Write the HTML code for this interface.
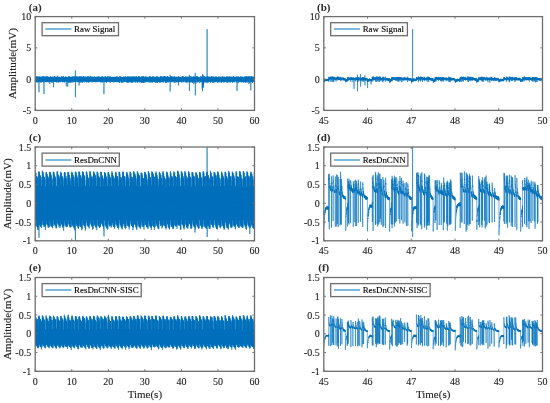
<!DOCTYPE html>
<html><head><meta charset="utf-8"><title>Figure</title>
<style>
html,body{margin:0;padding:0;background:#fff;width:550px;height:403px;overflow:hidden}
svg{display:block}
text{font-family:"Liberation Serif", "Times New Roman", serif;fill:#262626;stroke:#262626;stroke-width:0.12px}
.tk{font-size:10px}
.lg{font-size:8.9px;fill:#000;stroke:#000}
.pl{font-size:11px;font-weight:bold;fill:#2a2a2a;stroke:none}
.al{font-size:11px}
</style></head><body>
<svg width="550" height="403" viewBox="0 0 550 403">
<rect width="550" height="403" fill="#fff"/>
<clipPath id="c00"><rect x="35.20" y="16.60" width="219.30" height="93.80"/></clipPath>
<g clip-path="url(#c00)"><polyline points="35.2,82.1 35.4,78.9 35.6,78.3 35.6,81.0 35.7,81.5 35.7,76.2 35.8,76.9 36.0,82.2 36.0,76.8 36.1,80.3 36.2,76.6 36.4,81.5 36.4,76.7 36.6,82.0 36.7,81.2 36.7,77.2 36.9,80.7 37.0,77.9 37.0,82.5 37.2,77.6 37.2,80.8 37.3,76.3 37.5,81.8 37.5,77.0 37.6,76.8 37.7,82.5 37.9,82.3 38.0,76.5 38.1,77.0 38.2,81.6 38.2,77.5 38.3,80.3 38.5,81.9 38.5,76.8 38.6,80.9 38.6,78.0 38.8,78.5 38.9,82.9 39.0,92.3 39.1,78.7 39.2,81.2 39.3,76.7 39.5,82.3 39.5,76.7 39.8,77.0 39.8,81.4 39.9,81.2 40.0,76.8 40.1,81.9 40.2,77.0 40.3,81.4 40.3,76.7 40.6,77.8 40.6,80.6 40.7,78.5 40.7,82.7 40.8,82.0 40.9,76.9 41.2,81.2 41.2,76.9 41.3,76.9 41.3,82.0 41.5,82.3 41.5,77.2 41.7,82.1 41.7,76.8 41.9,80.4 41.9,77.3 42.0,81.4 42.1,76.6 42.2,77.8 42.3,80.5 42.5,78.0 42.5,82.0 42.7,79.0 42.7,81.2 43.0,81.3 43.0,76.4 43.1,81.4 43.1,76.5 43.2,81.4 43.3,76.2 43.4,81.8 43.5,76.4 43.6,82.5 43.7,76.4 43.9,77.1 44.0,94.1 44.0,77.5 44.2,80.5 44.2,77.9 44.3,82.1 44.5,81.9 44.6,77.0 44.8,81.5 44.8,76.7 44.8,81.9 45.0,76.7 45.1,81.0 45.1,76.6 45.3,77.4 45.4,81.2 45.5,81.6 45.5,76.8 45.6,81.4 45.7,77.9 45.8,82.0 45.9,77.7 46.0,78.0 46.2,82.4 46.2,81.5 46.4,78.9 46.5,81.6 46.6,76.8 46.7,81.8 46.7,76.7 46.9,81.3 46.9,76.4 47.2,82.0 47.2,77.2 47.3,81.8 47.3,76.0 47.5,80.9 47.6,77.0 47.6,81.9 47.6,77.4 47.9,78.1 48.0,80.7 48.0,82.2 48.2,77.3 48.3,81.0 48.3,76.6 48.5,82.2 48.5,77.2 48.7,81.6 48.7,77.0 48.9,77.3 48.9,81.7 49.1,81.7 49.2,77.2 49.3,81.9 49.3,77.3 49.4,81.4 49.4,77.5 49.6,80.9 49.7,78.1 49.8,84.1 50.0,79.4 50.1,78.6 50.2,81.7 50.2,81.6 50.3,76.4 50.4,82.0 50.4,76.8 50.6,81.9 50.6,76.9 51.0,82.0 51.0,76.6 51.1,76.9 51.2,81.0 51.2,77.4 51.3,81.8 51.5,80.6 51.6,77.6 51.6,78.2 51.7,82.8 51.8,76.9 51.9,81.3 52.0,77.1 52.1,80.6 52.4,82.0 52.4,77.0 52.5,82.3 52.5,76.9 52.7,81.3 52.7,76.8 53.0,82.4 53.0,77.4 53.0,81.5 53.0,76.9 53.3,77.8 53.3,80.5 53.4,77.9 53.5,87.3 53.8,81.3 53.8,78.8 53.9,81.3 54.0,76.6 54.1,80.9 54.2,76.7 54.2,81.9 54.3,77.0 54.5,81.2 54.5,77.1 54.8,81.5 54.8,76.4 54.9,81.7 54.9,76.4 55.0,81.7 55.0,77.3 55.2,78.7 55.3,82.0 55.4,81.0 55.6,77.0 55.6,77.3 55.7,81.2 55.8,82.1 55.9,77.0 56.1,81.7 56.1,77.4 56.3,82.1 56.4,77.0 56.6,82.3 56.6,76.6 56.6,81.3 56.7,77.4 56.9,78.1 57.0,80.9 57.0,77.9 57.2,82.3 57.4,78.6 57.4,81.5 57.5,81.5 57.5,76.7 57.7,75.7 57.8,81.8 58.0,81.4 58.0,76.9 58.1,76.6 58.2,82.4 58.3,81.9 58.4,77.1 58.4,82.1 58.4,77.3 58.6,81.1 58.7,77.1 58.8,77.5 59.0,82.5 59.1,81.8 59.2,77.0 59.3,81.4 59.4,76.8 59.4,81.8 59.6,77.1 59.7,77.3 59.8,81.4 60.0,81.1 60.0,77.2 60.2,80.7 60.2,77.2 60.3,81.5 60.4,77.4 60.4,81.8 60.5,77.8 60.8,78.0 60.8,82.1 60.8,82.0 61.0,78.4 61.0,78.9 61.1,81.6 61.3,81.4 61.3,76.1 61.5,76.9 61.6,80.2 61.7,80.6 61.8,77.4 61.9,81.8 61.9,76.7 62.0,81.2 62.1,76.9 62.3,81.2 62.3,77.5 62.4,77.1 62.6,80.4 62.6,82.4 62.8,77.2 63.0,80.8 63.0,76.6 63.0,81.1 63.0,77.2 63.2,76.4 63.4,82.2 63.5,76.4 63.6,81.5 63.6,77.0 63.7,81.4 63.9,80.7 63.9,76.6 64.1,81.8 64.1,77.2 64.2,78.0 64.3,81.3 64.4,78.4 64.5,82.5 64.7,81.3 64.7,78.6 64.9,81.5 64.9,77.1 65.2,80.7 65.2,77.0 65.3,81.3 65.3,77.1 65.5,81.0 65.5,76.5 65.7,81.4 65.7,77.5 65.9,77.1 66.0,81.2 66.0,77.7 66.1,81.1 66.3,86.3 66.3,78.0 66.4,81.3 66.5,76.9 66.7,81.1 66.7,76.8 66.8,81.9 66.9,77.2 67.0,80.7 67.2,77.3 67.3,77.2 67.4,81.5 67.5,77.3 67.6,80.9 67.7,86.6 67.8,77.0 67.9,77.5 67.9,80.6 68.0,78.3 68.1,82.2 68.2,78.1 68.2,81.3 68.5,82.5 68.6,76.7 68.6,81.3 68.6,76.5 68.9,76.7 68.9,82.5 69.1,82.1 69.2,76.5 69.4,81.9 69.4,76.2 69.5,81.4 69.5,77.0 69.6,77.8 69.7,81.1 69.9,77.6 69.9,83.0 70.0,81.7 70.2,77.1 70.2,77.1 70.4,81.1 70.4,82.6 70.6,77.0 70.6,77.3 70.8,82.1 70.8,82.0 71.0,76.7 71.1,81.4 71.2,77.0 71.2,80.8 71.2,77.0 71.4,81.7 71.5,77.8 71.7,77.8 71.7,82.7 71.8,81.4 71.9,78.4 72.1,81.7 72.1,76.7 72.3,80.8 72.3,77.0 72.4,76.5 72.5,80.7 72.8,77.1 72.8,81.8 72.9,82.4 73.0,76.4 73.1,81.9 73.2,77.0 73.4,78.0 73.4,81.0 73.4,77.8 73.6,82.2 73.6,81.7 73.8,77.0 73.9,81.4 74.0,76.6 74.2,81.4 74.2,77.0 74.2,76.4 74.4,82.0 74.5,76.8 74.6,81.8 74.7,77.1 74.8,81.6 74.8,77.0 75.0,80.7 75.1,76.9 75.1,81.0 75.4,70.4 75.4,97.3 75.5,78.8 75.5,81.9 75.7,78.6 75.7,82.0 75.8,76.7 76.0,81.1 76.2,81.3 76.2,77.0 76.2,76.0 76.4,80.9 76.6,80.7 76.6,76.9 76.7,76.7 76.8,81.9 76.8,77.5 76.9,80.8 77.1,81.0 77.1,78.2 77.2,82.3 77.4,77.1 77.5,81.6 77.5,76.7 77.6,77.2 77.8,80.9 77.9,76.7 78.0,81.8 78.2,81.9 78.2,76.5 78.4,77.2 78.4,81.9 78.5,77.0 78.6,82.1 78.7,80.9 78.7,77.4 78.9,77.7 79.0,80.4 79.1,85.4 79.1,78.5 79.2,81.3 79.3,78.7 79.5,81.8 79.5,77.0 79.7,82.5 79.7,76.2 80.0,81.0 80.0,76.3 80.0,76.9 80.2,82.3 80.4,80.4 80.4,77.2 80.5,76.9 80.5,82.1 80.6,77.1 80.8,80.5 80.8,77.8 80.9,82.4 81.1,81.9 81.1,76.2 81.3,81.6 81.3,76.9 81.5,81.5 81.6,76.9 81.7,77.2 81.8,81.2 81.8,76.8 81.9,81.5 82.2,77.3 82.2,81.4 82.2,77.3 82.3,82.6 82.6,77.9 82.6,80.4 82.7,78.0 82.7,82.8 82.8,81.7 82.9,78.9 83.0,81.5 83.1,76.5 83.3,81.4 83.3,76.2 83.4,77.1 83.6,81.1 83.7,76.8 83.8,81.9 83.9,81.4 83.9,76.4 84.1,81.7 84.1,77.0 84.2,77.4 84.3,80.8 84.4,77.9 84.6,82.3 84.6,81.1 84.8,76.8 84.8,81.5 84.8,77.5 85.0,80.7 85.0,77.4 85.3,80.9 85.4,77.4 85.5,81.4 85.6,76.5 85.8,77.4 85.8,81.3 86.0,77.2 86.0,82.1 86.0,77.3 86.1,80.4 86.2,78.0 86.4,82.5 86.5,78.6 86.6,81.4 86.8,77.0 86.8,81.5 87.0,80.8 87.0,77.0 87.0,76.4 87.1,81.9 87.2,81.2 87.2,77.3 87.5,81.4 87.5,76.9 87.6,81.8 87.6,76.6 87.8,81.4 87.8,76.8 88.0,78.0 88.2,82.8 88.3,81.6 88.4,76.7 88.5,82.2 88.5,77.2 88.7,80.9 88.7,76.6 88.8,82.0 88.8,76.7 89.2,81.9 89.2,76.8 89.3,80.9 89.3,77.3 89.5,80.8 89.5,76.7 89.7,81.5 89.8,77.8 89.9,78.0 90.0,82.1 90.0,82.3 90.2,79.0 90.2,81.4 90.4,78.8 90.4,81.4 90.4,76.6 90.6,75.8 90.8,80.9 90.9,80.5 90.9,76.7 91.1,80.4 91.1,76.6 91.3,76.8 91.3,80.8 91.5,80.7 91.5,77.3 91.7,80.9 91.8,78.0 91.8,82.5 92.0,77.6 92.1,76.8 92.1,81.9 92.2,81.9 92.4,76.8 92.4,77.4 92.6,81.7 92.6,77.1 92.7,81.6 92.9,80.7 92.9,76.9 93.1,81.2 93.2,77.3 93.3,81.2 93.3,76.9 93.6,77.7 93.6,80.8 93.6,78.5 93.7,82.1 93.9,81.1 93.9,78.5 94.0,81.7 94.2,76.9 94.3,81.7 94.3,76.6 94.5,76.8 94.6,81.3 94.7,81.1 94.7,76.8 95.0,76.8 95.0,81.9 95.1,82.2 95.1,76.8 95.3,78.2 95.4,80.4 95.4,78.3 95.5,82.1 95.7,81.5 95.8,77.1 95.9,81.0 95.9,77.5 96.1,77.2 96.1,82.2 96.3,77.0 96.4,81.3 96.4,77.0 96.6,81.2 96.7,81.7 96.7,76.7 96.9,81.3 96.9,77.7 97.0,81.0 97.0,77.4 97.2,78.2 97.3,82.2 97.5,81.3 97.6,78.9 97.8,81.7 97.8,76.4 97.9,81.1 97.9,77.0 98.1,76.6 98.2,81.7 98.3,76.6 98.3,81.4 98.5,81.8 98.6,77.0 98.8,81.5 98.8,77.4 99.0,77.3 99.0,80.6 99.1,78.2 99.2,82.2 99.2,81.3 99.3,76.3 99.5,80.9 99.5,77.3 99.7,77.2 99.8,81.5 99.8,80.1 100.0,77.0 100.1,81.0 100.1,77.0 100.3,81.5 100.3,77.5 100.5,81.8 100.6,77.2 100.7,81.3 100.7,77.1 100.9,77.9 101.0,82.6 101.0,81.9 101.2,78.4 101.2,81.6 101.4,78.8 101.5,76.9 101.5,82.2 101.7,76.8 101.7,81.0 101.9,81.5 101.9,76.7 102.1,82.1 102.1,76.5 102.2,81.1 102.3,76.5 102.5,82.0 102.5,76.6 102.8,78.1 102.8,82.5 102.9,81.9 103.0,77.4 103.1,77.2 103.2,80.7 103.3,77.5 103.4,81.1 103.4,77.0 103.5,81.3 103.8,81.8 103.8,76.7 103.9,77.4 103.9,94.1 104.1,81.6 104.1,77.8 104.3,77.2 104.3,81.0 104.4,78.1 104.6,81.9 104.6,82.1 104.8,78.4 104.9,78.6 104.9,81.6 105.0,81.2 105.0,76.5 105.3,81.6 105.3,76.3 105.5,82.1 105.5,76.9 105.7,81.7 105.7,76.7 105.9,77.1 106.0,82.0 106.1,81.5 106.1,77.4 106.3,78.1 106.4,81.0 106.4,83.1 106.6,77.2 106.6,81.9 106.8,76.8 107.0,81.7 107.0,76.9 107.1,81.3 107.1,77.1 107.2,77.4 107.4,81.1 107.4,76.8 107.6,81.6 107.7,81.9 107.7,76.4 108.0,82.0 108.0,77.4 108.2,80.8 108.2,77.8 108.3,78.1 108.4,82.1 108.6,79.0 108.6,81.1 108.7,81.3 108.7,76.6 108.9,80.5 108.9,76.6 109.1,81.5 109.2,76.8 109.3,76.5 109.4,81.6 109.4,81.3 109.4,77.1 109.7,81.4 109.7,77.3 109.9,77.7 110.0,80.8 110.0,77.9 110.1,83.0 110.4,82.0 110.4,76.4 110.5,80.6 110.6,77.3 110.7,81.5 110.7,77.0 110.9,77.3 110.9,80.4 111.1,76.8 111.2,81.1 111.4,81.7 111.4,77.2 111.5,77.4 111.5,81.7 111.6,77.2 111.7,80.5 111.9,78.5 112.0,82.0 112.1,78.6 112.2,81.7 112.3,81.0 112.4,77.2 112.5,81.4 112.6,76.8 112.7,81.5 112.7,77.1 112.9,80.9 112.9,77.2 113.1,82.1 113.1,76.9 113.4,81.3 113.4,77.0 113.4,77.2 113.6,80.5 113.7,78.3 113.8,82.7 114.0,82.6 114.0,77.1 114.1,77.1 114.2,81.3 114.3,77.1 114.4,80.3 114.4,81.8 114.6,76.7 114.6,77.2 114.7,81.0 114.9,82.0 114.9,77.0 115.1,81.4 115.2,77.0 115.3,80.5 115.3,77.3 115.5,77.5 115.6,82.1 115.7,81.7 115.8,79.1 116.0,81.9 116.0,76.8 116.2,81.3 116.2,77.0 116.2,76.9 116.4,80.8 116.4,76.6 116.6,81.2 116.7,81.6 116.8,76.5 116.9,76.8 116.9,82.2 117.1,77.1 117.2,80.9 117.2,78.0 117.2,81.0 117.5,82.1 117.6,77.6 117.6,77.1 117.7,81.9 117.9,76.4 117.9,82.0 118.2,80.7 118.2,77.0 118.4,82.1 118.4,77.1 118.6,81.6 118.6,77.0 118.7,82.1 118.8,77.3 118.9,77.8 119.0,80.3 119.2,78.2 119.2,81.0 119.2,78.6 119.3,83.0 119.5,81.4 119.6,78.3 119.7,81.8 119.8,75.9 119.8,76.7 120.0,80.3 120.1,76.5 120.2,81.7 120.3,80.9 120.3,77.3 120.6,80.7 120.6,76.5 120.7,80.2 120.8,77.0 121.0,81.1 121.0,77.9 121.0,78.0 121.1,82.8 121.3,81.9 121.3,76.9 121.4,82.1 121.5,77.1 121.7,82.3 121.8,76.9 121.8,77.4 121.9,82.6 122.0,81.4 122.2,77.3 122.3,82.0 122.4,77.2 122.6,81.6 122.6,77.5 122.6,77.3 122.7,80.7 122.8,78.0 122.9,83.0 123.2,81.8 123.2,78.3 123.3,76.6 123.4,81.6 123.4,77.2 123.6,81.0 123.7,76.8 123.8,81.1 124.0,81.1 124.0,76.9 124.0,77.0 124.1,81.9 124.4,81.6 124.4,77.1 124.5,77.5 124.5,80.7 124.7,78.2 124.8,82.2 124.9,81.3 125.0,76.7 125.0,81.5 125.2,76.4 125.4,81.6 125.4,76.7 125.4,77.6 125.6,81.3 125.7,81.2 125.8,76.9 125.9,80.6 126.0,77.3 126.1,81.6 126.2,77.3 126.3,80.5 126.3,77.8 126.6,77.7 126.6,82.4 126.7,81.9 126.8,78.5 126.9,81.6 127.0,76.7 127.1,81.4 127.1,76.7 127.4,82.8 127.4,76.8 127.6,80.6 127.6,77.2 127.8,82.4 127.8,77.1 127.9,81.8 127.9,76.6 128.1,77.3 128.2,80.5 128.3,78.3 128.4,82.6 128.5,81.9 128.6,76.9 128.7,81.1 128.7,76.4 128.9,81.6 128.9,77.0 129.2,82.4 129.2,77.2 129.3,76.9 129.3,81.2 129.5,76.9 129.5,80.2 129.8,77.3 129.8,81.9 129.8,81.3 129.9,76.5 130.1,77.8 130.2,82.5 130.3,81.9 130.4,78.9 130.6,81.8 130.6,77.7 130.7,81.7 130.7,76.8 130.9,76.4 131.0,81.0 131.0,77.0 131.2,82.1 131.3,76.9 131.3,81.5 131.5,82.6 131.5,76.7 131.7,80.7 131.7,77.2 131.9,77.7 132.0,82.4 132.1,82.5 132.2,77.1 132.4,82.5 132.4,77.3 132.5,81.3 132.6,77.0 132.8,82.2 132.8,76.9 133.0,80.8 133.0,76.1 133.1,77.1 133.2,81.0 133.3,76.5 133.4,81.9 133.5,81.4 133.5,77.5 133.7,80.5 133.7,78.1 133.8,78.4 133.9,82.4 134.2,81.2 134.2,78.5 134.3,81.1 134.4,76.7 134.5,76.7 134.6,80.0 134.7,81.4 134.7,76.8 134.9,81.1 134.9,77.0 135.1,81.8 135.2,76.7 135.4,80.8 135.4,77.1 135.5,77.7 135.6,80.8 135.7,77.6 135.7,82.8 135.9,76.6 135.9,81.8 136.1,80.4 136.2,77.1 136.3,81.3 136.3,76.4 136.5,76.7 136.6,81.3 136.7,81.5 136.8,76.7 137.0,82.2 137.0,77.4 137.1,77.2 137.2,80.7 137.3,80.9 137.3,77.7 137.5,78.2 137.6,82.9 137.7,81.9 137.8,78.9 138.0,82.0 138.0,76.7 138.2,81.4 138.2,76.7 138.3,81.7 138.3,76.4 138.5,76.4 138.5,81.3 138.7,76.4 138.8,81.2 138.9,76.5 139.0,81.7 139.1,77.0 139.2,80.5 139.3,78.3 139.4,82.4 139.5,81.9 139.6,76.7 139.7,82.0 139.8,77.1 139.9,81.1 139.9,76.8 140.1,76.9 140.2,81.4 140.4,81.7 140.4,76.8 140.5,77.3 140.5,81.4 140.7,77.3 140.8,82.4 140.9,81.1 140.9,77.2 141.1,78.1 141.2,82.8 141.3,81.5 141.4,78.5 141.6,81.1 141.6,76.4 141.7,76.9 141.8,81.5 141.9,82.1 142.0,77.0 142.1,82.7 142.1,76.3 142.3,82.6 142.3,76.1 142.5,76.7 142.6,81.6 142.7,80.9 142.7,77.4 142.9,78.1 143.0,82.0 143.1,83.1 143.2,77.8 143.3,82.4 143.3,76.7 143.5,82.4 143.5,76.4 143.7,81.5 143.7,76.8 144.0,76.6 144.0,81.9 144.1,77.1 144.2,82.6 144.4,81.1 144.4,77.4 144.5,77.8 144.6,81.0 144.8,77.7 144.8,82.6 144.9,81.9 145.0,78.9 145.1,78.7 145.2,81.4 145.3,76.4 145.4,81.4 145.6,82.1 145.6,76.5 145.7,76.6 145.8,81.6 145.9,76.8 146.0,81.8 146.2,81.0 146.2,76.5 146.3,77.4 146.3,80.7 146.5,78.1 146.6,80.9 146.7,82.2 146.8,77.3 147.0,77.3 147.0,80.8 147.1,82.1 147.1,77.2 147.3,81.3 147.4,77.2 147.5,76.9 147.6,81.3 147.7,76.9 147.8,81.5 148.0,81.9 148.0,77.4 148.2,81.5 148.2,77.5 148.3,77.9 148.4,80.9 148.5,78.3 148.5,82.3 148.7,81.3 148.8,78.3 148.9,81.2 149.0,76.6 149.2,76.5 149.2,81.2 149.3,77.1 149.4,81.6 149.5,76.5 149.6,81.1 149.7,81.0 149.7,76.6 150.0,82.7 150.0,76.6 150.1,77.6 150.2,80.5 150.3,78.5 150.3,82.4 150.5,81.2 150.5,76.9 150.7,81.4 150.7,76.5 150.9,80.6 150.9,76.9 151.2,81.9 151.2,77.2 151.3,76.9 151.4,80.6 151.5,81.2 151.5,77.2 151.7,82.3 151.8,77.2 151.9,77.8 152.1,80.6 152.1,77.2 152.2,82.9 152.3,81.6 152.3,78.6 152.6,81.8 152.6,76.7 152.8,81.3 152.8,76.0 152.9,76.1 152.9,81.3 153.1,77.1 153.2,81.2 153.3,76.8 153.3,81.5 153.5,82.0 153.5,76.7 153.7,77.4 153.8,80.7 153.9,78.5 154.0,82.2 154.2,81.4 154.2,76.9 154.4,77.4 154.4,82.0 154.6,77.2 154.6,81.6 154.8,81.7 154.8,77.1 155.0,81.8 155.0,77.0 155.1,77.1 155.1,81.3 155.3,82.5 155.3,76.7 155.5,80.7 155.5,77.6 155.7,78.3 155.8,82.7 155.9,82.0 156.0,79.2 156.1,81.4 156.2,77.6 156.4,81.5 156.4,76.8 156.5,76.2 156.6,82.8 156.7,81.9 156.8,76.6 156.9,76.4 157.0,81.1 157.1,81.2 157.3,76.8 157.3,81.3 157.3,77.0 157.5,77.9 157.6,83.0 157.7,81.7 157.8,76.7 157.9,81.9 157.9,77.1 158.1,81.9 158.1,76.8 158.4,81.7 158.4,77.3 158.5,76.9 158.6,81.8 158.8,81.2 158.8,77.1 158.9,77.0 159.0,82.0 159.2,80.3 159.2,77.9 159.3,78.0 159.4,80.8 159.5,82.6 159.6,79.2 159.8,78.7 159.8,81.5 160.0,82.4 160.0,76.9 160.2,81.0 160.2,76.7 160.4,82.3 160.4,76.3 160.5,81.3 160.5,76.9 160.7,76.2 160.7,81.8 161.0,81.5 161.0,76.8 161.1,78.1 161.2,80.8 161.3,78.0 161.3,82.3 161.5,81.4 161.5,76.5 161.8,77.1 161.8,81.2 161.9,81.9 162.0,77.2 162.1,81.7 162.1,76.6 162.4,82.0 162.4,77.2 162.5,76.7 162.6,81.9 162.7,77.6 162.8,81.5 162.9,77.6 162.9,81.1 163.1,78.3 163.1,82.8 163.4,81.9 163.4,78.6 163.5,81.6 163.5,77.3 163.7,80.4 163.7,77.2 163.9,81.1 163.9,76.1 164.1,81.3 164.1,76.5 164.3,81.0 164.3,76.6 164.6,81.1 164.6,76.6 164.7,78.2 164.8,80.8 164.9,78.2 164.9,82.1 165.1,82.3 165.2,76.6 165.3,81.3 165.4,76.5 165.5,81.0 165.6,76.7 165.7,82.5 165.7,77.2 165.9,82.7 166.0,77.1 166.1,83.0 166.2,77.2 166.3,80.9 166.4,77.6 166.5,78.3 166.6,80.6 166.8,77.8 166.8,82.3 167.0,81.6 167.0,78.7 167.2,76.3 167.3,82.2 167.4,81.7 167.4,76.4 167.6,82.1 167.6,76.3 167.7,76.1 167.8,81.7 167.9,81.9 167.9,76.9 168.1,81.3 168.1,76.8 168.3,81.5 168.3,77.2 168.5,77.6 168.6,82.5 168.7,81.6 168.8,77.2 169.0,81.5 169.0,77.1 169.2,77.5 169.3,81.7 169.3,77.2 169.4,81.0 169.5,77.0 169.6,81.8 169.7,80.4 169.9,77.4 170.0,81.0 170.0,77.2 170.1,74.8 170.1,91.6 170.4,78.0 170.4,82.1 170.5,81.9 170.7,78.6 170.7,81.4 170.8,76.6 170.9,81.5 170.9,76.2 171.1,76.8 171.3,82.2 171.3,76.3 171.3,81.3 171.6,81.5 171.6,76.8 171.7,81.6 171.7,77.6 172.0,77.3 172.1,80.6 172.2,77.9 172.3,81.9 172.3,82.2 172.4,77.3 172.5,76.7 172.6,80.5 172.7,81.7 172.8,77.3 172.9,81.6 173.0,76.8 173.2,80.9 173.2,76.6 173.4,81.2 173.4,77.2 173.5,77.7 173.6,81.5 173.7,77.6 173.8,80.6 174.0,77.4 174.1,80.3 174.1,77.9 174.1,83.1 174.3,81.3 174.3,78.7 174.5,76.4 174.6,81.3 174.7,82.3 174.7,76.8 174.9,81.5 174.9,76.9 175.1,76.9 175.3,80.7 175.3,81.1 175.4,77.0 175.5,77.0 175.6,81.4 175.7,77.6 175.8,80.9 175.9,78.1 175.9,82.7 176.1,76.5 176.1,82.1 176.3,77.1 176.4,81.4 176.6,81.5 176.6,77.2 176.8,82.1 176.8,77.5 177.0,81.6 177.0,77.4 177.1,81.9 177.2,76.9 177.4,81.7 177.4,77.5 177.5,77.7 177.6,81.3 177.8,78.0 177.8,82.3 177.9,81.6 178.0,78.7 178.2,82.2 178.2,76.5 178.4,81.5 178.5,76.9 178.5,85.4 178.6,76.6 178.8,77.1 178.8,80.7 178.9,76.7 178.9,81.8 179.2,81.5 179.2,76.9 179.4,77.6 179.4,80.8 179.5,78.3 179.6,82.1 179.7,81.6 179.8,77.5 180.0,76.9 180.1,81.5 180.1,80.5 180.1,76.9 180.4,82.0 180.4,77.0 180.5,77.3 180.6,80.9 180.7,77.2 180.8,81.3 181.0,81.6 181.0,77.0 181.1,77.5 181.1,81.0 181.4,78.2 181.4,82.5 181.6,78.7 181.6,81.5 181.8,81.8 181.8,76.6 182.0,76.7 182.0,82.5 182.1,81.7 182.2,76.1 182.4,76.6 182.4,80.9 182.5,81.4 182.5,76.8 182.7,76.6 182.8,81.0 182.9,77.9 183.1,80.4 183.1,77.6 183.2,82.3 183.4,81.1 183.4,77.4 183.6,81.1 183.6,76.2 183.8,81.8 183.9,77.0 183.9,80.4 183.9,77.3 184.1,81.6 184.1,77.2 184.4,77.4 184.5,80.7 184.6,80.6 184.6,77.3 184.7,77.6 184.8,80.4 184.9,77.6 185.1,82.0 185.1,82.4 185.2,79.2 185.4,81.3 185.4,78.5 185.7,82.3 185.7,76.5 185.7,76.5 185.7,80.8 186.0,80.6 186.0,76.8 186.2,81.3 186.2,76.8 186.4,80.8 186.4,77.4 186.6,81.9 186.6,76.9 186.7,80.4 186.8,77.7 186.9,83.2 187.1,77.4 187.2,81.7 187.2,76.6 187.3,76.9 187.3,81.4 187.6,80.3 187.6,77.2 187.7,76.8 187.8,81.8 187.9,77.1 188.0,82.1 188.1,77.8 188.1,80.6 188.3,81.0 188.3,77.5 188.5,80.6 188.7,77.2 188.7,78.3 188.7,82.4 188.9,78.8 189.0,81.3 189.1,81.2 189.1,76.2 189.4,74.8 189.4,91.0 189.5,76.6 189.6,81.5 189.7,82.6 189.8,76.4 189.9,77.2 189.9,81.0 190.2,81.8 190.2,76.1 190.3,77.9 190.4,80.8 190.5,78.3 190.6,82.3 190.7,80.6 190.9,77.7 190.9,82.2 190.9,77.1 191.3,81.1 191.3,76.4 191.3,76.7 191.4,82.3 191.5,81.0 191.6,77.2 191.8,81.1 191.8,77.0 192.0,81.4 192.0,77.6 192.1,77.9 192.3,80.9 192.3,77.7 192.4,82.9 192.5,78.9 192.7,81.6 192.7,82.3 192.8,77.3 193.0,81.1 193.0,76.5 193.2,82.1 193.3,76.8 193.3,80.5 193.3,76.8 193.5,81.2 193.6,76.7 193.8,76.8 193.8,84.1 193.9,81.4 193.9,77.3 194.2,77.9 194.2,82.6 194.4,81.6 194.5,76.5 194.7,81.3 194.7,76.8 194.7,82.4 194.7,77.1 194.9,77.0 195.1,82.1 195.2,81.4 195.2,76.9 195.3,72.9 195.3,95.4 195.5,82.0 195.5,77.1 195.7,80.8 195.7,77.3 195.9,77.4 196.0,82.5 196.1,83.5 196.2,79.1 196.4,81.4 196.5,76.8 196.5,81.4 196.5,76.4 196.9,81.5 196.9,76.9 197.0,80.6 197.0,76.6 197.1,81.5 197.2,76.8 197.3,76.6 197.4,80.6 197.5,80.8 197.5,76.6 197.7,78.0 197.8,82.7 198.0,81.7 198.0,76.9 198.2,77.4 198.3,81.1 198.3,77.0 198.3,81.2 198.5,81.8 198.5,76.8 198.7,81.7 198.9,77.1 198.9,77.2 199.0,80.8 199.2,80.6 199.2,77.3 199.3,77.7 199.5,80.5 199.5,77.9 199.7,81.4 199.7,83.2 199.9,79.0 200.0,80.9 200.0,78.8 200.2,81.8 200.2,76.6 200.3,76.4 200.4,81.8 200.5,82.1 200.6,76.9 200.7,81.6 200.9,76.3 201.1,80.9 201.1,76.9 201.1,76.8 201.2,80.7 201.3,77.5 201.4,80.7 201.5,82.3 201.7,77.4 201.7,76.8 201.7,81.2 201.9,81.9 202.0,77.2 202.1,77.1 202.2,88.8 202.3,81.3 202.4,77.3 202.5,74.8 202.5,91.3 202.7,74.3 202.7,86.6 202.9,77.3 203.0,81.7 203.1,75.4 203.1,85.4 203.3,78.4 203.3,87.9 203.5,78.6 203.6,84.3 203.7,81.5 203.8,76.6 204.0,77.1 204.1,82.0 204.1,76.4 204.2,81.9 204.3,81.8 204.4,76.5 204.6,82.2 204.6,76.6 204.8,81.8 204.8,76.8 204.9,78.0 205.1,81.1 205.2,78.3 205.2,82.6 205.3,77.1 205.4,81.3 205.5,77.0 205.7,80.2 205.7,76.8 205.8,81.0 205.9,82.0 205.9,76.8 206.1,77.0 206.2,82.3 206.3,80.6 206.4,76.8 206.6,80.5 206.7,76.7 206.7,82.1 206.7,77.4 206.9,78.0 207.0,83.3 207.1,29.1 207.2,81.5 207.3,81.1 207.4,77.0 207.6,82.2 207.6,76.4 207.7,81.5 207.8,76.6 207.9,82.1 208.0,77.2 208.1,76.7 208.2,81.2 208.4,82.0 208.4,76.7 208.5,77.8 208.6,80.5 208.7,77.9 208.8,82.5 209.0,82.1 209.1,76.9 209.3,81.2 209.3,76.8 209.3,77.1 209.4,81.1 209.5,81.7 209.6,77.1 209.7,81.5 209.7,77.3 209.9,81.4 209.9,77.3 210.1,76.6 210.2,82.1 210.3,77.5 210.4,80.7 210.6,78.1 210.7,82.7 210.7,82.0 210.9,78.7 211.0,81.7 211.1,76.9 211.1,81.8 211.2,76.6 211.3,81.4 211.4,76.8 211.5,80.6 211.5,76.7 211.7,76.1 211.8,82.0 212.0,76.8 212.1,81.2 212.1,77.0 212.3,80.2 212.5,78.4 212.5,82.7 212.5,81.8 212.6,77.0 212.8,77.0 212.9,81.3 212.9,76.4 213.0,81.6 213.1,77.4 213.2,80.8 213.3,76.9 213.4,82.2 213.6,82.9 213.7,76.7 213.7,80.9 213.7,77.0 213.9,81.2 213.9,77.6 214.1,80.7 214.2,77.9 214.3,78.7 214.3,82.4 214.5,78.7 214.6,81.4 214.7,81.4 214.7,77.2 214.9,81.8 215.0,76.5 215.2,76.5 215.2,82.2 215.4,81.0 215.4,76.8 215.6,82.0 215.7,77.0 215.7,81.2 215.7,77.3 215.9,80.5 216.0,77.6 216.1,82.1 216.3,77.8 216.3,81.7 216.4,76.4 216.6,80.4 216.6,77.0 216.8,77.0 216.9,81.6 216.9,77.3 217.1,80.6 217.1,77.0 217.2,81.8 217.4,82.4 217.4,77.1 217.5,82.0 217.5,77.6 217.8,80.9 217.8,78.2 217.9,78.4 217.9,82.4 218.2,79.0 218.2,81.5 218.3,81.2 218.5,76.8 218.6,82.3 218.7,76.7 218.7,76.6 218.8,80.8 219.0,82.1 219.1,76.7 219.1,76.7 219.2,80.5 219.3,76.9 219.4,81.4 219.6,80.4 219.6,77.6 219.7,78.4 219.8,82.4 219.9,80.7 220.1,77.6 220.1,81.6 220.1,77.1 220.3,77.2 220.5,81.0 220.5,77.3 220.7,81.5 220.8,81.4 220.8,76.7 220.9,77.5 221.0,81.1 221.2,82.5 221.2,77.3 221.4,77.7 221.4,80.6 221.6,78.1 221.6,82.8 221.7,81.9 221.7,78.6 221.9,81.6 222.1,76.3 222.1,77.0 222.2,81.0 222.3,81.3 222.3,76.8 222.5,81.5 222.5,76.8 222.7,81.8 222.7,77.1 222.9,81.1 222.9,76.7 223.2,80.7 223.2,77.9 223.3,78.1 223.4,82.2 223.5,81.6 223.6,77.0 223.8,77.1 223.9,82.4 223.9,82.0 224.1,76.6 224.2,82.2 224.2,77.0 224.4,81.4 224.4,77.1 224.5,81.4 224.5,76.8 224.8,77.3 224.9,82.2 224.9,77.3 225.1,80.4 225.2,78.3 225.3,81.5 225.3,82.0 225.4,78.8 225.6,78.6 225.6,81.4 225.7,76.9 225.8,80.9 225.9,81.6 226.0,76.9 226.1,80.7 226.2,77.3 226.3,76.6 226.4,81.8 226.6,81.1 226.7,76.8 226.7,81.3 226.7,77.2 227.0,78.2 227.1,82.9 227.2,76.6 227.3,82.4 227.5,81.7 227.5,76.7 227.5,81.7 227.5,77.2 227.8,80.9 227.8,76.8 228.0,82.0 228.1,77.3 228.1,81.5 228.2,77.6 228.3,80.8 228.4,76.7 228.6,80.9 228.6,77.0 228.7,78.2 228.8,80.8 228.9,78.3 228.9,82.6 229.2,81.3 229.2,79.0 229.4,76.4 229.5,81.9 229.6,76.8 229.6,81.3 229.7,81.9 229.8,77.1 229.9,80.5 230.0,76.9 230.1,82.3 230.1,76.5 230.4,77.1 230.4,81.9 230.5,81.3 230.6,77.8 230.7,77.8 230.7,82.3 231.0,81.3 231.1,77.0 231.1,76.6 231.2,81.2 231.4,81.2 231.4,77.3 231.6,77.2 231.6,81.8 231.8,81.4 231.8,77.0 231.9,81.4 232.0,76.9 232.1,77.6 232.3,81.7 232.3,77.6 232.5,80.8 232.6,78.1 232.6,83.0 232.7,81.5 232.8,78.4 233.0,81.5 233.0,76.8 233.1,76.8 233.3,81.1 233.3,76.0 233.4,82.2 233.5,81.7 233.6,77.0 233.8,77.1 233.9,81.0 234.0,81.9 234.0,76.7 234.1,80.9 234.1,77.4 234.4,78.0 234.4,81.8 234.6,82.3 234.7,77.0 234.9,81.6 234.9,76.9 234.9,81.2 234.9,77.1 235.2,76.8 235.2,81.1 235.3,80.7 235.4,77.2 235.6,80.7 235.6,77.4 235.9,81.2 235.9,76.9 236.0,77.5 236.1,80.5 236.2,78.1 236.2,82.5 236.3,82.2 236.5,78.8 236.7,81.5 236.7,76.4 236.7,76.9 236.8,81.3 236.9,76.8 237.0,91.0 237.2,81.4 237.3,77.2 237.3,77.4 237.5,80.7 237.5,76.6 237.6,80.6 237.7,81.6 237.7,76.8 238.0,78.3 238.0,83.3 238.2,81.5 238.3,77.0 238.4,76.9 238.4,81.8 238.6,82.2 238.7,76.4 238.7,77.2 238.7,81.7 239.0,77.5 239.0,80.5 239.2,77.2 239.3,81.4 239.4,77.0 239.5,81.4 239.5,77.3 239.6,80.8 239.7,77.7 239.9,82.3 239.9,82.4 240.1,79.1 240.2,78.6 240.3,81.8 240.3,81.9 240.4,76.7 240.6,81.0 240.6,77.0 240.7,81.2 240.7,76.7 240.9,82.1 241.1,76.8 241.2,81.3 241.2,77.5 241.3,81.3 241.3,76.6 241.5,78.0 241.7,82.3 241.8,82.4 241.8,77.4 241.9,80.4 241.9,77.2 242.2,81.8 242.2,76.8 242.3,76.7 242.4,82.2 242.5,76.8 242.6,80.6 242.9,81.7 242.9,77.1 243.0,77.1 243.0,82.1 243.1,80.9 243.3,77.2 243.3,77.9 243.4,80.5 243.5,77.6 243.5,82.4 243.7,81.3 243.8,78.8 243.9,81.5 244.0,76.9 244.1,82.5 244.2,76.9 244.4,81.5 244.4,76.8 244.6,81.8 244.7,76.8 244.8,77.0 244.9,81.2 244.9,76.7 245.1,81.1 245.1,77.6 245.3,81.0 245.3,77.5 245.4,82.8 245.7,81.9 245.7,76.6 245.8,81.3 245.8,76.7 245.9,81.9 246.0,76.9 246.3,82.2 246.3,76.5 246.4,82.2 246.4,76.8 246.6,80.3 246.6,77.1 246.8,81.3 246.8,76.6 246.9,77.8 247.0,80.4 247.1,77.9 247.2,82.3 247.4,81.5 247.4,78.8 247.6,81.4 247.6,77.2 247.8,81.1 247.9,76.2 247.9,76.6 248.0,80.1 248.1,82.7 248.2,76.6 248.4,77.1 248.5,81.2 248.7,82.0 248.7,76.7 248.8,80.6 248.9,77.8 248.9,77.5 249.0,84.0 249.2,81.9 249.2,76.8 249.3,80.5 249.3,76.8 249.5,82.8 249.6,76.8 249.8,81.7 249.9,76.9 250.0,76.0 250.1,81.3 250.2,82.0 250.3,76.7 250.5,82.0 250.5,77.5 250.5,77.2 250.7,80.5 250.8,78.1 250.8,90.4 250.9,81.8 251.0,79.0 251.3,81.5 251.3,76.6 251.4,81.7 251.5,76.4 251.5,81.3 251.5,76.7 251.7,81.6 251.9,76.9 252.0,82.1 252.0,76.3 252.2,77.4 252.3,83.0 252.3,80.8 252.4,77.0 252.6,77.8 252.7,82.7 252.7,82.3 252.9,77.1 252.9,81.7 253.0,76.5 253.2,76.8 253.3,81.6 253.3,77.4 253.4,79.8 253.6,77.0 253.7,81.5 253.8,82.0 253.8,77.1 254.0,81.9 254.0,77.3 254.1,76.8 254.2,80.9 254.4,77.8 254.5,82.7" fill="none" stroke="#0072BD" stroke-width="0.60" stroke-linejoin="round"/></g>
<path d="M35.20 110.40v-2.20M35.20 16.60v2.20M71.75 110.40v-2.20M71.75 16.60v2.20M108.30 110.40v-2.20M108.30 16.60v2.20M144.85 110.40v-2.20M144.85 16.60v2.20M181.40 110.40v-2.20M181.40 16.60v2.20M217.95 110.40v-2.20M217.95 16.60v2.20M254.50 110.40v-2.20M254.50 16.60v2.20M35.20 110.40h2.20M254.50 110.40h-2.20M35.20 79.13h2.20M254.50 79.13h-2.20M35.20 47.87h2.20M254.50 47.87h-2.20M35.20 16.60h2.20M254.50 16.60h-2.20" stroke="#6e6e6e" stroke-width="0.9" fill="none"/>
<rect x="35.20" y="16.60" width="219.30" height="93.80" fill="none" stroke="#6e6e6e" stroke-width="1.3"/>
<text x="35.20" y="123.90" class="tk" text-anchor="middle">0</text>
<text x="71.75" y="123.90" class="tk" text-anchor="middle">10</text>
<text x="108.30" y="123.90" class="tk" text-anchor="middle">20</text>
<text x="144.85" y="123.90" class="tk" text-anchor="middle">30</text>
<text x="181.40" y="123.90" class="tk" text-anchor="middle">40</text>
<text x="217.95" y="123.90" class="tk" text-anchor="middle">50</text>
<text x="254.50" y="123.90" class="tk" text-anchor="middle">60</text>
<text x="31.20" y="113.90" class="tk" text-anchor="end">-5</text>
<text x="31.20" y="82.63" class="tk" text-anchor="end">0</text>
<text x="31.20" y="51.37" class="tk" text-anchor="end">5</text>
<text x="31.20" y="20.10" class="tk" text-anchor="end">10</text>
<rect x="42.10" y="22.70" width="76.40" height="13.00" fill="#fff" stroke="#6e6e6e" stroke-width="1.3"/>
<path d="M45.40 29.00h26" stroke="#0072BD" stroke-width="1" fill="none"/>
<text x="74.10" y="32.40" class="lg">Raw Signal</text>
<text x="35.20" y="11.40" class="pl" text-anchor="middle">(a)</text>
<clipPath id="c10"><rect x="323.80" y="16.60" width="218.70" height="93.80"/></clipPath>
<g clip-path="url(#c10)"><polyline points="323.8,83.2 323.8,80.6 323.9,81.6 324.0,80.7 324.1,81.8 324.1,81.1 324.2,80.4 324.3,81.9 324.3,79.5 324.4,81.3 324.5,81.9 324.5,79.5 324.6,79.6 324.7,80.4 324.7,80.0 324.8,81.1 324.9,81.0 324.9,79.6 325.0,80.2 325.0,79.4 325.1,79.7 325.1,80.7 325.2,81.2 325.2,79.9 325.3,80.8 325.3,79.6 325.4,79.4 325.5,80.9 325.6,80.9 325.6,79.4 325.7,80.5 325.8,79.3 325.9,79.2 325.9,80.5 325.9,79.1 326.0,80.5 326.1,81.1 326.1,79.0 326.2,80.5 326.2,79.1 326.3,79.5 326.4,80.6 326.4,80.6 326.5,79.7 326.6,80.7 326.6,79.2 326.8,79.2 326.8,80.3 326.8,80.0 326.9,80.7 327.0,80.8 327.0,80.0 327.1,80.7 327.1,80.1 327.2,79.3 327.2,80.7 327.4,80.7 327.4,79.4 327.5,80.3 327.5,79.1 327.6,79.8 327.6,80.4 327.7,78.9 327.7,80.6 327.8,79.6 327.9,80.9 328.0,80.6 328.0,79.1 328.1,80.5 328.2,78.8 328.3,80.2 328.3,79.1 328.3,79.0 328.4,80.7 328.5,79.1 328.5,80.7 328.6,80.9 328.7,79.2 328.7,81.8 328.7,76.7 328.9,77.2 328.9,78.0 329.0,77.7 329.0,78.7 329.1,79.3 329.1,77.6 329.2,79.2 329.2,78.3 329.4,79.7 329.4,77.9 329.5,77.6 329.5,79.9 329.6,77.6 329.6,79.1 329.7,77.7 329.8,79.0 329.8,79.0 329.9,77.7 330.0,79.1 330.0,77.9 330.1,78.4 330.2,79.0 330.2,77.8 330.3,80.1 330.3,81.8 330.4,76.6 330.5,76.9 330.5,78.5 330.6,78.9 330.7,76.9 330.7,78.9 330.8,77.5 330.8,77.8 330.9,78.9 331.0,77.4 331.0,79.3 331.1,77.4 331.2,79.0 331.2,77.1 331.3,79.5 331.4,77.8 331.4,79.1 331.4,77.9 331.5,79.5 331.6,78.3 331.7,79.2 331.7,81.5 331.8,76.4 331.9,76.8 331.9,78.1 332.0,78.8 332.0,76.7 332.1,78.4 332.2,77.7 332.2,77.3 332.3,79.1 332.4,76.9 332.4,79.0 332.5,78.9 332.5,77.8 332.6,78.3 332.6,79.6 332.7,81.8 332.7,76.9 332.8,78.7 332.9,77.3 333.0,78.7 333.1,77.5 333.1,79.6 333.2,77.5 333.2,81.6 333.2,76.7 333.4,77.5 333.4,78.7 333.4,77.3 333.5,78.8 333.6,78.0 333.6,79.0 333.8,82.1 333.8,77.2 333.8,78.5 333.9,77.9 333.9,76.9 334.0,78.1 334.1,77.1 334.2,78.8 334.3,77.3 334.3,78.8 334.3,77.8 334.4,79.9 334.4,79.0 334.5,76.9 334.6,77.7 334.7,78.7 334.7,77.1 334.7,79.2 334.9,77.9 334.9,80.0 334.9,77.7 335.0,80.2 335.1,79.1 335.1,78.3 335.2,78.0 335.3,79.4 335.3,79.2 335.4,78.6 335.5,79.3 335.5,78.2 335.6,78.2 335.7,79.8 335.7,78.2 335.8,79.4 335.9,79.8 335.9,78.3 336.0,81.6 336.0,77.5 336.1,78.3 336.1,77.8 336.3,77.8 336.3,79.1 336.3,77.8 336.4,79.0 336.5,78.0 336.6,79.2 336.6,79.3 336.6,78.3 336.7,77.3 336.7,79.0 336.8,78.3 336.9,79.5 336.9,77.8 337.0,79.2 337.1,79.4 337.1,77.9 337.2,78.3 337.2,79.4 337.3,80.4 337.3,76.9 337.5,78.3 337.5,76.8 337.6,78.5 337.7,77.9 337.7,78.8 337.8,76.9 337.9,80.1 337.9,77.0 338.0,77.1 338.0,78.9 338.1,76.3 338.1,78.4 338.3,77.3 338.3,79.1 338.3,78.8 338.4,78.0 338.5,78.2 338.5,80.1 338.6,78.7 338.7,77.1 338.7,77.9 338.7,78.7 338.8,77.7 338.9,79.8 338.9,79.1 339.0,77.8 339.1,78.1 339.1,79.1 339.2,79.2 339.3,77.5 339.3,77.7 339.4,79.4 339.5,78.5 339.5,79.6 339.6,78.3 339.7,79.8 339.7,79.0 339.7,77.7 339.8,79.9 339.9,78.7 340.0,79.5 340.0,77.6 340.1,80.2 340.2,78.1 340.2,78.6 340.3,79.4 340.3,77.5 340.4,79.4 340.5,80.9 340.5,76.9 340.6,76.8 340.6,78.9 340.7,77.9 340.8,79.6 340.8,77.9 340.9,79.3 341.0,79.4 341.0,78.1 341.1,78.2 341.2,79.0 341.2,78.2 341.2,79.4 341.3,79.8 341.4,78.4 341.4,78.6 341.5,79.5 341.6,78.5 341.6,80.1 341.7,79.1 341.8,80.0 341.9,80.7 341.9,78.1 342.0,78.5 342.0,76.9 342.1,78.7 342.2,78.0 342.2,77.7 342.3,79.0 342.3,78.2 342.4,79.1 342.4,79.1 342.5,78.0 342.6,79.1 342.7,78.1 342.7,79.0 342.7,78.3 342.8,79.2 342.9,79.6 343.0,79.9 343.0,78.6 343.1,79.4 343.1,78.2 343.2,78.5 343.2,80.1 343.4,80.4 343.4,77.5 343.4,80.1 343.5,77.9 343.6,80.0 343.7,78.3 343.7,78.5 343.7,80.2 343.9,79.1 343.9,79.8 343.9,79.9 344.1,79.1 344.1,78.0 344.2,79.7 344.2,78.9 344.2,79.6 344.4,79.7 344.4,78.3 344.4,79.2 344.6,80.3 344.6,80.7 344.7,79.2 344.8,79.9 344.8,78.8 344.8,78.3 344.9,79.7 344.9,79.2 345.0,80.2 345.1,79.7 345.1,78.4 345.3,80.3 345.3,78.5 345.4,78.7 345.4,82.3 345.5,81.6 345.5,80.8 345.6,80.4 345.7,81.2 345.8,80.1 345.8,81.5 345.8,81.6 345.9,79.6 346.0,81.4 346.0,79.8 346.1,80.9 346.2,79.8 346.2,80.9 346.3,80.0 346.3,80.0 346.3,80.8 346.4,81.4 346.5,79.9 346.6,80.7 346.7,79.6 346.8,81.0 346.8,79.2 346.8,79.5 346.9,81.0 347.0,81.5 347.0,79.0 347.1,79.1 347.2,79.8 347.3,80.5 347.3,78.6 347.3,81.2 347.4,78.4 347.4,77.4 347.5,79.1 347.6,79.1 347.7,78.2 347.7,81.2 347.8,76.8 347.9,77.9 347.9,79.3 348.0,78.0 348.1,79.6 348.1,78.0 348.2,79.8 348.2,81.2 348.3,77.2 348.3,77.7 348.4,78.8 348.5,79.0 348.6,77.6 348.6,78.1 348.7,79.2 348.8,79.6 348.8,77.3 348.9,78.4 348.9,79.3 349.0,79.3 349.0,78.3 349.1,78.3 349.2,79.8 349.2,79.7 349.3,78.2 349.4,79.7 349.4,77.8 349.5,78.0 349.5,79.3 349.6,77.9 349.6,79.5 349.7,79.3 349.8,77.9 349.9,78.3 349.9,79.5 350.0,79.4 350.0,78.5 350.1,78.6 350.1,79.2 350.2,79.8 350.3,77.6 350.4,78.5 350.4,79.9 350.5,79.2 350.5,80.3 350.6,78.0 350.7,79.8 350.7,78.4 350.8,80.3 350.9,81.9 350.9,77.8 351.0,77.4 351.0,78.1 351.1,77.4 351.2,78.7 351.2,77.3 351.3,78.8 351.4,79.8 351.4,78.0 351.5,77.9 351.5,79.8 351.6,77.2 351.6,78.9 351.7,77.7 351.8,79.2 351.9,79.6 351.9,78.3 352.0,78.6 352.0,77.6 352.1,79.9 352.2,78.1 352.2,78.5 352.3,79.5 352.3,78.6 352.4,79.9 352.4,79.0 352.6,80.0 352.6,78.1 352.7,79.7 352.7,79.9 352.8,78.6 352.8,78.4 352.9,82.0 353.0,78.9 353.0,77.7 353.1,77.1 353.1,78.7 353.2,78.5 353.3,77.6 353.3,77.7 353.4,79.9 353.5,79.5 353.5,77.8 353.6,78.1 353.7,79.3 353.7,78.1 353.8,79.3 353.8,79.3 353.9,78.5 354.0,78.6 354.0,88.8 354.1,79.0 354.2,77.9 354.3,78.4 354.3,79.6 354.3,78.4 354.4,79.3 354.5,78.1 354.5,80.0 354.6,79.5 354.7,78.3 354.7,80.2 354.8,78.8 354.8,78.3 354.9,79.5 355.0,79.4 355.0,77.8 355.1,78.0 355.2,79.0 355.2,77.9 355.3,80.4 355.3,78.4 355.4,79.4 355.5,81.3 355.6,77.9 355.6,78.1 355.6,78.9 355.7,78.7 355.7,77.5 355.9,78.0 355.9,78.7 355.9,77.9 356.0,80.0 356.1,77.8 356.2,79.0 356.2,78.8 356.2,79.7 356.4,78.6 356.4,79.0 356.5,79.6 356.5,77.3 356.6,77.3 356.6,79.6 356.8,79.9 356.8,77.8 356.8,80.5 356.8,78.3 357.0,78.3 357.0,79.0 357.1,78.9 357.1,79.5 357.2,79.5 357.3,77.7 357.3,78.5 357.4,80.0 357.5,74.8 357.5,91.3 357.6,80.2 357.6,78.5 357.7,81.4 357.8,77.7 357.9,78.8 357.9,78.1 358.0,79.3 358.0,77.4 358.1,78.0 358.1,78.8 358.3,81.8 358.3,77.7 358.3,77.0 358.4,79.0 358.5,78.5 358.5,78.2 358.6,78.4 358.7,80.0 358.7,78.1 358.8,79.7 358.9,78.1 358.9,79.1 359.0,78.4 359.0,79.7 359.1,78.2 359.2,79.0 359.2,79.3 359.3,78.0 359.4,78.3 359.4,79.5 359.4,79.9 359.5,78.3 359.6,78.1 359.7,80.8 359.7,78.5 359.8,76.9 359.8,77.5 359.9,79.1 360.0,79.4 360.0,77.5 360.1,78.6 360.2,79.4 360.2,78.1 360.3,79.1 360.4,78.1 360.4,79.2 360.5,79.4 360.5,74.3 360.6,76.2 360.6,86.6 360.7,78.9 360.8,80.0 360.8,80.2 360.9,79.4 361.0,79.6 361.0,78.8 361.1,78.5 361.1,80.2 361.2,79.9 361.2,77.9 361.4,80.2 361.4,78.3 361.4,78.0 361.5,80.5 361.6,79.9 361.7,78.1 361.7,78.3 361.8,80.2 361.8,79.8 361.9,78.6 362.0,81.6 362.0,77.4 362.1,77.3 362.2,78.9 362.2,78.2 362.3,80.1 362.4,78.4 362.4,79.6 362.4,79.2 362.5,77.4 362.6,79.5 362.7,77.3 362.8,79.3 362.8,78.2 362.9,81.1 362.9,77.5 362.9,77.9 363.1,79.4 363.1,79.0 363.2,77.4 363.3,79.3 363.3,78.1 363.3,79.4 363.4,78.6 363.5,79.8 363.5,77.7 363.6,81.7 363.6,78.0 363.7,77.5 363.8,78.8 363.8,77.9 363.9,79.9 364.0,79.5 364.0,78.1 364.1,78.9 364.2,79.6 364.2,78.9 364.3,79.9 364.3,80.0 364.4,77.7 364.5,79.2 364.5,78.2 364.6,77.7 364.7,79.7 364.7,80.9 364.8,78.0 364.8,79.8 364.9,75.4 365.0,85.4 365.0,78.3 365.1,79.3 365.2,78.5 365.2,80.1 365.3,78.3 365.4,79.9 365.4,78.4 365.5,78.2 365.5,80.0 365.7,78.7 365.7,79.9 365.7,80.1 365.7,79.2 365.9,80.3 365.9,78.5 366.0,78.8 366.1,80.4 366.1,80.3 366.2,78.9 366.2,79.5 366.2,78.4 366.4,78.3 366.4,79.9 366.5,80.1 366.5,78.3 366.6,78.3 366.7,80.6 366.7,79.3 366.7,79.8 366.9,79.9 366.9,78.6 367.0,79.8 367.1,78.9 367.1,78.4 367.1,79.9 367.2,78.6 367.3,80.3 367.4,81.9 367.4,80.7 367.5,82.1 367.6,81.0 367.6,87.9 367.6,80.6 367.7,79.9 367.8,81.6 367.9,79.5 367.9,81.2 368.0,79.6 368.1,80.8 368.1,80.6 368.2,79.6 368.2,79.7 368.2,81.4 368.3,81.6 368.4,79.9 368.5,79.9 368.5,80.7 368.6,80.0 368.7,80.7 368.7,79.1 368.8,81.7 368.8,79.8 368.9,80.9 369.0,79.2 369.0,80.3 369.1,80.9 369.2,79.3 369.2,78.8 369.3,81.0 369.4,78.8 369.4,80.4 369.5,80.7 369.5,79.3 369.6,80.5 369.7,79.3 369.7,80.8 369.8,79.5 369.8,78.6 369.9,80.7 370.0,80.7 370.0,78.9 370.1,79.6 370.2,81.2 370.2,81.2 370.3,79.2 370.3,79.4 370.4,81.4 370.5,79.3 370.5,80.3 370.6,80.3 370.6,79.9 370.7,79.0 370.8,80.2 370.8,80.4 370.8,79.4 371.0,79.1 371.0,80.9 371.1,84.3 371.1,79.6 371.3,81.1 371.3,79.0 371.3,79.2 371.4,80.6 371.5,80.8 371.5,79.5 371.7,79.3 371.7,80.9 371.7,79.3 371.7,80.7 371.8,79.2 371.9,80.3 372.0,81.5 372.0,79.5 372.1,80.4 372.1,79.5 372.3,80.6 372.3,76.7 372.3,79.0 372.4,77.0 372.5,78.6 372.5,77.9 372.6,78.7 372.6,77.2 372.7,78.2 372.8,78.9 372.8,79.2 372.9,78.5 373.0,81.3 373.0,77.5 373.1,78.4 373.1,76.7 373.3,79.1 373.3,76.6 373.4,77.0 373.4,79.9 373.5,76.9 373.5,79.6 373.6,79.0 373.6,78.0 373.7,78.2 373.8,79.0 373.8,76.9 373.9,79.0 373.9,79.5 374.0,78.3 374.1,79.0 374.2,77.6 374.3,77.4 374.3,80.0 374.4,79.4 374.4,78.4 374.5,78.5 374.5,79.1 374.6,79.4 374.7,77.4 374.7,78.1 374.8,79.6 374.8,78.4 374.9,79.3 375.0,80.1 375.1,78.5 375.1,78.6 375.2,79.6 375.2,78.8 375.2,80.4 375.3,78.1 375.4,78.6 375.5,81.5 375.5,77.8 375.6,78.9 375.6,77.1 375.7,78.9 375.7,77.1 375.9,77.3 375.9,78.8 376.0,77.9 376.0,78.8 376.1,77.9 376.1,79.2 376.3,82.0 376.3,77.1 376.4,77.8 376.4,77.4 376.5,78.3 376.5,76.6 376.6,78.0 376.6,78.8 376.8,77.4 376.8,81.3 376.8,78.4 376.9,77.5 376.9,76.4 377.0,78.8 377.1,79.0 377.2,77.2 377.2,78.0 377.3,78.7 377.4,78.8 377.4,77.5 377.4,78.6 377.6,77.9 377.6,80.4 377.6,77.0 377.8,79.3 377.8,77.1 377.9,78.5 377.9,76.9 378.0,81.9 378.1,77.3 378.1,77.2 378.2,78.8 378.2,76.9 378.3,78.4 378.4,77.9 378.4,79.2 378.5,77.5 378.5,79.2 378.6,79.2 378.7,77.4 378.7,79.5 378.7,77.7 378.8,78.1 378.9,80.5 379.0,76.5 379.0,78.7 379.1,77.3 379.2,78.5 379.3,78.6 379.3,77.1 379.3,77.6 379.4,81.8 379.5,77.9 379.5,76.8 379.6,77.8 379.7,77.0 379.7,77.4 379.8,79.0 379.9,81.6 379.9,76.8 380.0,78.6 380.0,76.5 380.1,77.6 380.2,78.6 380.2,77.4 380.3,79.1 380.3,77.9 380.4,78.8 380.5,77.0 380.5,78.8 380.6,78.4 380.6,79.7 380.7,78.0 380.8,79.2 380.9,79.4 380.9,78.8 380.9,78.6 381.1,80.1 381.1,78.0 381.1,80.8 381.2,79.4 381.3,78.5 381.3,78.1 381.4,79.8 381.4,79.2 381.5,78.2 381.6,79.6 381.7,78.6 381.7,77.8 381.7,79.7 381.9,79.9 381.9,78.4 382.0,79.7 382.0,78.6 382.1,78.7 382.2,80.0 382.2,79.5 382.3,79.0 382.3,81.5 382.4,77.8 382.5,78.8 382.5,77.5 382.6,78.1 382.7,79.3 382.7,78.1 382.8,79.1 382.9,82.2 382.9,77.6 383.0,79.4 383.1,76.6 383.1,77.9 383.2,78.4 383.3,78.1 383.3,79.6 383.4,77.5 383.4,79.2 383.5,77.7 383.5,79.0 383.7,81.1 383.7,77.1 383.7,77.6 383.8,78.4 383.9,77.9 383.9,78.7 384.0,78.9 384.1,77.9 384.1,79.5 384.2,77.8 384.2,77.9 384.3,79.4 384.3,79.3 384.4,78.0 384.5,78.4 384.6,79.3 384.6,79.5 384.7,78.1 384.8,78.1 384.8,79.3 384.9,79.6 384.9,79.0 384.9,79.2 385.0,78.5 385.1,78.8 385.2,79.7 385.3,81.8 385.3,77.5 385.3,78.5 385.4,76.8 385.5,77.1 385.5,78.7 385.6,76.9 385.6,78.6 385.7,80.3 385.8,78.3 385.8,78.2 385.9,78.8 386.0,79.4 386.1,78.3 386.1,78.8 386.2,79.8 386.2,78.0 386.3,79.6 386.4,80.0 386.4,78.4 386.5,78.5 386.5,80.2 386.7,80.0 386.7,78.8 386.7,80.4 386.8,78.7 386.9,78.7 386.9,79.6 387.0,80.3 387.1,79.0 387.1,78.1 387.1,79.6 387.2,79.7 387.2,78.5 387.4,79.4 387.4,78.9 387.5,80.6 387.5,78.8 387.6,79.6 387.6,78.4 387.7,80.4 387.7,78.0 387.9,80.0 387.9,78.9 388.0,79.1 388.0,79.5 388.1,78.7 388.2,80.0 388.2,81.1 388.3,78.7 388.4,80.2 388.4,78.8 388.5,81.1 388.6,78.8 388.6,79.8 388.7,79.0 388.7,80.0 388.8,79.2 388.8,78.9 388.9,79.3 389.0,79.7 389.0,78.4 389.1,80.2 389.2,78.6 389.2,78.4 389.3,79.4 389.3,78.8 389.3,80.4 389.5,78.3 389.5,79.7 389.6,79.3 389.7,82.3 389.7,81.8 389.8,82.6 389.9,81.7 389.9,80.9 390.0,80.4 390.0,82.4 390.1,79.7 390.1,81.6 390.2,81.6 390.3,80.2 390.4,81.1 390.4,79.8 390.5,80.9 390.5,79.4 390.6,79.8 390.7,81.9 390.7,80.2 390.7,81.6 390.8,81.2 390.9,79.1 391.0,81.0 391.1,79.0 391.1,80.6 391.2,79.3 391.2,78.5 391.3,80.5 391.4,79.2 391.4,80.9 391.5,78.7 391.5,80.6 391.7,78.5 391.7,77.1 391.8,77.2 391.8,79.2 391.9,78.6 391.9,77.3 392.0,78.9 392.0,77.7 392.1,77.8 392.2,79.2 392.2,79.1 392.3,77.8 392.4,78.0 392.4,81.3 392.5,78.8 392.5,77.3 392.6,78.8 392.6,77.4 392.7,78.1 392.8,79.1 392.9,79.1 392.9,77.7 393.0,77.9 393.0,80.1 393.1,77.2 393.2,78.0 393.3,77.3 393.3,78.7 393.4,77.2 393.4,78.6 393.5,78.9 393.5,77.0 393.6,79.6 393.7,77.6 393.7,78.1 393.8,78.8 393.9,79.2 393.9,77.2 394.0,79.3 394.0,78.2 394.1,80.0 394.1,78.2 394.3,78.0 394.3,79.6 394.4,77.6 394.4,79.8 394.5,78.9 394.5,78.0 394.6,79.9 394.6,77.9 394.7,79.6 394.8,78.1 394.9,78.2 394.9,79.0 395.0,80.0 395.1,77.8 395.1,78.0 395.1,79.5 395.2,79.5 395.3,77.6 395.3,78.6 395.4,80.2 395.5,80.0 395.5,78.0 395.6,77.7 395.6,80.7 395.7,78.7 395.8,76.9 395.9,76.8 395.9,79.2 396.0,79.3 396.0,78.4 396.1,79.6 396.2,77.3 396.2,78.0 396.2,79.5 396.4,79.1 396.4,78.1 396.5,79.1 396.6,78.3 396.6,80.9 396.6,77.5 396.8,78.9 396.8,77.0 396.9,79.1 396.9,77.8 397.0,78.4 397.0,79.2 397.2,77.9 397.2,78.7 397.3,81.0 397.3,78.0 397.4,77.1 397.4,79.0 397.5,77.8 397.6,78.9 397.7,79.2 397.7,77.8 397.7,79.4 397.8,77.4 397.8,78.0 397.9,79.1 398.0,77.1 398.0,78.8 398.2,82.0 398.2,77.9 398.2,77.4 398.3,78.8 398.4,78.3 398.4,77.5 398.5,78.9 398.5,77.8 398.6,79.1 398.6,78.3 398.7,81.3 398.8,77.1 398.9,76.8 398.9,78.6 399.0,77.9 399.1,79.2 399.1,77.9 399.1,79.6 399.2,78.1 399.2,79.3 399.4,79.0 399.4,77.3 399.5,78.0 399.6,79.0 399.6,77.8 399.7,81.3 399.8,78.7 399.8,77.6 399.9,79.1 399.9,77.7 400.0,79.0 400.1,77.8 400.1,79.2 400.1,78.3 400.2,80.1 400.3,78.2 400.4,77.9 400.4,79.6 400.5,80.4 400.6,77.2 400.6,77.5 400.7,78.4 400.8,78.6 400.8,77.0 400.9,79.0 400.9,77.4 401.0,77.9 401.1,78.6 401.2,77.9 401.2,79.0 401.2,78.9 401.3,78.5 401.4,82.3 401.4,78.0 401.5,79.1 401.5,77.7 401.6,77.8 401.7,79.1 401.7,77.7 401.8,79.8 401.9,79.4 401.9,78.2 402.0,79.2 402.0,78.2 402.1,78.6 402.2,79.8 402.3,78.3 402.3,79.8 402.4,79.9 402.4,78.2 402.5,77.9 402.6,79.4 402.6,79.3 402.7,77.9 402.7,81.5 402.8,78.0 402.9,79.4 402.9,78.3 403.0,79.5 403.1,77.7 403.2,79.3 403.2,78.6 403.2,79.1 403.3,78.2 403.3,78.4 403.5,80.6 403.5,78.4 403.5,79.9 403.6,77.5 403.6,79.7 403.8,79.9 403.8,78.2 403.8,79.1 403.9,77.9 404.0,80.0 404.0,78.1 404.1,79.9 404.1,78.6 404.3,79.9 404.3,78.6 404.4,79.9 404.4,78.0 404.5,80.4 404.5,77.6 404.6,80.1 404.6,76.8 404.8,77.9 404.8,78.9 404.9,79.9 404.9,78.7 405.0,79.1 405.1,78.3 405.1,78.6 405.1,79.7 405.2,79.4 405.3,78.5 405.4,78.2 405.4,79.6 405.6,78.4 405.6,79.4 405.6,80.4 405.7,78.3 405.7,79.5 405.8,78.1 405.9,79.0 405.9,77.4 406.0,80.0 406.1,77.8 406.1,80.0 406.2,79.2 406.3,79.8 406.3,78.9 406.4,79.5 406.4,78.1 406.5,79.8 406.5,78.0 406.6,78.4 406.7,79.1 406.8,78.7 406.8,79.8 406.9,78.5 406.9,80.5 407.0,79.4 407.1,78.7 407.1,80.1 407.2,77.9 407.3,78.1 407.3,78.4 407.4,78.7 407.4,76.7 407.5,79.2 407.6,78.4 407.6,78.2 407.6,82.1 407.8,79.1 407.8,77.4 407.9,79.1 407.9,77.9 408.0,79.2 408.1,78.4 408.1,79.6 408.2,78.5 408.2,78.7 408.2,79.6 408.4,79.4 408.4,78.8 408.5,79.9 408.5,78.3 408.7,79.4 408.7,78.4 408.8,80.2 408.8,78.3 408.8,78.0 408.9,80.3 409.0,80.3 409.0,78.6 409.1,78.0 409.2,79.7 409.3,78.0 409.3,80.5 409.4,78.3 409.4,80.4 409.5,79.6 409.6,78.7 409.6,79.0 409.7,79.6 409.7,80.7 409.8,78.5 409.8,80.1 409.9,78.6 410.1,78.0 410.1,80.0 410.1,78.0 410.1,79.7 410.3,79.6 410.3,79.0 410.4,80.4 410.4,78.6 410.5,79.7 410.5,79.1 410.6,79.1 410.7,80.0 410.7,79.6 410.8,78.3 410.9,79.1 410.9,80.5 411.0,79.0 411.1,80.1 411.1,78.5 411.2,79.9 411.2,80.5 411.3,78.8 411.4,78.4 411.5,82.1 411.5,80.5 411.6,83.3 411.6,80.8 411.7,81.5 411.7,81.6 411.8,80.3 411.9,81.5 411.9,80.5 412.0,80.2 412.0,81.2 412.1,79.4 412.1,81.6 412.2,79.9 412.3,81.6 412.4,81.2 412.4,79.4 412.5,79.5 412.5,81.3 412.6,29.1 412.7,81.0 412.7,81.0 412.7,80.2 412.9,81.4 412.9,79.5 413.0,80.1 413.1,79.2 413.1,81.2 413.1,79.7 413.2,80.6 413.3,79.4 413.3,81.1 413.4,79.1 413.5,80.6 413.5,78.2 413.6,79.2 413.7,80.3 413.8,81.5 413.8,79.6 413.8,79.3 413.9,80.4 414.1,80.6 414.1,79.7 414.1,78.9 414.1,80.4 414.3,80.4 414.3,79.5 414.4,80.4 414.5,78.8 414.5,79.5 414.6,80.4 414.6,79.2 414.7,81.0 414.8,80.5 414.8,79.3 414.9,80.3 414.9,79.3 415.0,80.6 415.0,78.5 415.1,81.1 415.2,79.4 415.2,79.2 415.3,80.5 415.3,80.9 415.4,79.7 415.5,79.7 415.5,80.7 415.7,80.0 415.7,79.0 415.7,80.8 415.8,79.2 415.9,80.8 415.9,79.8 416.0,78.9 416.0,80.8 416.1,79.3 416.1,80.4 416.3,80.0 416.3,78.7 416.4,80.9 416.4,77.1 416.6,78.9 416.6,77.0 416.6,77.2 416.7,78.3 416.7,77.5 416.8,79.4 416.9,78.0 416.9,79.4 417.0,78.0 417.1,79.3 417.1,79.1 417.1,77.6 417.3,77.8 417.3,78.5 417.4,77.6 417.4,79.2 417.5,77.9 417.6,79.1 417.6,79.4 417.6,78.2 417.7,79.5 417.7,78.2 417.9,78.0 418.0,79.1 418.0,79.4 418.1,78.2 418.1,77.8 418.2,79.5 418.2,78.2 418.3,79.0 418.4,82.2 418.4,76.4 418.5,78.0 418.5,77.2 418.6,78.4 418.6,77.6 418.7,77.4 418.8,79.0 418.9,81.0 419.0,76.9 419.0,76.9 419.0,78.3 419.2,77.4 419.2,78.7 419.3,78.6 419.3,77.7 419.4,77.4 419.4,79.0 419.5,78.9 419.5,77.3 419.6,77.5 419.7,79.0 419.8,79.5 419.8,77.9 419.9,78.2 419.9,78.9 420.0,77.5 420.0,79.7 420.1,78.3 420.2,80.0 420.2,78.3 420.3,80.0 420.4,81.5 420.4,77.1 420.5,77.1 420.6,78.5 420.6,76.8 420.7,78.8 420.7,77.9 420.8,79.6 420.8,81.0 420.9,76.6 421.0,76.8 421.0,78.3 421.1,78.6 421.2,77.8 421.3,79.2 421.3,77.2 421.4,77.8 421.4,79.1 421.5,78.8 421.5,77.6 421.6,78.2 421.7,80.2 421.8,76.8 421.8,78.6 421.9,77.7 422.0,78.6 422.0,77.2 422.0,79.3 422.1,77.2 422.2,79.0 422.3,79.0 422.3,78.0 422.4,77.9 422.5,79.2 422.5,82.1 422.5,77.2 422.6,77.2 422.7,78.8 422.8,79.3 422.8,78.0 422.9,77.2 422.9,79.9 423.0,78.9 423.0,77.9 423.1,79.6 423.2,77.5 423.2,79.1 423.3,78.2 423.4,79.8 423.4,78.2 423.5,79.8 423.5,78.3 423.7,78.1 423.7,79.1 423.7,78.3 423.8,80.1 423.9,78.0 423.9,80.1 424.0,78.7 424.1,79.4 424.1,78.4 424.2,80.1 424.2,79.4 424.3,78.7 424.4,81.1 424.4,76.7 424.5,77.0 424.6,78.3 424.6,78.4 424.7,77.9 424.7,77.8 424.8,78.5 424.8,79.2 424.9,78.0 425.0,77.7 425.0,79.4 425.1,78.2 425.1,79.1 425.2,78.3 425.2,79.4 425.3,78.0 425.4,79.1 425.5,78.4 425.6,79.6 425.6,78.6 425.6,79.5 425.7,78.7 425.8,80.2 425.8,79.6 425.9,78.6 426.0,79.4 426.1,78.5 426.1,79.4 426.2,78.7 426.3,78.5 426.3,80.5 426.3,81.2 426.4,76.9 426.5,77.7 426.5,78.7 426.6,79.4 426.7,78.1 426.7,79.3 426.8,77.9 426.9,79.3 426.9,78.3 427.0,79.4 427.1,78.3 427.2,78.5 427.2,80.0 427.2,78.6 427.3,79.4 427.4,79.9 427.4,78.0 427.5,78.4 427.5,79.7 427.6,79.7 427.7,78.5 427.7,78.2 427.8,82.0 427.9,76.7 427.9,78.2 428.0,76.7 428.1,78.8 428.1,77.2 428.2,79.5 428.3,78.0 428.3,79.2 428.3,78.1 428.4,79.3 428.5,79.8 428.5,77.3 428.6,78.2 428.7,79.5 428.7,81.9 428.8,77.2 428.9,79.4 428.9,77.2 429.0,77.9 429.1,79.6 429.1,77.5 429.1,78.8 429.3,79.5 429.3,77.9 429.3,79.8 429.4,77.8 429.5,79.6 429.6,78.2 429.6,78.4 429.7,79.9 429.8,78.0 429.8,79.7 429.9,78.3 430.0,79.6 430.0,79.2 430.1,78.3 430.1,79.7 430.2,78.4 430.3,78.3 430.3,79.7 430.4,80.0 430.4,79.1 430.5,80.1 430.5,78.1 430.6,80.3 430.7,78.5 430.7,78.5 430.8,79.7 430.9,80.5 430.9,78.5 431.0,79.2 431.1,79.8 431.1,80.0 431.2,78.9 431.2,80.0 431.2,79.1 431.4,80.4 431.4,79.0 431.5,78.3 431.5,80.0 431.7,78.3 431.7,80.7 431.7,78.4 431.8,80.5 431.8,79.9 431.9,79.2 432.0,77.9 432.1,79.8 432.2,80.0 432.2,78.9 432.3,80.9 432.3,79.1 432.3,80.2 432.5,78.6 432.5,80.5 432.6,78.5 432.6,80.1 432.6,78.3 432.7,78.6 432.8,80.2 432.8,80.1 432.9,78.6 433.0,78.6 433.1,79.5 433.1,78.2 433.2,81.5 433.3,82.5 433.3,80.4 433.4,81.3 433.5,80.4 433.5,82.4 433.6,80.2 433.6,82.3 433.7,80.2 433.7,80.2 433.8,81.6 433.9,80.0 433.9,81.2 434.0,80.0 434.0,80.7 434.1,80.9 434.2,80.1 434.3,81.6 434.3,79.8 434.4,79.7 434.4,81.8 434.5,80.9 434.6,79.8 434.7,80.5 434.7,79.2 434.7,78.6 434.7,81.2 434.9,80.2 434.9,79.3 435.1,82.1 435.1,77.0 435.1,77.8 435.2,78.9 435.3,79.7 435.3,77.4 435.4,77.7 435.4,79.1 435.5,80.9 435.6,77.6 435.6,79.2 435.7,77.7 435.8,78.1 435.8,79.1 435.9,79.1 435.9,77.5 436.0,79.1 436.1,77.8 436.1,78.0 436.2,79.6 436.3,81.4 436.3,76.9 436.3,77.5 436.5,78.4 436.5,78.9 436.5,77.5 436.6,77.3 436.6,78.6 436.7,77.4 436.8,78.7 436.9,78.6 437.0,79.2 437.0,79.1 437.1,77.5 437.2,77.9 437.2,79.6 437.2,77.7 437.3,79.1 437.4,79.3 437.5,77.3 437.5,78.1 437.6,79.0 437.6,79.8 437.7,78.2 437.7,77.6 437.8,79.3 437.9,77.9 437.9,79.5 438.0,79.0 438.1,79.7 438.1,79.6 438.2,78.0 438.2,78.1 438.3,79.3 438.4,80.2 438.4,78.0 438.5,81.2 438.5,76.8 438.6,77.1 438.7,78.4 438.8,79.1 438.8,77.3 438.9,79.0 438.9,77.1 439.0,79.4 439.1,78.0 439.1,79.4 439.2,77.8 439.3,79.1 439.3,77.7 439.4,78.3 439.4,79.5 439.5,78.2 439.6,79.1 439.6,78.4 439.7,79.2 439.7,78.5 439.8,79.4 439.8,78.3 439.9,79.3 440.0,79.2 440.0,77.6 440.2,79.9 440.2,78.1 440.3,77.7 440.3,79.1 440.3,77.9 440.4,79.5 440.5,81.1 440.5,77.4 440.7,77.2 440.7,78.2 440.7,79.1 440.8,77.5 440.8,79.5 440.9,78.2 441.0,77.9 441.0,81.1 441.1,77.8 441.2,79.2 441.3,77.5 441.3,78.6 441.4,78.9 441.5,77.8 441.5,77.6 441.6,79.0 441.6,77.8 441.6,79.6 441.8,79.0 441.8,78.1 441.9,81.7 441.9,77.5 442.0,79.4 442.0,77.6 442.1,77.9 442.2,79.2 442.3,77.3 442.3,79.7 442.4,78.0 442.4,79.0 442.5,77.1 442.5,79.9 442.6,78.4 442.7,79.1 442.8,81.1 442.8,77.9 442.9,78.8 442.9,78.1 443.0,78.9 443.1,77.6 443.1,79.3 443.2,77.7 443.2,79.3 443.3,78.0 443.3,79.5 443.5,77.7 443.6,77.9 443.6,79.9 443.6,81.5 443.6,77.6 443.8,77.5 443.8,78.6 443.9,77.3 443.9,78.4 444.0,78.8 444.0,77.9 444.1,79.0 444.2,78.4 444.2,79.4 444.3,78.1 444.4,79.5 444.4,77.9 444.5,77.8 444.5,79.5 444.6,79.4 444.7,78.6 444.8,78.5 444.8,79.9 444.9,80.2 445.0,78.3 445.0,78.5 445.0,79.6 445.1,78.8 445.2,79.6 445.2,79.6 445.2,77.8 445.4,78.7 445.4,80.0 445.5,80.1 445.5,78.5 445.7,80.0 445.7,78.4 445.7,79.6 445.8,78.1 445.9,79.9 445.9,78.9 446.0,77.7 446.0,79.5 446.1,78.5 446.2,79.8 446.2,81.4 446.3,77.3 446.4,79.1 446.4,78.0 446.5,78.3 446.5,79.2 446.6,79.6 446.7,78.2 446.7,78.7 446.8,79.6 446.9,79.4 446.9,78.4 447.1,79.3 447.1,78.2 447.1,78.5 447.2,80.4 447.3,79.4 447.3,78.3 447.4,78.0 447.5,80.3 447.5,78.4 447.5,79.2 447.6,78.5 447.7,79.5 447.8,79.8 447.8,78.4 447.8,78.6 448.0,80.0 448.0,79.7 448.1,78.5 448.1,77.8 448.1,80.2 448.2,80.1 448.3,77.6 448.4,79.8 448.5,78.7 448.5,78.8 448.5,80.0 448.6,78.6 448.7,79.7 448.7,81.6 448.8,76.6 448.9,78.3 448.9,80.1 449.0,77.8 449.0,79.0 449.1,78.1 449.2,79.2 449.3,77.8 449.3,82.0 449.4,78.2 449.5,77.6 449.5,79.4 449.6,77.8 449.6,79.1 449.7,78.1 449.7,79.3 449.8,77.9 449.9,79.7 449.9,77.6 450.0,78.3 450.1,79.4 450.1,77.9 450.2,79.7 450.3,82.1 450.3,77.8 450.4,80.0 450.4,77.9 450.5,78.3 450.6,78.9 450.6,79.8 450.7,78.2 450.7,77.7 450.8,79.6 450.9,77.5 450.9,80.2 451.0,80.3 451.1,78.0 451.1,78.1 451.1,79.8 451.3,78.7 451.3,80.0 451.4,80.3 451.4,78.5 451.5,80.1 451.5,78.2 451.6,79.8 451.6,78.3 451.7,80.0 451.8,77.9 451.8,79.7 452.0,78.8 452.0,78.6 452.0,80.7 452.1,78.3 452.2,79.9 452.2,80.1 452.3,79.1 452.4,79.7 452.5,79.3 452.5,79.5 452.5,78.4 452.7,80.1 452.7,78.2 452.8,79.7 452.8,78.8 452.9,78.9 452.9,79.9 453.0,79.9 453.0,78.9 453.2,78.5 453.2,80.2 453.2,79.7 453.3,78.7 453.4,78.5 453.4,79.3 453.5,78.4 453.5,79.6 453.6,80.0 453.7,79.0 453.8,78.6 453.8,79.2 453.9,78.5 453.9,79.8 454.0,78.8 454.1,80.0 454.1,80.4 454.2,78.1 454.3,80.6 454.3,78.6 454.4,79.2 454.4,80.5 454.5,80.6 454.6,78.8 454.6,79.9 454.7,79.0 454.7,78.5 454.8,79.3 454.9,78.9 454.9,80.3 455.0,79.3 455.0,80.2 455.2,79.0 455.2,82.7 455.3,82.7 455.3,81.1 455.4,82.5 455.4,81.0 455.5,80.9 455.5,81.9 455.6,81.6 455.7,80.5 455.8,81.9 455.8,80.9 455.9,80.3 455.9,81.6 456.0,80.5 456.1,82.0 456.1,79.2 456.2,81.8 456.3,81.4 456.3,79.6 456.4,81.6 456.4,80.4 456.5,79.8 456.5,81.3 456.6,80.8 456.7,80.2 456.7,79.7 456.8,81.6 456.9,79.2 457.0,80.7 457.0,81.0 457.0,79.4 457.1,79.8 457.1,81.3 457.3,80.6 457.3,79.3 457.4,79.4 457.4,81.4 457.5,80.3 457.5,79.3 457.6,80.6 457.6,78.7 457.8,79.9 457.8,80.8 457.9,80.2 458.0,79.8 458.0,79.4 458.1,81.0 458.1,80.9 458.2,79.7 458.2,79.5 458.3,81.2 458.4,79.6 458.4,80.6 458.5,80.5 458.6,79.3 458.6,79.2 458.7,80.7 458.7,80.6 458.8,79.2 458.8,79.6 458.9,80.8 459.0,79.0 459.1,80.4 459.2,79.1 459.2,81.0 459.3,79.3 459.3,81.7 459.4,80.9 459.4,78.5 459.5,81.5 459.5,79.5 459.6,79.0 459.7,80.7 459.7,79.1 459.8,81.5 459.9,79.2 459.9,80.2 460.1,79.9 460.1,81.3 460.1,80.7 460.2,76.9 460.3,77.2 460.3,79.5 460.4,78.7 460.4,77.9 460.5,77.7 460.6,78.8 460.7,78.9 460.7,78.3 460.7,78.0 460.8,79.5 460.9,81.8 461.0,78.0 461.1,77.3 461.1,78.0 461.2,76.8 461.2,78.5 461.2,79.0 461.3,77.4 461.4,78.7 461.5,77.6 461.5,79.0 461.6,77.1 461.7,79.6 461.7,77.7 461.8,77.5 461.8,81.6 461.9,76.6 461.9,78.4 462.0,78.7 462.1,77.4 462.1,77.5 462.2,78.5 462.3,77.9 462.3,79.2 462.4,78.7 462.4,77.6 462.5,79.1 462.5,78.3 462.6,77.5 462.7,79.8 462.7,81.4 462.8,77.6 462.9,77.5 463.0,79.0 463.1,76.9 463.1,78.8 463.2,77.3 463.2,78.8 463.3,77.3 463.3,79.4 463.4,77.5 463.4,79.5 463.5,81.4 463.5,76.8 463.6,78.1 463.7,76.9 463.8,77.3 463.8,78.4 463.9,78.0 464.0,79.8 464.0,78.8 464.1,77.9 464.2,78.0 464.2,79.1 464.2,79.5 464.3,77.7 464.4,77.8 464.4,79.4 464.5,79.1 464.6,78.4 464.6,79.6 464.7,77.2 464.8,79.5 464.8,77.7 464.9,79.6 464.9,78.0 465.0,79.8 465.1,78.2 465.1,79.9 465.1,78.0 465.3,78.0 465.3,79.4 465.4,78.2 465.4,79.2 465.5,80.6 465.5,76.7 465.7,77.6 465.7,79.5 465.8,78.8 465.8,77.5 465.9,77.8 466.0,79.8 466.0,78.9 466.0,78.0 466.1,77.8 466.2,79.4 466.2,78.0 466.3,79.2 466.4,78.4 466.5,79.7 466.5,78.7 466.6,79.7 466.7,79.8 466.7,78.6 466.8,79.8 466.8,78.0 466.9,80.0 466.9,78.6 467.0,79.0 467.1,79.4 467.2,79.8 467.2,78.7 467.2,80.1 467.3,77.7 467.4,80.3 467.4,78.2 467.5,80.0 467.6,78.5 467.6,78.3 467.7,79.6 467.7,81.6 467.8,76.1 467.9,76.7 467.9,78.4 468.0,79.2 468.0,77.1 468.1,78.8 468.2,77.5 468.3,78.8 468.3,78.0 468.4,78.2 468.4,79.3 468.5,79.5 468.5,77.6 468.6,82.0 468.7,76.8 468.8,77.2 468.8,78.6 468.9,76.7 468.9,78.5 469.1,78.9 469.1,77.6 469.1,78.2 469.2,79.3 469.2,77.6 469.3,79.5 469.4,78.0 469.5,79.1 469.5,79.7 469.6,78.1 469.6,80.2 469.6,78.2 469.7,78.7 469.8,79.9 469.9,80.3 469.9,78.4 470.0,79.1 470.1,81.1 470.1,76.8 470.2,77.5 470.3,78.9 470.3,77.3 470.4,78.8 470.4,77.7 470.5,79.0 470.5,77.7 470.6,79.4 470.7,77.8 470.8,79.4 470.8,78.1 470.9,81.0 470.9,77.0 471.0,78.9 471.1,76.8 471.1,78.8 471.2,77.8 471.2,77.6 471.3,79.6 471.4,78.5 471.4,79.2 471.5,78.4 471.6,79.3 471.6,79.7 471.6,78.1 471.8,79.6 471.8,78.2 471.9,79.5 471.9,78.7 472.0,78.2 472.1,79.7 472.1,78.5 472.2,79.6 472.3,81.2 472.3,77.0 472.4,77.1 472.5,78.9 472.5,78.7 472.6,77.3 472.6,79.5 472.6,77.0 472.8,78.0 472.8,79.4 472.9,77.0 472.9,79.2 473.0,79.0 473.0,78.2 473.1,78.2 473.2,79.7 473.2,78.2 473.3,80.1 473.4,78.0 473.4,79.5 473.5,80.0 473.6,78.1 473.7,79.8 473.7,78.6 473.8,80.1 473.8,78.7 473.9,80.0 473.9,78.5 474.0,78.1 474.0,79.7 474.1,79.5 474.2,78.0 474.2,79.6 474.3,80.2 474.4,78.4 474.4,79.7 474.5,78.2 474.6,79.6 474.7,79.8 474.7,78.4 474.8,78.5 474.8,79.5 474.9,78.6 474.9,80.5 475.0,79.8 475.1,78.9 475.2,80.8 475.2,79.0 475.3,80.5 475.3,78.8 475.4,79.7 475.4,78.6 475.5,80.9 475.6,78.6 475.6,80.2 475.7,78.8 475.7,78.5 475.8,79.6 475.9,79.6 476.0,78.6 476.0,80.2 476.1,78.5 476.2,78.4 476.2,79.9 476.3,80.4 476.3,78.6 476.4,80.6 476.5,79.1 476.5,80.0 476.6,78.6 476.6,79.7 476.7,78.5 476.8,78.4 476.8,82.7 476.9,80.7 476.9,82.4 477.0,81.1 477.1,81.8 477.2,80.8 477.2,80.1 477.2,81.8 477.3,80.4 477.4,80.3 477.5,81.2 477.5,81.1 477.6,79.2 477.7,79.6 477.7,81.0 477.7,81.1 477.9,79.6 477.9,79.8 477.9,80.6 478.0,81.2 478.1,79.6 478.1,81.0 478.2,79.6 478.3,80.9 478.3,79.3 478.4,81.0 478.4,79.8 478.5,81.3 478.6,78.9 478.7,81.8 478.7,77.0 478.8,77.9 478.8,78.4 478.9,79.1 479.0,77.2 479.0,78.8 479.1,77.9 479.1,78.2 479.2,79.3 479.3,79.1 479.3,78.1 479.4,77.8 479.4,79.8 479.6,78.2 479.6,79.3 479.7,79.3 479.7,78.0 479.8,77.4 479.8,78.9 479.9,79.6 480.0,78.6 480.0,78.3 480.1,79.6 480.1,79.7 480.1,78.0 480.2,78.6 480.3,80.4 480.4,78.9 480.5,77.5 480.5,78.8 480.5,77.5 480.6,77.0 480.7,79.1 480.8,77.8 480.8,79.4 480.9,79.9 480.9,78.3 481.0,79.6 481.0,78.0 481.1,77.5 481.2,79.6 481.2,77.5 481.3,79.2 481.4,78.0 481.4,78.8 481.5,77.6 481.6,79.0 481.6,79.9 481.7,78.3 481.8,78.2 481.8,81.3 481.9,76.4 481.9,78.2 482.0,79.2 482.1,77.4 482.2,78.1 482.2,79.0 482.3,77.1 482.3,78.7 482.4,81.5 482.4,77.8 482.5,78.6 482.6,77.9 482.6,78.7 482.6,77.6 482.8,77.8 482.8,79.3 482.9,78.5 482.9,77.5 483.0,81.6 483.1,77.4 483.2,77.9 483.2,78.7 483.3,77.5 483.3,79.5 483.4,79.8 483.5,78.5 483.5,79.2 483.6,77.9 483.7,77.5 483.7,81.6 483.7,78.1 483.8,78.8 483.9,78.8 483.9,77.7 484.0,79.1 484.1,77.2 484.1,77.5 484.2,79.2 484.3,79.1 484.3,77.4 484.4,79.2 484.5,78.1 484.5,77.7 484.6,78.7 484.6,78.1 484.7,79.6 484.8,78.0 484.9,79.3 484.9,79.7 485.0,78.1 485.0,79.7 485.0,78.0 485.1,79.3 485.2,77.8 485.3,78.4 485.3,80.2 485.4,79.5 485.5,78.8 485.5,80.1 485.6,77.8 485.6,80.1 485.7,77.9 485.8,79.4 485.8,78.3 485.9,78.1 485.9,79.6 486.1,80.8 486.1,77.5 486.1,78.1 486.2,79.0 486.3,78.6 486.3,78.0 486.4,78.5 486.5,77.5 486.5,77.9 486.6,79.0 486.6,79.4 486.7,76.9 486.8,79.9 486.8,78.0 486.9,79.5 487.0,78.9 487.0,77.9 487.1,79.2 487.1,78.3 487.2,79.4 487.2,79.9 487.3,78.5 487.4,78.7 487.4,80.7 487.5,78.2 487.6,80.0 487.6,79.7 487.7,78.2 487.8,78.1 487.8,79.7 487.9,77.7 488.0,82.2 488.0,77.7 488.1,78.2 488.1,77.6 488.2,79.5 488.3,78.2 488.3,79.2 488.4,79.9 488.4,78.5 488.6,79.0 488.6,78.3 488.7,78.2 488.7,79.6 488.7,79.2 488.8,78.3 488.9,80.0 489.0,78.2 489.0,79.6 489.1,78.3 489.1,79.6 489.1,78.6 489.2,78.3 489.3,79.9 489.4,79.2 489.4,78.7 489.5,80.1 489.6,78.9 489.6,79.3 489.7,80.5 489.8,78.8 489.8,79.8 489.9,82.9 489.9,77.9 490.0,77.1 490.0,78.9 490.1,77.8 490.2,79.0 490.3,77.8 490.3,78.9 490.4,79.1 490.5,78.1 490.5,79.7 490.5,78.2 490.7,78.2 490.7,79.3 490.8,78.3 490.8,79.4 491.0,79.9 491.0,78.5 491.0,78.1 491.1,79.7 491.1,80.2 491.2,78.3 491.2,76.7 491.3,80.5 491.4,79.1 491.5,79.5 491.5,79.3 491.5,78.2 491.6,77.6 491.7,80.9 491.8,79.3 491.8,77.0 491.9,79.4 491.9,77.8 492.0,78.6 492.0,77.9 492.1,78.0 492.2,79.1 492.3,78.0 492.3,79.2 492.4,79.3 492.4,78.8 492.5,78.0 492.6,79.1 492.7,80.1 492.7,78.5 492.7,79.7 492.9,79.1 492.9,80.3 492.9,79.1 493.0,79.0 493.0,80.7 493.1,79.7 493.1,78.6 493.3,78.7 493.3,80.1 493.4,79.6 493.4,78.1 493.6,79.0 493.6,79.7 493.6,78.3 493.6,80.8 493.8,78.4 493.8,80.1 493.9,78.4 494.0,79.4 494.0,78.6 494.1,79.4 494.2,81.2 494.2,78.2 494.3,77.7 494.3,78.7 494.4,77.6 494.5,79.2 494.5,77.7 494.6,80.1 494.6,79.7 494.7,78.2 494.8,79.5 494.8,77.6 494.9,79.0 495.0,80.0 495.0,79.8 495.1,77.6 495.1,79.7 495.2,78.5 495.2,78.7 495.3,79.8 495.4,80.9 495.4,78.1 495.5,78.7 495.5,79.4 495.6,80.3 495.7,78.5 495.8,78.0 495.9,80.4 495.9,80.1 496.0,78.1 496.0,78.9 496.1,79.7 496.2,78.1 496.2,80.5 496.3,80.4 496.3,78.3 496.4,79.5 496.4,80.2 496.6,78.9 496.6,80.4 496.6,80.7 496.7,79.2 496.8,79.9 496.8,78.9 496.9,79.9 496.9,78.7 497.1,80.0 497.1,78.0 497.2,79.1 497.2,79.8 497.3,78.5 497.3,80.7 497.4,80.1 497.4,78.7 497.5,80.0 497.6,77.9 497.7,78.9 497.7,79.9 497.8,78.8 497.8,79.9 497.9,78.6 497.9,79.9 498.0,78.2 498.1,80.3 498.1,79.5 498.2,78.3 498.3,79.9 498.3,79.1 498.4,78.6 498.5,80.6 498.6,80.0 498.6,78.8 498.7,79.1 498.7,78.7 498.8,79.2 498.8,80.5 498.9,79.9 498.9,81.8 499.0,82.4 499.1,80.9 499.2,82.1 499.2,79.6 499.3,82.0 499.4,80.1 499.4,79.8 499.4,81.5 499.6,80.8 499.6,79.9 499.6,80.3 499.7,81.1 499.8,79.3 499.8,81.2 499.9,79.6 500.0,81.4 500.0,80.9 500.0,79.5 500.2,80.0 500.2,81.6 500.3,79.2 500.4,80.9 500.4,80.8 500.5,79.5 500.6,80.8 500.6,78.7 500.6,79.9 500.7,80.9 500.8,79.8 500.8,80.3 500.9,80.9 501.0,79.2 501.0,79.8 501.1,80.6 501.1,79.2 501.2,80.7 501.3,81.1 501.3,78.7 501.4,80.6 501.4,79.5 501.5,79.9 501.6,79.3 501.6,79.5 501.6,80.7 501.8,79.7 501.8,81.1 501.9,81.4 502.0,79.2 502.1,79.9 502.1,80.9 502.2,80.6 502.2,79.6 502.2,79.1 502.3,80.4 502.4,80.4 502.5,79.7 502.5,80.9 502.6,79.2 502.7,79.6 502.7,80.9 502.7,79.0 502.8,81.1 502.9,80.5 502.9,79.8 503.0,81.0 503.1,79.2 503.1,79.3 503.2,80.3 503.3,79.4 503.3,80.1 503.5,80.7 503.5,79.5 503.5,79.8 503.6,80.7 503.6,80.7 503.7,78.7 503.8,81.4 503.9,77.9 503.9,77.2 503.9,78.5 504.1,77.2 504.1,78.9 504.1,77.3 504.2,78.7 504.3,79.5 504.3,77.7 504.4,77.5 504.4,79.0 504.5,77.8 504.6,78.6 504.7,79.8 504.7,78.4 504.8,78.4 504.9,79.6 504.9,79.4 504.9,78.1 505.0,78.1 505.1,79.3 505.2,78.8 505.2,79.3 505.3,79.0 505.3,78.2 505.4,78.2 505.5,79.4 505.5,78.1 505.5,79.5 505.6,79.4 505.7,78.4 505.8,78.4 505.8,79.5 505.9,79.9 506.0,78.7 506.1,78.1 506.1,79.4 506.2,78.6 506.2,79.7 506.2,78.3 506.3,81.8 506.4,78.3 506.4,77.4 506.6,78.3 506.6,76.8 506.7,77.6 506.7,78.8 506.8,81.1 506.9,76.5 506.9,76.7 507.0,79.1 507.0,78.7 507.1,77.8 507.1,78.7 507.2,77.7 507.3,77.4 507.4,79.0 507.4,79.3 507.4,77.9 507.5,77.5 507.6,79.1 507.6,78.5 507.7,79.5 507.8,78.9 507.8,77.7 507.9,78.1 508.0,79.4 508.0,79.2 508.0,77.7 508.1,79.9 508.2,78.4 508.3,80.2 508.4,78.3 508.4,78.4 508.4,79.3 508.5,79.9 508.6,78.6 508.6,78.5 508.7,79.5 508.8,80.1 508.8,78.9 508.9,78.0 508.9,79.4 509.0,79.6 509.1,78.6 509.1,81.9 509.1,76.5 509.3,77.1 509.3,78.5 509.4,79.0 509.5,77.6 509.5,82.2 509.6,77.3 509.7,77.8 509.7,78.8 509.8,78.8 509.8,76.8 509.9,79.2 510.0,77.6 510.0,80.9 510.1,77.6 510.1,76.8 510.2,78.8 510.3,79.5 510.4,77.6 510.4,77.6 510.4,78.8 510.5,78.0 510.6,79.1 510.6,79.1 510.7,78.0 510.8,78.3 510.8,79.2 510.9,79.5 511.0,78.0 511.0,77.8 511.1,78.8 511.2,78.5 511.2,79.5 511.2,79.2 511.3,78.1 511.5,81.0 511.5,77.4 511.5,77.4 511.5,77.7 511.6,78.7 511.7,77.5 511.8,77.0 511.8,79.3 511.9,78.4 512.0,79.0 512.1,77.4 512.1,79.4 512.1,80.6 512.2,76.8 512.3,77.7 512.4,79.1 512.4,77.3 512.5,79.2 512.6,78.3 512.6,78.9 512.6,81.0 512.6,77.2 512.8,77.7 512.8,78.7 512.9,77.8 513.0,78.4 513.0,77.3 513.1,79.1 513.1,78.2 513.2,79.2 513.3,78.2 513.3,79.0 513.4,77.5 513.4,79.3 513.5,78.0 513.6,80.1 513.6,79.8 513.7,78.0 513.8,79.9 513.8,78.3 513.9,79.5 514.0,78.3 514.0,79.4 514.1,78.3 514.2,79.0 514.2,80.1 514.3,78.4 514.4,79.9 514.4,79.8 514.5,78.4 514.6,79.6 514.6,78.4 514.6,78.2 514.7,80.8 514.8,82.0 514.8,77.2 514.9,77.4 514.9,78.7 515.0,77.0 515.1,78.4 515.1,78.1 515.2,78.9 515.3,78.3 515.4,80.0 515.4,79.0 515.4,77.9 515.5,79.9 515.6,78.0 515.7,81.2 515.7,77.6 515.8,77.3 515.8,78.1 515.9,79.3 516.0,78.1 516.0,78.6 516.1,79.4 516.1,77.7 516.2,79.4 516.3,77.8 516.3,80.4 516.4,78.0 516.4,79.2 516.5,79.1 516.5,77.3 516.7,80.0 516.7,77.9 516.8,79.3 516.8,78.0 516.9,78.1 516.9,79.4 517.0,78.7 517.0,79.7 517.1,79.6 517.2,79.2 517.3,78.7 517.3,79.6 517.4,79.7 517.5,77.9 517.5,78.5 517.6,80.1 517.7,80.5 517.7,79.0 517.7,79.9 517.8,78.8 517.9,79.8 517.9,78.6 518.0,80.1 518.1,78.9 518.2,80.1 518.2,78.3 518.3,79.9 518.3,78.9 518.4,78.6 518.5,79.5 518.5,78.0 518.6,80.5 518.6,79.3 518.7,78.4 518.8,78.7 518.9,80.0 518.9,77.6 518.9,79.9 519.0,78.6 519.1,79.4 519.2,79.7 519.2,77.8 519.3,79.8 519.3,78.4 519.4,78.9 519.5,80.4 519.5,78.9 519.5,79.6 519.7,78.4 519.7,80.3 519.8,78.7 519.9,79.8 520.0,79.9 520.0,78.4 520.0,78.8 520.1,80.2 520.1,78.9 520.2,80.2 520.3,78.9 520.3,79.5 520.4,78.7 520.5,80.0 520.5,78.6 520.6,82.1 520.7,81.8 520.7,80.8 520.8,80.1 520.8,82.0 520.9,81.1 520.9,80.6 521.0,81.5 521.1,79.5 521.1,78.9 521.2,81.1 521.3,81.1 521.3,79.6 521.4,81.2 521.5,80.0 521.5,79.5 521.6,80.4 521.7,80.9 521.7,79.0 521.7,81.3 521.8,79.7 521.9,79.6 521.9,81.1 522.1,80.8 522.1,79.5 522.2,80.4 522.2,79.6 522.3,79.4 522.3,81.0 522.5,81.5 522.5,78.3 522.5,77.9 522.6,77.5 522.6,79.4 522.7,77.6 522.8,79.8 522.9,77.7 522.9,81.7 522.9,77.6 523.0,79.0 523.1,78.0 523.1,77.0 523.2,79.3 523.3,79.8 523.4,77.9 523.4,78.0 523.5,79.7 523.5,80.5 523.5,77.8 523.6,77.4 523.7,78.9 523.8,78.6 523.8,78.0 523.9,77.8 524.0,78.3 524.0,77.3 524.1,79.3 524.2,78.6 524.2,78.4 524.3,79.8 524.3,78.5 524.4,81.1 524.5,76.4 524.5,77.0 524.5,78.9 524.7,78.5 524.7,77.8 524.8,77.5 524.8,79.0 524.9,78.8 524.9,77.8 525.1,79.6 525.1,78.0 525.1,77.8 525.2,79.5 525.3,78.6 525.3,79.2 525.4,79.4 525.5,77.5 525.5,77.6 525.6,79.6 525.6,77.9 525.7,78.8 525.8,80.4 525.9,77.7 525.9,77.0 526.0,78.5 526.0,78.8 526.1,77.8 526.2,77.2 526.2,79.5 526.3,78.0 526.4,80.3 526.4,77.7 526.4,79.4 526.5,77.9 526.5,79.2 526.7,80.1 526.7,78.2 526.8,77.7 526.8,79.3 526.9,79.2 526.9,77.7 527.0,78.4 527.1,79.7 527.1,77.6 527.2,79.3 527.3,79.6 527.4,78.4 527.4,77.7 527.5,78.5 527.5,77.9 527.6,79.8 527.6,77.9 527.7,79.4 527.8,78.0 527.8,80.0 528.0,77.5 528.0,79.3 528.1,80.6 528.1,77.6 528.2,77.0 528.2,79.1 528.3,78.1 528.4,77.4 528.4,79.4 528.4,77.6 528.5,79.4 528.6,77.9 528.6,77.9 528.7,79.4 528.8,78.1 528.9,79.1 528.9,79.5 529.0,77.8 529.0,79.3 529.1,78.2 529.2,78.5 529.2,77.3 529.3,78.2 529.4,80.3 529.4,81.6 529.5,77.9 529.5,77.1 529.6,78.6 529.7,77.6 529.7,79.4 529.7,77.8 529.9,79.1 529.9,77.9 529.9,79.3 530.0,79.8 530.1,77.7 530.1,77.3 530.2,78.8 530.3,77.8 530.3,79.7 530.4,79.8 530.5,78.2 530.6,79.5 530.6,78.6 530.7,78.3 530.7,79.8 530.8,79.8 530.8,78.4 530.9,78.3 531.0,79.5 531.0,79.8 531.1,78.5 531.1,78.6 531.1,79.7 531.3,78.1 531.3,80.2 531.4,78.5 531.5,80.5 531.6,78.7 531.6,80.2 531.7,79.3 531.7,78.4 531.8,78.5 531.9,79.5 531.9,78.9 532.0,79.3 532.0,80.6 532.1,77.6 532.2,77.1 532.2,79.3 532.3,78.9 532.3,77.8 532.4,78.2 532.4,79.6 532.5,81.5 532.6,77.0 532.7,79.3 532.7,77.7 532.8,77.9 532.8,79.8 532.9,77.2 533.0,78.5 533.0,78.1 533.1,79.5 533.1,81.2 533.2,77.5 533.2,77.8 533.3,78.4 533.4,77.7 533.4,79.4 533.5,77.7 533.6,79.2 533.7,79.2 533.7,77.7 533.8,79.6 533.8,78.1 533.9,79.6 533.9,78.8 534.1,78.3 534.1,81.8 534.1,77.6 534.2,79.2 534.3,77.8 534.4,79.0 534.4,77.9 534.5,78.9 534.6,79.6 534.6,77.9 534.6,79.7 534.7,78.6 534.8,81.2 534.9,77.3 534.9,79.2 534.9,77.4 535.0,79.2 535.1,77.5 535.1,79.3 535.2,77.9 535.3,77.7 535.3,79.2 535.5,77.9 535.5,82.4 535.5,77.9 535.6,79.4 535.6,79.0 535.7,78.2 535.8,78.8 535.8,77.1 535.9,78.2 536.0,79.8 536.1,78.3 536.1,79.5 536.1,79.7 536.2,78.2 536.3,77.9 536.4,82.0 536.4,79.0 536.5,77.1 536.6,77.4 536.6,79.0 536.7,79.0 536.7,79.5 536.8,77.9 536.9,79.3 536.9,79.1 536.9,79.9 537.0,78.2 537.1,80.2 537.2,82.0 537.2,77.6 537.3,77.8 537.3,78.7 537.4,78.8 537.4,77.8 537.5,77.9 537.5,79.3 537.7,78.7 537.7,79.4 537.8,78.5 537.8,79.7 537.9,78.8 537.9,79.7 538.0,78.5 538.1,79.5 538.2,79.9 538.2,78.3 538.3,78.7 538.4,79.7 538.5,80.3 538.5,78.5 538.5,79.1 538.5,79.9 538.7,79.8 538.7,78.1 538.8,79.5 538.8,78.0 539.0,79.7 539.0,78.0 539.0,79.0 539.1,79.8 539.2,80.4 539.2,78.4 539.3,80.1 539.3,78.8 539.4,80.1 539.5,78.9 539.5,78.4 539.6,79.6 539.6,80.3 539.7,78.6 539.8,78.5 539.8,79.8 539.9,80.0 539.9,79.0 540.1,79.0 540.1,80.4 540.2,80.3 540.2,79.1 540.3,79.3 540.3,80.9 540.4,79.5 540.5,78.2 540.5,78.4 540.6,79.6 540.7,78.5 540.7,80.5 540.8,78.7 540.9,80.4 540.9,80.3 541.0,79.2 541.0,80.1 541.1,79.2 541.1,79.0 541.2,80.1 541.3,78.7 541.3,79.6 541.4,79.0 541.5,80.1 541.6,80.2 541.6,78.6 541.6,79.7 541.7,78.6 541.8,78.8 541.9,79.8 541.9,80.2 542.0,78.4 542.0,80.1 542.1,78.8 542.2,80.0 542.2,78.6 542.3,78.9 542.3,82.4 542.4,81.2 542.5,82.1" fill="none" stroke="#0072BD" stroke-width="0.55" stroke-linejoin="round"/></g>
<path d="M323.80 110.40v-2.20M323.80 16.60v2.20M367.54 110.40v-2.20M367.54 16.60v2.20M411.28 110.40v-2.20M411.28 16.60v2.20M455.02 110.40v-2.20M455.02 16.60v2.20M498.76 110.40v-2.20M498.76 16.60v2.20M542.50 110.40v-2.20M542.50 16.60v2.20M323.80 110.40h2.20M542.50 110.40h-2.20M323.80 79.13h2.20M542.50 79.13h-2.20M323.80 47.87h2.20M542.50 47.87h-2.20M323.80 16.60h2.20M542.50 16.60h-2.20" stroke="#6e6e6e" stroke-width="0.9" fill="none"/>
<rect x="323.80" y="16.60" width="218.70" height="93.80" fill="none" stroke="#6e6e6e" stroke-width="1.3"/>
<text x="323.80" y="123.90" class="tk" text-anchor="middle">45</text>
<text x="367.54" y="123.90" class="tk" text-anchor="middle">46</text>
<text x="411.28" y="123.90" class="tk" text-anchor="middle">47</text>
<text x="455.02" y="123.90" class="tk" text-anchor="middle">48</text>
<text x="498.76" y="123.90" class="tk" text-anchor="middle">49</text>
<text x="542.50" y="123.90" class="tk" text-anchor="middle">50</text>
<text x="319.80" y="113.90" class="tk" text-anchor="end">-5</text>
<text x="319.80" y="82.63" class="tk" text-anchor="end">0</text>
<text x="319.80" y="51.37" class="tk" text-anchor="end">5</text>
<text x="319.80" y="20.10" class="tk" text-anchor="end">10</text>
<rect x="330.70" y="22.70" width="76.70" height="13.00" fill="#fff" stroke="#6e6e6e" stroke-width="1.3"/>
<path d="M334.00 29.00h26" stroke="#0072BD" stroke-width="1" fill="none"/>
<text x="362.70" y="32.40" class="lg">Raw Signal</text>
<text x="323.80" y="11.40" class="pl" text-anchor="middle">(b)</text>
<clipPath id="c01"><rect x="35.20" y="147.00" width="219.30" height="93.80"/></clipPath>
<g clip-path="url(#c01)"><polyline points="35.3,172.1 35.4,219.6 35.5,172.7 35.6,220.2 35.7,172.7 35.8,220.5 35.9,173.2 36.0,226.3 36.1,177.0 36.2,224.7 36.3,176.3 36.4,224.4 36.5,177.0 36.6,226.5 36.7,176.3 36.8,223.7 36.9,178.1 37.0,225.7 37.1,176.5 37.2,225.9 37.3,179.5 37.4,227.5 37.5,177.5 37.6,227.8 37.7,186.2 37.8,229.7 37.9,187.0 38.0,230.0 38.1,185.4 38.2,225.8 38.3,187.1 38.4,227.4 38.5,186.7 38.6,219.8 38.7,171.9 38.8,219.7 38.9,171.4 39.0,237.8 39.1,171.8 39.2,220.0 39.3,172.5 39.4,220.4 39.5,173.9 39.6,225.4 39.7,178.6 39.8,223.4 39.9,175.5 40.0,224.3 40.1,175.6 40.2,224.2 40.3,175.5 40.4,226.7 40.5,178.2 40.6,226.5 40.7,176.9 40.8,224.5 40.9,180.3 41.0,225.5 41.1,177.3 41.2,226.2 41.3,186.6 41.4,226.2 41.5,186.8 41.6,228.1 41.7,186.4 41.8,224.7 41.9,186.5 42.0,224.9 42.1,186.4 42.2,220.3 42.3,171.4 42.4,218.9 42.5,170.7 42.6,219.2 42.7,172.2 42.8,220.8 42.9,171.7 43.0,220.2 43.1,173.3 43.2,224.6 43.3,178.0 43.4,225.0 43.5,175.6 43.6,225.1 43.7,175.6 43.8,224.7 43.9,179.7 44.0,227.2 44.1,178.3 44.2,225.5 44.3,178.4 44.4,225.2 44.5,177.1 44.6,225.7 44.7,177.4 44.8,225.9 44.9,179.2 45.0,226.6 45.1,187.5 45.2,226.4 45.3,188.0 45.4,230.0 45.5,187.3 45.6,224.8 45.7,186.9 45.8,218.8 45.9,186.6 46.0,219.1 46.1,172.3 46.2,219.8 46.3,172.2 46.4,219.1 46.5,171.9 46.6,221.0 46.7,174.3 46.8,224.4 46.9,178.7 47.0,223.9 47.1,175.8 47.2,224.6 47.3,173.9 47.4,223.5 47.5,176.3 47.6,224.0 47.7,177.0 47.8,225.5 47.9,176.2 48.0,227.7 48.1,178.6 48.2,225.2 48.3,179.6 48.4,225.7 48.5,177.7 48.6,227.4 48.7,186.1 48.8,226.3 48.9,185.8 49.0,227.4 49.1,186.7 49.2,226.7 49.3,186.1 49.4,219.8 49.5,188.1 49.6,219.5 49.7,171.8 49.8,220.3 49.9,172.5 50.0,220.3 50.1,172.7 50.2,220.6 50.3,172.2 50.4,219.8 50.5,173.0 50.6,222.6 50.7,177.3 50.8,225.8 50.9,176.9 51.0,224.3 51.1,176.2 51.2,226.8 51.3,174.5 51.4,225.4 51.5,176.5 51.6,225.6 51.7,179.0 51.8,226.5 51.9,179.5 52.0,224.8 52.1,178.4 52.2,227.5 52.3,186.0 52.4,226.9 52.5,187.0 52.6,228.2 52.7,187.7 52.8,225.9 52.9,187.3 53.0,225.6 53.1,186.8 53.2,220.0 53.3,171.6 53.4,220.2 53.5,172.0 53.6,219.8 53.7,172.1 53.8,219.6 53.9,172.6 54.0,219.8 54.1,173.5 54.2,224.2 54.3,177.9 54.4,223.8 54.5,175.3 54.6,223.9 54.7,175.6 54.8,224.9 54.9,178.2 55.0,225.4 55.1,179.2 55.2,226.4 55.3,176.7 55.4,223.4 55.5,177.4 55.6,224.5 55.7,179.6 55.8,225.1 55.9,186.2 56.0,228.4 56.1,186.1 56.2,225.8 56.3,186.1 56.4,227.9 56.5,187.0 56.6,228.2 56.7,186.1 56.8,219.6 56.9,186.8 57.0,219.0 57.1,171.4 57.2,220.2 57.3,171.5 57.4,219.5 57.5,172.1 57.6,219.1 57.7,172.6 57.8,223.4 57.9,179.0 58.0,223.4 58.1,175.0 58.2,225.1 58.3,176.6 58.4,224.0 58.5,177.9 58.6,223.6 58.7,174.7 58.8,223.9 58.9,178.4 59.0,227.4 59.1,176.3 59.2,225.2 59.3,177.2 59.4,225.8 59.5,179.0 59.6,225.3 59.7,186.6 59.8,225.9 59.9,186.4 60.0,227.9 60.1,186.3 60.2,226.3 60.3,187.4 60.4,220.3 60.5,188.4 60.6,219.7 60.7,171.6 60.8,219.5 60.9,172.2 61.0,220.3 61.1,173.3 61.2,220.7 61.3,173.1 61.4,223.1 61.5,175.9 61.6,223.9 61.7,179.1 61.8,224.9 61.9,178.2 62.0,222.6 62.1,178.3 62.2,224.2 62.3,175.9 62.4,227.5 62.5,177.4 62.6,227.1 62.7,177.0 62.8,223.7 62.9,178.0 63.0,225.9 63.1,179.5 63.2,226.5 63.3,188.2 63.4,225.9 63.5,187.2 63.6,230.8 63.7,186.7 63.8,225.2 63.9,186.9 64.0,226.4 64.1,185.9 64.2,220.6 64.3,172.4 64.4,221.1 64.5,172.4 64.6,219.5 64.7,172.4 64.8,219.3 64.9,172.3 65.0,219.8 65.1,172.8 65.2,223.6 65.3,178.5 65.4,223.2 65.5,178.6 65.6,225.2 65.7,177.6 65.8,224.5 65.9,179.2 66.0,226.6 66.1,176.0 66.2,226.1 66.3,180.4 66.4,227.1 66.5,179.8 66.6,224.9 66.7,178.4 66.8,227.0 66.9,187.6 67.0,226.2 67.1,185.9 67.2,225.2 67.3,185.0 67.4,226.9 67.5,185.6 67.6,225.4 67.7,186.4 67.8,220.0 67.9,172.5 68.0,219.8 68.1,171.8 68.2,219.8 68.3,173.0 68.4,219.7 68.5,173.1 68.6,220.2 68.7,172.2 68.8,224.3 68.9,178.3 69.0,223.2 69.1,177.7 69.2,224.7 69.3,175.1 69.4,225.7 69.5,175.1 69.6,224.7 69.7,177.7 69.8,226.6 69.9,180.2 70.0,227.5 70.1,177.9 70.2,225.4 70.3,180.9 70.4,223.7 70.5,186.5 70.6,226.8 70.7,187.5 70.8,227.5 70.9,186.5 71.0,224.8 71.1,186.1 71.2,226.7 71.3,186.4 71.4,219.6 71.5,186.3 71.6,220.3 71.7,171.7 71.8,219.3 71.9,172.7 72.0,219.6 72.1,173.2 72.2,219.9 72.3,172.4 72.4,223.4 72.5,178.2 72.6,224.8 72.7,176.9 72.8,225.6 72.9,175.0 73.0,225.4 73.1,174.7 73.2,226.6 73.3,178.5 73.4,227.4 73.5,177.2 73.6,224.2 73.7,176.7 73.8,226.6 73.9,176.8 74.0,224.0 74.1,179.6 74.2,228.7 74.3,187.6 74.4,226.4 74.5,186.5 74.6,227.1 74.7,187.0 74.8,230.3 74.9,187.6 75.0,219.0 75.1,186.4 75.2,219.2 75.3,172.4 75.4,241.6 75.5,171.6 75.6,218.1 75.7,171.9 75.8,219.1 75.9,172.5 76.0,219.8 76.1,172.7 76.2,224.0 76.3,175.3 76.4,223.3 76.5,178.3 76.6,226.0 76.7,175.7 76.8,224.7 76.9,175.3 77.0,224.0 77.1,177.8 77.2,224.4 77.3,179.9 77.4,226.8 77.5,177.7 77.6,225.3 77.7,179.7 77.8,224.9 77.9,187.0 78.0,224.9 78.1,187.4 78.2,228.2 78.3,187.1 78.4,228.8 78.5,186.5 78.6,227.4 78.7,187.6 78.8,221.1 78.9,171.6 79.0,218.1 79.1,171.8 79.2,220.0 79.3,171.8 79.4,220.0 79.5,173.4 79.6,219.8 79.7,172.6 79.8,225.3 79.9,176.8 80.0,226.6 80.1,179.0 80.2,225.7 80.3,176.5 80.4,226.8 80.5,175.0 80.6,224.7 80.7,176.1 80.8,226.1 80.9,175.4 81.0,226.9 81.1,177.7 81.2,224.7 81.3,178.2 81.4,228.0 81.5,187.2 81.6,227.7 81.7,186.0 81.8,230.2 81.9,187.1 82.0,225.3 82.1,185.9 82.2,229.0 82.3,187.0 82.4,219.4 82.5,172.0 82.6,219.6 82.7,171.2 82.8,218.5 82.9,172.2 83.0,220.2 83.1,172.6 83.2,219.2 83.3,172.3 83.4,222.2 83.5,173.5 83.6,225.3 83.7,175.3 83.8,223.1 83.9,177.9 84.0,224.5 84.1,175.4 84.2,225.9 84.3,175.7 84.4,226.0 84.5,176.4 84.6,224.0 84.7,176.8 84.8,227.5 84.9,180.3 85.0,224.7 85.1,186.7 85.2,225.2 85.3,186.6 85.4,230.5 85.5,187.1 85.6,229.0 85.7,185.7 85.8,225.7 85.9,187.9 86.0,220.6 86.1,186.0 86.2,219.8 86.3,171.7 86.4,218.9 86.5,171.7 86.6,219.5 86.7,172.5 86.8,220.1 86.9,172.4 87.0,222.6 87.1,175.1 87.2,223.3 87.3,177.3 87.4,224.7 87.5,175.2 87.6,225.4 87.7,178.0 87.8,226.1 87.9,177.7 88.0,224.2 88.1,178.8 88.2,226.9 88.3,179.9 88.4,224.9 88.5,179.4 88.6,224.4 88.7,177.8 88.8,227.4 88.9,186.7 89.0,223.5 89.1,186.8 89.2,228.5 89.3,187.2 89.4,225.2 89.5,186.3 89.6,219.3 89.7,187.2 89.8,219.9 89.9,170.8 90.0,219.9 90.1,172.3 90.2,219.6 90.3,171.9 90.4,219.7 90.5,173.9 90.6,220.4 90.7,173.7 90.8,223.3 90.9,175.4 91.0,223.8 91.1,178.2 91.2,224.8 91.3,178.1 91.4,225.4 91.5,177.1 91.6,226.6 91.7,178.9 91.8,225.6 91.9,176.8 92.0,225.3 92.1,176.3 92.2,226.3 92.3,178.5 92.4,226.0 92.5,187.0 92.6,229.7 92.7,186.3 92.8,224.2 92.9,186.8 93.0,225.8 93.1,186.8 93.2,228.9 93.3,187.5 93.4,219.4 93.5,171.6 93.6,220.1 93.7,172.8 93.8,220.1 93.9,171.7 94.0,219.8 94.1,172.6 94.2,219.7 94.3,173.9 94.4,225.7 94.5,174.6 94.6,222.7 94.7,176.7 94.8,224.6 94.9,174.9 95.0,224.1 95.1,178.5 95.2,225.0 95.3,174.8 95.4,225.0 95.5,177.7 95.6,227.0 95.7,176.1 95.8,225.3 95.9,177.8 96.0,228.0 96.1,187.0 96.2,226.0 96.3,186.0 96.4,226.6 96.5,187.1 96.6,226.5 96.7,186.8 96.8,230.2 96.9,187.1 97.0,219.8 97.1,171.7 97.2,219.5 97.3,171.9 97.4,219.3 97.5,172.7 97.6,219.6 97.7,172.8 97.8,219.0 97.9,173.4 98.0,224.7 98.1,176.6 98.2,225.5 98.3,177.5 98.4,225.9 98.5,175.6 98.6,224.1 98.7,178.7 98.8,223.7 98.9,176.8 99.0,226.5 99.1,176.8 99.2,227.2 99.3,178.5 99.4,226.1 99.5,178.8 99.6,228.1 99.7,178.0 99.8,227.2 99.9,187.9 100.0,226.8 100.1,186.6 100.2,225.0 100.3,187.5 100.4,226.8 100.5,187.5 100.6,219.7 100.7,187.7 100.8,220.4 100.9,171.6 101.0,219.7 101.1,172.0 101.2,219.7 101.3,172.3 101.4,220.2 101.5,172.7 101.6,223.0 101.7,177.5 101.8,223.4 101.9,177.2 102.0,224.2 102.1,175.2 102.2,224.4 102.3,179.2 102.4,225.0 102.5,175.7 102.6,225.7 102.7,178.3 102.8,225.4 102.9,177.5 103.0,225.5 103.1,179.5 103.2,226.7 103.3,178.9 103.4,226.6 103.5,186.6 103.6,229.1 103.7,186.5 103.8,225.6 103.9,186.7 104.0,236.3 104.1,187.0 104.2,219.6 104.3,187.1 104.4,219.6 104.5,172.2 104.6,219.3 104.7,172.0 104.8,220.8 104.9,173.2 105.0,220.2 105.1,173.1 105.2,219.5 105.3,173.2 105.4,225.0 105.5,177.2 105.6,224.8 105.7,174.5 105.8,225.4 105.9,177.1 106.0,226.7 106.1,177.9 106.2,226.1 106.3,176.4 106.4,227.6 106.5,178.7 106.6,225.3 106.7,177.0 106.8,228.3 106.9,179.5 107.0,225.8 107.1,186.1 107.2,227.0 107.3,186.2 107.4,228.4 107.5,186.7 107.6,229.7 107.7,186.6 107.8,228.7 107.9,186.7 108.0,219.3 108.1,172.0 108.2,220.6 108.3,172.9 108.4,220.3 108.5,172.1 108.6,220.8 108.7,172.4 108.8,219.6 108.9,173.8 109.0,224.8 109.1,177.2 109.2,224.6 109.3,175.0 109.4,226.5 109.5,177.3 109.6,223.5 109.7,175.5 109.8,225.0 109.9,177.3 110.0,225.6 110.1,177.5 110.2,225.3 110.3,179.8 110.4,225.0 110.5,177.9 110.6,225.9 110.7,186.3 110.8,224.9 110.9,186.6 111.0,224.7 111.1,187.2 111.2,227.6 111.3,186.6 111.4,226.7 111.5,186.0 111.6,218.6 111.7,187.4 111.8,220.3 111.9,171.2 112.0,220.0 112.1,172.7 112.2,220.0 112.3,173.2 112.4,221.0 112.5,173.4 112.6,222.4 112.7,175.8 112.8,224.6 112.9,175.0 113.0,222.8 113.1,179.3 113.2,226.1 113.3,176.5 113.4,226.7 113.5,176.9 113.6,224.1 113.7,176.7 113.8,226.8 113.9,178.8 114.0,226.4 114.1,178.1 114.2,224.7 114.3,178.2 114.4,228.4 114.5,187.3 114.6,228.4 114.7,186.9 114.8,227.1 114.9,186.8 115.0,224.6 115.1,187.6 115.2,219.4 115.3,187.2 115.4,220.3 115.5,172.9 115.6,220.8 115.7,171.8 115.8,219.8 115.9,172.4 116.0,220.3 116.1,172.9 116.2,224.1 116.3,175.8 116.4,224.2 116.5,178.3 116.6,224.3 116.7,175.9 116.8,225.3 116.9,176.1 117.0,225.4 117.1,176.8 117.2,226.0 117.3,178.3 117.4,227.4 117.5,176.0 117.6,225.0 117.7,178.8 117.8,227.9 117.9,179.7 118.0,227.6 118.1,186.0 118.2,226.2 118.3,187.1 118.4,224.8 118.5,186.6 118.6,229.5 118.7,185.7 118.8,226.8 118.9,186.7 119.0,219.5 119.1,171.6 119.2,220.0 119.3,172.0 119.4,219.4 119.5,172.1 119.6,218.9 119.7,172.4 119.8,220.0 119.9,173.8 120.0,222.9 120.1,177.4 120.2,225.1 120.3,178.4 120.4,224.0 120.5,177.1 120.6,225.6 120.7,177.7 120.8,224.5 120.9,178.4 121.0,225.2 121.1,179.4 121.2,227.5 121.3,177.2 121.4,226.7 121.5,178.9 121.6,227.3 121.7,186.4 121.8,224.8 121.9,187.2 122.0,229.4 122.1,186.4 122.2,228.8 122.3,186.5 122.4,227.0 122.5,186.5 122.6,220.2 122.7,172.4 122.8,219.9 122.9,171.3 123.0,220.4 123.1,172.3 123.2,219.4 123.3,172.0 123.4,219.6 123.5,173.5 123.6,223.7 123.7,178.0 123.8,223.7 123.9,177.7 124.0,225.8 124.1,177.7 124.2,224.2 124.3,176.6 124.4,223.6 124.5,175.9 124.6,225.5 124.7,178.9 124.8,227.6 124.9,179.6 125.0,225.1 125.1,176.6 125.2,227.4 125.3,187.6 125.4,229.2 125.5,187.2 125.6,226.0 125.7,186.4 125.8,225.0 125.9,187.1 126.0,228.0 126.1,186.6 126.2,220.4 126.3,187.0 126.4,220.6 126.5,172.9 126.6,219.1 126.7,172.3 126.8,218.9 126.9,171.9 127.0,219.6 127.1,173.1 127.2,223.6 127.3,174.5 127.4,225.4 127.5,174.7 127.6,224.0 127.7,174.5 127.8,226.0 127.9,175.2 128.0,224.1 128.1,180.3 128.2,223.4 128.3,177.3 128.4,226.4 128.5,179.9 128.6,224.6 128.7,178.8 128.8,226.5 128.9,178.8 129.0,225.9 129.1,186.6 129.2,229.4 129.3,186.6 129.4,227.4 129.5,186.5 129.6,227.0 129.7,187.1 129.8,219.5 129.9,186.8 130.0,219.8 130.1,171.6 130.2,219.8 130.3,172.0 130.4,219.9 130.5,172.5 130.6,220.9 130.7,172.5 130.8,220.1 130.9,173.4 131.0,223.7 131.1,176.8 131.2,224.6 131.3,177.3 131.4,225.7 131.5,176.8 131.6,225.8 131.7,178.8 131.8,223.7 131.9,179.4 132.0,226.0 132.1,177.4 132.2,226.2 132.3,177.2 132.4,223.6 132.5,180.0 132.6,227.1 132.7,186.7 132.8,226.8 132.9,187.2 133.0,230.2 133.1,187.1 133.2,227.0 133.3,186.7 133.4,227.7 133.5,186.0 133.6,219.2 133.7,171.0 133.8,219.5 133.9,171.9 134.0,220.7 134.1,172.4 134.2,220.1 134.3,173.5 134.4,219.8 134.5,173.4 134.6,224.1 134.7,176.9 134.8,224.7 134.9,175.7 135.0,224.0 135.1,173.7 135.2,223.5 135.3,178.6 135.4,224.6 135.5,175.7 135.6,225.4 135.7,175.9 135.8,225.0 135.9,180.8 136.0,227.5 136.1,178.4 136.2,227.0 136.3,186.3 136.4,228.0 136.5,186.3 136.6,228.7 136.7,186.6 136.8,230.1 136.9,186.6 137.0,226.4 137.1,186.8 137.2,220.7 137.3,171.4 137.4,219.3 137.5,171.6 137.6,220.1 137.7,171.9 137.8,219.7 137.9,173.1 138.0,220.4 138.1,173.9 138.2,225.4 138.3,173.8 138.4,222.4 138.5,176.8 138.6,224.0 138.7,175.2 138.8,224.3 138.9,176.6 139.0,227.2 139.1,176.9 139.2,226.0 139.3,175.7 139.4,226.2 139.5,175.4 139.6,226.2 139.7,179.2 139.8,225.3 139.9,187.4 140.0,227.6 140.1,186.4 140.2,228.5 140.3,186.6 140.4,226.3 140.5,187.7 140.6,228.6 140.7,187.2 140.8,220.6 140.9,186.0 141.0,220.2 141.1,172.7 141.2,219.3 141.3,172.5 141.4,219.8 141.5,173.3 141.6,219.4 141.7,173.1 141.8,222.8 141.9,173.3 142.0,225.2 142.1,176.1 142.2,226.8 142.3,174.8 142.4,226.3 142.5,178.0 142.6,225.0 142.7,177.8 142.8,226.3 142.9,178.9 143.0,225.6 143.1,178.9 143.2,225.4 143.3,178.7 143.4,227.4 143.5,178.2 143.6,224.9 143.7,187.0 143.8,225.2 143.9,186.3 144.0,229.5 144.1,186.3 144.2,225.3 144.3,186.8 144.4,218.8 144.5,185.5 144.6,220.7 144.7,172.2 144.8,220.2 144.9,171.9 145.0,220.7 145.1,172.3 145.2,219.3 145.3,172.6 145.4,220.2 145.5,172.8 145.6,224.7 145.7,176.8 145.8,224.5 145.9,179.4 146.0,224.0 146.1,174.2 146.2,225.5 146.3,178.7 146.4,226.9 146.5,175.3 146.6,226.6 146.7,177.7 146.8,226.9 146.9,181.0 147.0,225.4 147.1,179.3 147.2,227.7 147.3,186.5 147.4,226.9 147.5,186.5 147.6,228.0 147.7,187.4 147.8,226.1 147.9,186.2 148.0,229.0 148.1,187.4 148.2,218.7 148.3,171.3 148.4,220.9 148.5,171.3 148.6,219.1 148.7,173.5 148.8,220.8 148.9,172.5 149.0,219.4 149.1,173.5 149.2,223.5 149.3,174.8 149.4,224.8 149.5,177.4 149.6,224.1 149.7,177.1 149.8,225.9 149.9,177.8 150.0,225.4 150.1,179.0 150.2,227.2 150.3,179.2 150.4,226.4 150.5,177.3 150.6,225.5 150.7,181.1 150.8,227.3 150.9,185.6 151.0,227.1 151.1,187.4 151.2,227.7 151.3,187.3 151.4,230.0 151.5,186.9 151.6,226.6 151.7,186.0 151.8,219.7 151.9,171.2 152.0,219.4 152.1,172.4 152.2,219.6 152.3,172.2 152.4,219.9 152.5,172.6 152.6,220.0 152.7,173.2 152.8,225.5 152.9,173.4 153.0,226.0 153.1,173.7 153.2,225.7 153.3,174.7 153.4,224.5 153.5,176.1 153.6,224.2 153.7,177.3 153.8,227.0 153.9,179.8 154.0,227.4 154.1,177.3 154.2,225.3 154.3,176.8 154.4,230.0 154.5,176.9 154.6,226.7 154.7,187.0 154.8,224.0 154.9,187.3 155.0,227.3 155.1,187.0 155.2,226.0 155.3,186.4 155.4,219.9 155.5,186.0 155.6,219.8 155.7,172.8 155.8,219.8 155.9,172.7 156.0,220.2 156.1,171.5 156.2,219.3 156.3,173.8 156.4,223.1 156.5,176.0 156.6,223.1 156.7,176.0 156.8,225.6 156.9,177.0 157.0,223.7 157.1,175.0 157.2,226.2 157.3,178.9 157.4,224.2 157.5,178.3 157.6,226.8 157.7,179.2 157.8,226.4 157.9,181.0 158.0,227.4 158.1,179.0 158.2,228.4 158.3,186.7 158.4,229.0 158.5,186.2 158.6,227.0 158.7,186.9 158.8,229.3 158.9,186.7 159.0,220.0 159.1,186.3 159.2,219.0 159.3,172.3 159.4,220.7 159.5,171.8 159.6,219.6 159.7,173.2 159.8,220.6 159.9,173.7 160.0,220.0 160.1,173.3 160.2,224.2 160.3,177.8 160.4,223.5 160.5,178.0 160.6,225.9 160.7,175.1 160.8,225.8 160.9,175.1 161.0,223.6 161.1,178.9 161.2,223.7 161.3,177.9 161.4,224.8 161.5,178.2 161.6,224.3 161.7,179.7 161.8,224.6 161.9,186.5 162.0,228.5 162.1,184.9 162.2,225.9 162.3,186.2 162.4,227.1 162.5,187.4 162.6,226.7 162.7,186.4 162.8,220.2 162.9,171.6 163.0,218.9 163.1,171.4 163.2,220.0 163.3,172.9 163.4,220.5 163.5,173.3 163.6,219.3 163.7,174.0 163.8,225.5 163.9,176.0 164.0,225.2 164.1,176.6 164.2,225.0 164.3,178.8 164.4,224.4 164.5,177.8 164.6,225.0 164.7,178.3 164.8,226.3 164.9,180.3 165.0,224.8 165.1,178.5 165.2,225.6 165.3,179.5 165.4,228.1 165.5,187.1 165.6,224.1 165.7,186.8 165.8,227.6 165.9,187.0 166.0,229.5 166.1,187.9 166.2,227.8 166.3,187.3 166.4,220.1 166.5,187.2 166.6,220.0 166.7,171.6 166.8,219.4 166.9,171.9 167.0,219.9 167.1,172.8 167.2,219.1 167.3,172.8 167.4,222.9 167.5,176.3 167.6,224.3 167.7,175.9 167.8,224.0 167.9,174.9 168.0,224.1 168.1,178.6 168.2,226.8 168.3,176.9 168.4,226.5 168.5,180.0 168.6,225.3 168.7,179.2 168.8,227.8 168.9,178.3 169.0,224.8 169.1,177.5 169.2,228.7 169.3,186.9 169.4,228.8 169.5,185.7 169.6,229.4 169.7,186.3 169.8,226.4 169.9,187.3 170.0,219.4 170.1,187.3 170.2,219.4 170.3,172.3 170.4,220.2 170.5,171.0 170.6,219.6 170.7,173.0 170.8,219.6 170.9,173.3 171.0,224.7 171.1,176.5 171.2,223.0 171.3,177.0 171.4,226.8 171.5,178.2 171.6,225.5 171.7,176.0 171.8,223.9 171.9,176.0 172.0,226.8 172.1,178.3 172.2,226.9 172.3,179.7 172.4,225.9 172.5,177.6 172.6,228.9 172.7,177.3 172.8,225.2 172.9,186.2 173.0,226.9 173.1,186.0 173.2,223.9 173.3,186.6 173.4,228.1 173.5,187.2 173.6,228.9 173.7,187.5 173.8,220.6 173.9,171.3 174.0,219.7 174.1,172.5 174.2,220.0 174.3,173.1 174.4,219.9 174.5,172.9 174.6,220.2 174.7,172.3 174.8,225.0 174.9,175.8 175.0,224.0 175.1,179.6 175.2,226.1 175.3,176.2 175.4,226.4 175.5,176.0 175.6,225.9 175.7,177.8 175.8,224.7 175.9,180.2 176.0,224.8 176.1,176.8 176.2,226.8 176.3,177.3 176.4,224.7 176.5,186.4 176.6,226.0 176.7,186.3 176.8,225.2 176.9,187.0 177.0,228.8 177.1,186.6 177.2,224.5 177.3,187.0 177.4,220.1 177.5,171.4 177.6,219.8 177.7,170.7 177.8,219.1 177.9,171.9 178.0,219.3 178.1,171.5 178.2,219.6 178.3,172.1 178.4,224.1 178.5,175.8 178.6,224.3 178.7,177.5 178.8,225.8 178.9,174.7 179.0,224.7 179.1,177.6 179.2,224.9 179.3,174.6 179.4,225.4 179.5,180.2 179.6,224.4 179.7,179.6 179.8,224.9 179.9,178.3 180.0,224.5 180.1,186.2 180.2,226.0 180.3,186.6 180.4,229.7 180.5,186.9 180.6,229.0 180.7,187.2 180.8,229.6 180.9,186.2 181.0,219.9 181.1,186.4 181.2,219.9 181.3,171.3 181.4,219.7 181.5,171.6 181.6,219.9 181.7,172.3 181.8,220.2 181.9,172.3 182.0,224.6 182.1,173.5 182.2,224.0 182.3,173.8 182.4,223.8 182.5,177.6 182.6,222.6 182.7,178.9 182.8,225.6 182.9,176.2 183.0,224.0 183.1,176.2 183.2,225.0 183.3,179.4 183.4,225.1 183.5,178.0 183.6,228.3 183.7,180.7 183.8,228.0 183.9,187.2 184.0,225.4 184.1,185.9 184.2,229.6 184.3,186.5 184.4,226.4 184.5,187.1 184.6,220.4 184.7,185.8 184.8,219.2 184.9,171.1 185.0,219.6 185.1,171.9 185.2,220.0 185.3,172.6 185.4,220.0 185.5,172.7 185.6,219.2 185.7,173.0 185.8,224.5 185.9,175.5 186.0,223.8 186.1,177.8 186.2,225.5 186.3,176.0 186.4,226.6 186.5,178.5 186.6,227.6 186.7,178.3 186.8,227.0 186.9,179.1 187.0,225.4 187.1,178.6 187.2,225.5 187.3,177.4 187.4,226.5 187.5,187.5 187.6,228.5 187.7,187.2 187.8,228.5 187.9,186.5 188.0,226.2 188.1,187.0 188.2,226.1 188.3,186.3 188.4,219.6 188.5,171.8 188.6,220.7 188.7,171.2 188.8,219.9 188.9,172.3 189.0,218.9 189.1,172.9 189.2,220.1 189.3,173.8 189.4,223.3 189.5,176.7 189.6,224.1 189.7,176.6 189.8,223.1 189.9,176.7 190.0,224.4 190.1,176.8 190.2,223.7 190.3,178.2 190.4,224.0 190.5,177.5 190.6,226.0 190.7,178.3 190.8,228.5 190.9,178.2 191.0,226.0 191.1,187.0 191.2,229.0 191.3,187.1 191.4,226.5 191.5,187.5 191.6,225.5 191.7,186.7 191.8,228.1 191.9,187.5 192.0,221.5 192.1,172.2 192.2,219.9 192.3,172.0 192.4,218.9 192.5,172.3 192.6,219.8 192.7,172.7 192.8,220.3 192.9,172.8 193.0,223.6 193.1,177.8 193.2,225.0 193.3,177.9 193.4,223.7 193.5,175.6 193.6,226.0 193.7,176.7 193.8,226.3 193.9,179.7 194.0,224.3 194.1,176.8 194.2,227.2 194.3,178.9 194.4,225.6 194.5,176.5 194.6,227.4 194.7,187.5 194.8,226.8 194.9,187.4 195.0,232.5 195.1,187.4 195.2,225.6 195.3,186.4 195.4,229.5 195.5,187.1 195.6,219.7 195.7,186.1 195.8,219.5 195.9,172.4 196.0,219.5 196.1,172.8 196.2,220.7 196.3,172.7 196.4,219.6 196.5,173.4 196.6,224.0 196.7,176.4 196.8,225.3 196.9,174.6 197.0,223.5 197.1,177.8 197.2,226.7 197.3,177.1 197.4,222.2 197.5,174.8 197.6,225.1 197.7,178.0 197.8,225.2 197.9,177.8 198.0,227.8 198.1,179.6 198.2,226.4 198.3,178.4 198.4,226.8 198.5,186.4 198.6,229.1 198.7,187.8 198.8,228.1 198.9,187.1 199.0,228.1 199.1,186.6 199.2,219.6 199.3,187.0 199.4,219.8 199.5,172.1 199.6,218.9 199.7,171.9 199.8,219.9 199.9,173.4 200.0,219.9 200.1,172.6 200.2,219.9 200.3,172.7 200.4,225.3 200.5,177.6 200.6,223.7 200.7,174.7 200.8,225.5 200.9,178.2 201.0,225.6 201.1,177.2 201.2,224.8 201.3,179.5 201.4,226.9 201.5,178.1 201.6,225.6 201.7,178.9 201.8,228.6 201.9,177.6 202.0,228.7 202.1,186.7 202.2,227.3 202.3,187.0 202.4,226.9 202.5,187.2 202.6,225.5 202.7,186.7 202.8,226.9 202.9,186.4 203.0,219.8 203.1,171.8 203.2,220.4 203.3,171.0 203.4,219.7 203.5,172.1 203.6,219.3 203.7,172.1 203.8,219.5 203.9,173.3 204.0,224.4 204.1,177.9 204.2,226.1 204.3,178.1 204.4,226.1 204.5,177.8 204.6,224.9 204.7,176.3 204.8,226.3 204.9,177.6 205.0,227.3 205.1,177.5 205.2,226.2 205.3,176.8 205.4,226.8 205.5,176.0 205.6,226.5 205.7,186.7 205.8,228.2 205.9,186.6 206.0,228.0 206.1,187.2 206.2,227.3 206.3,187.3 206.4,229.0 206.5,186.5 206.6,219.2 206.7,172.0 206.8,218.8 206.9,172.6 207.0,220.3 207.1,128.2 207.2,237.0 207.3,172.1 207.4,220.2 207.5,171.6 207.6,226.3 207.7,176.6 207.8,224.1 207.9,174.9 208.0,223.2 208.1,175.8 208.2,224.4 208.3,175.0 208.4,223.7 208.5,178.1 208.6,226.7 208.7,177.3 208.8,225.0 208.9,177.7 209.0,224.6 209.1,179.7 209.2,228.4 209.3,178.6 209.4,229.0 209.5,186.2 209.6,227.7 209.7,187.0 209.8,228.7 209.9,187.2 210.0,228.5 210.1,186.9 210.2,218.7 210.3,186.7 210.4,219.2 210.5,170.7 210.6,219.5 210.7,172.2 210.8,219.9 210.9,172.9 211.0,220.4 211.1,173.2 211.2,224.2 211.3,175.0 211.4,224.0 211.5,177.6 211.6,224.4 211.7,177.7 211.8,224.3 211.9,177.3 212.0,225.0 212.1,177.2 212.2,224.8 212.3,176.3 212.4,225.4 212.5,178.9 212.6,224.7 212.7,179.4 212.8,227.0 212.9,176.8 213.0,227.8 213.1,187.9 213.2,225.0 213.3,186.9 213.4,225.3 213.5,186.0 213.6,227.7 213.7,186.2 213.8,219.4 213.9,186.7 214.0,220.3 214.1,172.4 214.2,219.7 214.3,171.8 214.4,219.3 214.5,172.7 214.6,219.5 214.7,172.5 214.8,220.2 214.9,172.9 215.0,225.0 215.1,177.8 215.2,223.6 215.3,179.1 215.4,225.2 215.5,174.6 215.6,225.1 215.7,176.7 215.8,224.4 215.9,175.5 216.0,227.5 216.1,175.3 216.2,226.5 216.3,178.2 216.4,228.5 216.5,180.1 216.6,226.3 216.7,186.7 216.8,228.8 216.9,186.7 217.0,228.9 217.1,186.5 217.2,227.2 217.3,186.3 217.4,229.6 217.5,186.0 217.6,220.4 217.7,171.4 217.8,219.8 217.9,172.1 218.0,220.0 218.1,172.2 218.2,219.5 218.3,173.2 218.4,219.6 218.5,173.7 218.6,225.0 218.7,178.3 218.8,222.9 218.9,177.2 219.0,222.1 219.1,175.2 219.2,225.8 219.3,178.0 219.4,227.3 219.5,178.0 219.6,223.0 219.7,179.9 219.8,225.1 219.9,179.8 220.0,224.5 220.1,178.3 220.2,226.1 220.3,186.2 220.4,228.3 220.5,187.2 220.6,227.2 220.7,186.8 220.8,226.5 220.9,187.3 221.0,226.5 221.1,186.0 221.2,219.9 221.3,186.3 221.4,219.9 221.5,171.6 221.6,220.5 221.7,172.8 221.8,219.2 221.9,172.6 222.0,219.1 222.1,173.3 222.2,223.3 222.3,177.5 222.4,224.4 222.5,176.5 222.6,226.1 222.7,175.9 222.8,225.5 222.9,175.5 223.0,223.8 223.1,178.4 223.2,224.9 223.3,176.7 223.4,226.7 223.5,178.5 223.6,227.7 223.7,179.8 223.8,227.6 223.9,178.2 224.0,228.6 224.1,187.0 224.2,229.7 224.3,187.9 224.4,228.6 224.5,185.8 224.6,228.5 224.7,186.9 224.8,219.1 224.9,186.7 225.0,219.2 225.1,172.1 225.2,219.9 225.3,171.7 225.4,219.9 225.5,172.3 225.6,220.1 225.7,172.5 225.8,222.4 225.9,173.6 226.0,222.9 226.1,176.7 226.2,225.5 226.3,176.2 226.4,224.5 226.5,177.4 226.6,227.4 226.7,176.0 226.8,224.5 226.9,178.2 227.0,227.6 227.1,177.6 227.2,225.0 227.3,179.2 227.4,227.9 227.5,180.0 227.6,227.0 227.7,187.1 227.8,225.6 227.9,185.9 228.0,224.9 228.1,187.0 228.2,229.0 228.3,188.0 228.4,229.7 228.5,185.8 228.6,219.6 228.7,170.8 228.8,219.7 228.9,172.6 229.0,220.0 229.1,171.9 229.2,220.4 229.3,173.2 229.4,219.3 229.5,173.5 229.6,222.4 229.7,176.8 229.8,223.5 229.9,178.3 230.0,224.2 230.1,177.4 230.2,225.0 230.3,177.6 230.4,223.4 230.5,178.5 230.6,227.2 230.7,175.9 230.8,224.2 230.9,180.1 231.0,228.2 231.1,176.5 231.2,225.9 231.3,186.2 231.4,224.1 231.5,186.6 231.6,227.4 231.7,187.3 231.8,227.0 231.9,186.6 232.0,227.4 232.1,186.9 232.2,219.7 232.3,171.7 232.4,219.8 232.5,172.1 232.6,219.4 232.7,172.6 232.8,220.0 232.9,173.4 233.0,220.7 233.1,173.0 233.2,224.6 233.3,177.5 233.4,225.2 233.5,177.3 233.6,224.6 233.7,175.0 233.8,226.1 233.9,177.9 234.0,225.3 234.1,176.1 234.2,224.8 234.3,179.1 234.4,227.1 234.5,179.4 234.6,225.8 234.7,178.2 234.8,224.6 234.9,186.7 235.0,224.7 235.1,185.8 235.2,225.8 235.3,187.4 235.4,229.2 235.5,186.6 235.6,227.8 235.7,187.1 235.8,219.0 235.9,187.2 236.0,220.6 236.1,171.3 236.2,218.8 236.3,171.7 236.4,220.0 236.5,172.4 236.6,220.2 236.7,173.4 236.8,224.3 236.9,177.0 237.0,224.8 237.1,177.2 237.2,224.3 237.3,178.1 237.4,223.6 237.5,176.3 237.6,226.1 237.7,178.0 237.8,225.5 237.9,176.9 238.0,226.7 238.1,176.7 238.2,225.6 238.3,179.2 238.4,226.6 238.5,177.1 238.6,226.7 238.7,186.9 238.8,228.1 238.9,186.3 239.0,225.5 239.1,187.1 239.2,227.8 239.3,186.6 239.4,219.5 239.5,188.0 239.6,220.1 239.7,170.9 239.8,220.1 239.9,172.2 240.0,219.5 240.1,171.7 240.2,219.7 240.3,172.8 240.4,219.1 240.5,174.3 240.6,226.4 240.7,177.6 240.8,225.7 240.9,177.5 241.0,223.7 241.1,178.1 241.2,224.3 241.3,174.9 241.4,225.7 241.5,178.7 241.6,226.7 241.7,179.0 241.8,224.2 241.9,180.2 242.0,226.7 242.1,178.7 242.2,228.0 242.3,186.8 242.4,227.1 242.5,187.0 242.6,227.5 242.7,186.2 242.8,226.2 242.9,186.7 243.0,227.6 243.1,185.7 243.2,219.8 243.3,171.1 243.4,219.9 243.5,171.0 243.6,219.4 243.7,171.8 243.8,219.0 243.9,172.8 244.0,220.3 244.1,172.9 244.2,223.8 244.3,178.1 244.4,223.4 244.5,177.3 244.6,225.0 244.7,177.9 244.8,224.8 244.9,177.5 245.0,226.3 245.1,178.9 245.2,225.0 245.3,176.7 245.4,225.7 245.5,176.3 245.6,226.7 245.7,179.4 245.8,228.9 245.9,187.5 246.0,224.2 246.1,186.9 246.2,225.8 246.3,186.1 246.4,229.8 246.5,186.9 246.6,228.7 246.7,186.7 246.8,220.6 246.9,172.6 247.0,220.2 247.1,171.3 247.2,220.2 247.3,172.0 247.4,219.9 247.5,172.8 247.6,220.4 247.7,172.6 247.8,222.4 247.9,175.0 248.0,224.5 248.1,177.6 248.2,225.3 248.3,176.2 248.4,225.5 248.5,177.0 248.6,224.4 248.7,177.3 248.8,225.0 248.9,176.6 249.0,226.4 249.1,178.1 249.2,227.1 249.3,176.4 249.4,227.3 249.5,187.3 249.6,228.1 249.7,185.8 249.8,234.0 249.9,186.3 250.0,228.0 250.1,187.2 250.2,227.4 250.3,186.2 250.4,219.5 250.5,186.7 250.6,220.3 250.7,172.7 250.8,219.5 250.9,171.7 251.0,220.8 251.1,173.3 251.2,219.0 251.3,172.5 251.4,224.2 251.5,174.2 251.6,223.1 251.7,175.0 251.8,225.4 251.9,174.1 252.0,226.5 252.1,176.5 252.2,225.4 252.3,178.5 252.4,224.5 252.5,179.9 252.6,224.6 252.7,178.2 252.8,227.9 252.9,176.4 253.0,224.2 253.1,180.0 253.2,228.2 253.3,187.2 253.4,226.3 253.5,187.5 253.6,228.9 253.7,186.0 253.8,227.8 253.9,187.1 254.0,219.7 254.1,187.0 254.2,221.0 254.3,172.1 254.4,219.8" fill="none" stroke="#0072BD" stroke-width="0.60" stroke-linejoin="round"/></g>
<path d="M35.20 240.80v-2.20M35.20 147.00v2.20M71.75 240.80v-2.20M71.75 147.00v2.20M108.30 240.80v-2.20M108.30 147.00v2.20M144.85 240.80v-2.20M144.85 147.00v2.20M181.40 240.80v-2.20M181.40 147.00v2.20M217.95 240.80v-2.20M217.95 147.00v2.20M254.50 240.80v-2.20M254.50 147.00v2.20M35.20 240.80h2.20M254.50 240.80h-2.20M35.20 222.04h2.20M254.50 222.04h-2.20M35.20 203.28h2.20M254.50 203.28h-2.20M35.20 184.52h2.20M254.50 184.52h-2.20M35.20 165.76h2.20M254.50 165.76h-2.20M35.20 147.00h2.20M254.50 147.00h-2.20" stroke="#6e6e6e" stroke-width="0.9" fill="none"/>
<rect x="35.20" y="147.00" width="219.30" height="93.80" fill="none" stroke="#6e6e6e" stroke-width="1.3"/>
<text x="35.20" y="254.30" class="tk" text-anchor="middle">0</text>
<text x="71.75" y="254.30" class="tk" text-anchor="middle">10</text>
<text x="108.30" y="254.30" class="tk" text-anchor="middle">20</text>
<text x="144.85" y="254.30" class="tk" text-anchor="middle">30</text>
<text x="181.40" y="254.30" class="tk" text-anchor="middle">40</text>
<text x="217.95" y="254.30" class="tk" text-anchor="middle">50</text>
<text x="254.50" y="254.30" class="tk" text-anchor="middle">60</text>
<text x="31.20" y="244.30" class="tk" text-anchor="end">-1</text>
<text x="31.20" y="225.54" class="tk" text-anchor="end">-0.5</text>
<text x="31.20" y="206.78" class="tk" text-anchor="end">0</text>
<text x="31.20" y="188.02" class="tk" text-anchor="end">0.5</text>
<text x="31.20" y="169.26" class="tk" text-anchor="end">1</text>
<text x="31.20" y="150.50" class="tk" text-anchor="end">1.5</text>
<rect x="42.10" y="153.10" width="77.20" height="13.00" fill="#fff" stroke="#6e6e6e" stroke-width="1.3"/>
<path d="M45.40 160.00h26" stroke="#0072BD" stroke-width="1" fill="none"/>
<text x="74.10" y="162.80" class="lg">ResDnCNN</text>
<text x="35.20" y="140.90" class="pl" text-anchor="middle">(c)</text>
<clipPath id="c11"><rect x="323.80" y="147.00" width="218.70" height="93.80"/></clipPath>
<g clip-path="url(#c11)"><polyline points="323.8,227.5 323.9,224.8 323.9,225.6 324.0,222.8 324.1,222.8 324.1,220.4 324.2,220.7 324.3,218.1 324.3,218.6 324.3,217.0 324.5,217.2 324.5,215.7 324.6,215.9 324.7,213.9 324.7,215.0 324.8,213.0 324.8,213.6 324.9,212.3 325.0,213.0 325.0,211.2 325.1,209.8 325.1,212.8 325.2,211.8 325.3,210.2 325.3,211.7 325.4,209.3 325.5,210.2 325.5,209.1 325.6,207.6 325.7,209.9 325.7,209.8 325.8,208.4 325.8,210.1 325.9,207.0 326.0,209.1 326.0,208.1 326.1,208.7 326.2,207.6 326.2,207.4 326.3,209.6 326.3,209.1 326.4,207.3 326.5,207.6 326.5,208.7 326.6,208.7 326.7,207.1 326.7,207.0 326.8,208.8 326.8,208.7 326.8,206.8 327.0,206.4 327.0,208.0 327.1,205.7 327.1,208.0 327.2,206.9 327.3,208.1 327.3,209.0 327.4,207.0 327.5,207.0 327.5,207.7 327.6,207.2 327.7,209.7 327.7,207.5 327.8,208.7 327.8,206.7 327.9,208.7 328.0,207.2 328.0,209.3 328.1,209.6 328.2,206.9 328.2,209.3 328.3,207.7 328.3,209.3 328.4,206.6 328.5,221.7 328.5,174.2 328.6,175.4 328.7,180.2 328.7,178.6 328.7,182.6 328.8,182.3 328.9,184.7 328.9,184.7 329.0,187.5 329.1,186.3 329.2,187.6 329.3,229.3 329.3,173.8 329.4,174.7 329.4,179.0 329.5,178.0 329.5,181.1 329.6,181.0 329.6,182.5 329.7,182.7 329.8,184.1 329.8,183.1 329.9,185.7 330.0,184.9 330.0,187.1 330.1,188.4 330.1,185.6 330.2,188.2 330.2,186.6 330.4,186.6 330.4,190.0 330.5,188.1 330.5,189.4 330.6,187.7 330.6,190.1 330.7,188.9 330.8,190.5 330.9,190.6 330.9,189.1 330.9,188.4 331.0,190.5 331.1,188.9 331.2,191.5 331.2,189.3 331.3,190.7 331.3,189.6 331.4,190.8 331.5,227.6 331.5,176.4 331.6,179.1 331.7,180.7 331.7,180.6 331.8,183.3 331.9,184.5 331.9,182.2 331.9,184.1 332.0,187.1 332.1,188.1 332.1,186.0 332.2,186.9 332.2,187.5 332.3,187.3 332.3,188.5 332.5,188.4 332.5,191.3 332.6,189.4 332.6,190.1 332.7,190.9 332.7,188.8 332.8,189.5 332.9,191.3 333.0,190.4 333.1,192.2 333.1,221.1 333.1,175.3 333.2,176.6 333.3,180.7 333.3,180.1 333.4,182.3 333.5,181.7 333.5,184.3 333.6,184.5 333.7,186.7 333.7,185.5 333.7,188.3 333.9,187.0 333.9,188.8 333.9,188.4 334.0,189.8 334.1,189.3 334.1,190.7 334.2,191.2 334.3,189.8 334.3,190.2 334.4,191.2 334.4,192.4 334.5,191.1 334.6,192.2 334.6,190.8 334.8,192.5 334.8,191.0 334.9,192.7 334.9,190.7 334.9,192.7 335.0,191.4 335.1,192.0 335.2,193.1 335.3,226.8 335.3,176.5 335.3,177.3 335.4,180.3 335.4,180.1 335.5,183.7 335.6,183.3 335.7,186.3 335.7,184.6 335.8,187.2 335.8,186.4 335.9,189.4 336.0,188.6 336.0,189.8 336.1,189.4 336.1,191.5 336.2,189.2 336.3,191.1 336.3,192.7 336.4,190.5 336.5,190.3 336.5,193.5 336.6,226.5 336.6,174.5 336.7,176.1 336.8,178.9 336.8,179.4 336.9,182.6 337.0,182.4 337.0,184.5 337.1,184.5 337.1,187.5 337.3,186.5 337.3,189.1 337.3,224.1 337.4,175.2 337.4,179.4 337.5,182.3 337.6,182.2 337.7,184.3 337.7,184.3 337.8,186.9 337.8,186.4 337.9,188.9 337.9,187.4 338.0,189.8 338.1,188.3 338.2,191.3 338.3,227.0 338.3,176.8 338.3,177.5 338.4,181.1 338.5,180.9 338.5,183.3 338.6,183.3 338.7,186.9 338.7,186.3 338.8,188.8 338.8,189.6 338.9,189.0 339.0,189.8 339.0,191.5 339.1,190.9 339.2,191.9 339.2,191.6 339.3,193.0 339.3,192.9 339.4,192.0 339.5,194.6 339.5,192.0 339.6,195.1 339.7,192.6 339.7,193.8 339.8,194.9 339.9,195.3 339.9,194.2 340.0,194.1 340.0,195.4 340.1,225.4 340.1,179.2 340.2,180.9 340.2,184.1 340.3,184.4 340.4,187.6 340.5,223.9 340.5,171.8 340.6,173.2 340.6,177.4 340.7,176.6 340.8,181.7 340.8,182.4 340.9,185.5 340.9,185.0 341.0,187.8 341.1,187.4 341.2,191.1 341.2,188.9 341.3,191.4 341.3,191.3 341.4,192.3 341.4,224.8 341.5,179.1 341.6,180.4 341.7,183.9 341.7,183.8 341.8,187.7 341.8,186.0 341.9,189.2 342.0,188.0 342.0,190.5 342.1,190.3 342.1,192.8 342.2,191.5 342.3,193.5 342.3,192.1 342.4,194.1 342.4,194.5 342.5,193.3 342.6,195.5 342.6,194.3 342.7,196.6 342.8,194.9 342.9,196.5 342.9,194.6 343.0,195.4 343.0,196.2 343.1,195.9 343.2,198.1 343.2,196.1 343.3,198.0 343.4,198.1 343.4,195.1 343.4,198.4 343.5,195.7 343.6,195.7 343.6,198.0 343.7,197.6 343.8,196.3 343.8,196.6 343.8,198.2 343.9,197.8 344.0,196.7 344.1,195.7 344.2,198.3 344.2,196.4 344.2,198.3 344.3,198.6 344.4,196.8 344.4,199.0 344.5,197.6 344.6,198.8 344.6,197.6 344.7,198.9 344.8,196.6 344.9,198.8 344.9,197.1 344.9,196.2 345.0,198.5 345.1,199.0 345.2,197.3 345.2,197.0 345.3,199.8 345.4,199.9 345.4,198.1 345.5,198.5 345.5,199.6 345.6,198.0 345.7,199.4 345.7,199.4 345.7,230.7 345.8,228.4 345.9,223.6 346.0,223.7 346.0,220.5 346.1,219.9 346.2,215.9 346.2,216.6 346.3,214.9 346.3,213.2 346.3,214.5 346.5,212.5 346.5,211.6 346.6,212.6 346.6,210.3 346.7,211.3 346.7,209.3 346.9,210.3 346.9,208.1 346.9,210.0 347.0,207.0 347.2,206.9 347.2,208.6 347.2,209.0 347.3,208.0 347.4,206.3 347.4,208.7 347.4,207.4 347.6,202.9 347.6,226.5 347.6,178.7 347.7,181.1 347.8,184.1 347.8,184.2 347.9,187.3 348.0,187.5 348.1,184.8 348.1,186.4 348.1,188.8 348.2,187.1 348.3,188.6 348.3,189.3 348.4,187.5 348.5,222.8 348.5,181.3 348.6,182.0 348.6,182.7 348.7,182.5 348.8,184.5 348.8,183.8 348.9,186.2 349.0,224.4 349.0,178.7 349.1,179.7 349.1,182.1 349.2,181.4 349.3,184.9 349.4,183.9 349.4,186.5 349.5,184.8 349.5,186.1 349.6,185.7 349.6,187.6 349.7,185.7 349.8,188.1 349.8,188.7 349.9,187.1 350.0,189.3 350.0,187.5 350.1,189.7 350.2,187.5 350.2,190.7 350.3,187.8 350.4,190.4 350.4,188.9 350.5,190.1 350.5,188.5 350.6,223.2 350.7,180.3 350.7,182.8 350.7,181.8 350.9,182.1 350.9,185.3 351.0,184.8 351.1,185.9 351.1,184.9 351.2,188.0 351.2,185.9 351.3,188.0 351.3,188.5 351.3,186.2 351.5,187.3 351.6,189.4 351.6,190.3 351.6,187.8 351.7,188.5 351.8,190.4 351.8,191.3 351.8,188.8 352.0,190.9 352.0,189.1 352.1,191.3 352.1,188.5 352.2,188.9 352.3,192.1 352.3,191.5 352.4,188.5 352.4,191.9 352.5,189.2 352.6,189.7 352.7,191.4 352.7,192.9 352.8,189.8 352.8,189.6 352.9,193.1 353.0,192.2 353.0,190.5 353.1,191.3 353.1,189.8 353.3,226.9 353.3,181.4 353.4,182.3 353.4,185.5 353.5,183.9 353.5,187.4 353.6,184.1 353.7,186.1 353.8,186.4 353.8,188.8 353.8,187.9 353.9,189.3 354.0,187.8 354.0,190.1 354.1,190.4 354.2,188.9 354.3,191.1 354.3,189.7 354.4,190.5 354.4,191.6 354.5,191.7 354.5,190.0 354.6,192.6 354.6,190.6 354.8,222.2 354.8,180.6 354.8,181.6 354.9,182.9 354.9,183.6 355.1,185.9 355.1,186.7 355.2,185.4 355.2,186.7 355.2,187.9 355.3,187.7 355.4,189.7 355.5,190.1 355.5,188.3 355.6,190.7 355.7,189.3 355.7,226.1 355.7,179.7 355.8,181.9 355.9,184.8 355.9,184.6 356.1,186.4 356.1,188.8 356.1,186.2 356.2,187.1 356.3,189.0 356.4,187.6 356.4,190.7 356.5,189.5 356.5,191.2 356.6,226.1 356.6,181.0 356.7,185.9 356.7,183.9 356.9,184.9 356.9,188.3 357.0,188.0 357.0,186.7 357.1,187.7 357.2,189.6 357.2,189.9 357.3,191.1 357.3,189.3 357.4,191.7 357.5,192.5 357.5,191.2 357.6,193.4 357.6,191.2 357.8,192.7 357.8,191.9 357.9,194.4 357.9,191.7 357.9,190.7 358.0,193.2 358.1,192.1 358.2,194.8 358.3,222.9 358.3,179.5 358.4,180.8 358.4,183.8 358.5,183.1 358.6,185.4 358.6,184.1 358.7,187.5 358.7,186.4 358.8,188.5 358.8,188.1 358.9,190.6 359.0,188.8 359.1,191.6 359.1,191.9 359.1,190.3 359.3,193.4 359.3,192.0 359.3,191.5 359.4,193.8 359.5,193.7 359.5,191.6 359.6,194.2 359.7,192.0 359.7,191.9 359.8,194.1 359.9,194.8 359.9,193.1 360.0,193.5 360.0,194.9 360.1,193.4 360.2,196.4 360.2,194.8 360.3,194.0 360.3,193.2 360.4,195.3 360.5,221.8 360.5,181.5 360.6,183.0 360.7,186.2 360.7,186.8 360.8,188.6 360.9,187.9 360.9,189.7 361.0,189.3 361.0,190.7 361.1,189.1 361.2,192.3 361.2,191.3 361.2,193.2 361.4,191.6 361.4,193.1 361.5,195.0 361.5,192.6 361.6,193.5 361.7,195.0 361.7,193.1 361.7,195.2 361.9,193.6 361.9,194.5 361.9,193.8 362.0,195.8 362.1,194.3 362.2,196.0 362.3,194.5 362.3,196.8 362.4,195.2 362.4,196.9 362.5,194.5 362.5,196.4 362.7,227.0 362.7,182.1 362.7,183.0 362.8,185.0 362.8,184.4 362.9,187.6 363.0,187.0 363.0,189.6 363.1,188.8 363.2,191.6 363.3,191.5 363.3,192.8 363.4,193.2 363.4,190.9 363.5,192.7 363.6,195.4 363.6,192.2 363.6,194.5 363.7,193.3 363.8,195.3 363.9,196.0 363.9,194.8 364.0,194.3 364.0,196.4 364.1,195.9 364.2,197.1 364.2,197.2 364.3,195.0 364.4,195.8 364.4,197.6 364.5,195.6 364.5,197.8 364.6,198.0 364.7,195.7 364.7,195.9 364.8,197.5 364.8,195.2 364.9,197.8 365.0,196.4 365.0,198.1 365.1,197.5 365.2,195.5 365.3,198.6 365.3,196.8 365.4,196.4 365.4,199.1 365.5,196.8 365.5,198.9 365.6,197.9 365.7,196.5 365.7,199.3 365.8,196.0 365.8,198.6 365.9,196.8 366.0,199.6 366.1,196.3 366.1,196.8 366.2,199.6 366.2,198.0 366.3,199.6 366.4,199.3 366.4,196.7 366.5,199.3 366.6,197.8 366.6,199.0 366.6,197.6 366.7,197.1 366.8,199.0 366.8,197.6 366.9,199.7 366.9,199.4 367.0,197.5 367.1,198.3 367.1,197.2 367.2,198.8 367.2,197.0 367.3,198.3 367.4,231.3 367.5,230.2 367.6,226.7 367.6,226.9 367.6,223.8 367.7,223.4 367.8,220.7 367.8,220.9 367.9,218.0 368.0,218.9 368.1,217.1 368.1,216.7 368.1,215.1 368.2,215.5 368.3,213.3 368.3,216.4 368.4,212.0 368.5,212.5 368.5,211.8 368.6,212.3 368.7,209.5 368.7,213.6 368.8,209.6 368.8,209.9 368.9,208.7 369.0,209.9 369.0,208.5 369.1,209.7 369.2,207.2 369.2,207.1 369.2,208.4 369.3,207.4 369.4,208.2 369.5,207.3 369.6,208.7 369.6,207.6 369.7,206.1 369.7,205.6 369.8,207.6 369.8,207.0 369.9,206.0 370.0,207.2 370.0,204.6 370.1,206.9 370.2,204.6 370.2,204.8 370.3,206.2 370.4,205.3 370.4,207.5 370.4,205.2 370.5,207.2 370.6,207.3 370.6,205.2 370.7,205.3 370.7,206.4 370.9,204.7 370.9,207.0 371.0,206.5 371.1,204.7 371.1,207.4 371.1,205.9 371.2,205.5 371.3,207.1 371.4,206.7 371.4,205.7 371.5,207.5 371.5,206.1 371.6,206.0 371.7,206.9 371.7,207.5 371.8,206.1 371.8,206.8 371.9,205.3 372.0,207.3 372.0,206.5 372.1,204.7 372.1,207.1 372.3,201.8 372.3,221.8 372.3,176.7 372.4,180.2 372.5,180.7 372.5,183.9 372.6,182.3 372.7,185.3 372.7,187.5 372.8,185.7 372.8,186.9 372.9,188.4 372.9,187.2 373.0,189.5 373.1,231.0 373.1,174.9 373.2,175.3 373.3,179.9 373.3,180.6 373.4,181.7 373.5,181.6 373.5,184.5 373.6,184.1 373.7,186.1 373.7,185.9 373.8,187.0 373.8,185.7 373.9,188.5 373.9,186.9 374.0,188.4 374.1,189.9 374.1,187.3 374.2,188.6 374.3,190.1 374.3,188.7 374.3,191.1 374.5,188.9 374.5,191.8 374.6,192.0 374.6,190.5 374.7,191.7 374.8,190.4 374.9,192.0 374.9,190.7 375.0,191.6 375.1,190.2 375.1,192.5 375.2,190.3 375.2,190.6 375.3,193.3 375.4,225.0 375.4,171.9 375.5,172.2 375.6,175.4 375.6,176.4 375.7,180.0 375.7,180.4 375.8,183.6 375.9,223.9 375.9,174.5 376.0,175.1 376.0,179.1 376.1,178.7 376.2,181.3 376.2,181.7 376.3,184.8 376.3,183.0 376.4,186.3 376.5,185.3 376.5,186.9 376.6,186.9 376.7,188.2 376.7,190.3 376.8,188.3 376.9,190.5 376.9,188.0 376.9,192.5 377.0,190.2 377.1,192.6 377.1,189.0 377.2,190.3 377.3,192.2 377.3,190.8 377.4,192.9 377.4,192.6 377.5,190.9 377.7,226.5 377.7,175.7 377.7,177.7 377.8,179.5 377.8,178.8 377.9,182.3 378.0,186.0 378.1,183.0 378.1,224.7 378.2,172.1 378.2,175.2 378.3,177.3 378.3,178.7 378.4,181.2 378.5,181.7 378.6,183.9 378.6,184.1 378.7,185.9 378.7,186.8 378.8,188.2 378.8,188.0 378.9,189.3 379.0,223.5 379.1,173.8 379.1,173.8 379.2,176.4 379.2,177.7 379.3,181.0 379.3,181.1 379.4,184.3 379.5,183.6 379.5,186.8 379.6,186.5 379.7,188.5 379.7,187.5 379.8,189.4 379.9,222.0 379.9,173.7 380.0,175.1 380.0,178.9 380.1,179.5 380.2,182.4 380.2,182.9 380.3,185.0 380.4,185.4 380.4,187.8 380.5,187.1 380.6,189.2 380.6,218.6 380.6,178.8 380.7,180.5 380.8,183.4 380.8,183.1 380.9,185.7 381.0,187.3 381.1,185.6 381.1,187.8 381.2,191.5 381.3,189.4 381.3,224.8 381.4,179.0 381.4,182.3 381.5,182.3 381.5,184.6 381.6,184.0 381.6,187.5 381.7,187.1 381.8,189.2 381.8,188.6 381.9,190.5 382.0,189.2 382.0,192.1 382.1,192.3 382.1,190.6 382.2,191.8 382.3,194.0 382.3,192.9 382.4,194.5 382.5,192.5 382.5,194.8 382.6,194.2 382.6,195.4 382.7,194.2 382.7,194.9 382.9,227.2 382.9,176.9 383.0,178.7 383.0,181.4 383.1,181.4 383.2,183.9 383.2,184.2 383.3,188.1 383.4,188.7 383.4,186.6 383.5,188.8 383.5,189.8 383.6,189.9 383.7,191.8 383.8,226.1 383.8,180.2 383.9,181.4 383.9,184.7 384.0,184.5 384.1,187.2 384.1,185.8 384.1,188.0 384.2,188.9 384.2,190.6 384.4,190.5 384.4,192.5 384.5,190.6 384.5,193.5 384.6,194.8 384.7,191.2 384.8,193.5 384.8,194.8 384.8,194.0 384.9,195.3 385.0,195.6 385.1,193.6 385.1,197.5 385.1,194.6 385.2,196.4 385.3,195.2 385.4,194.9 385.4,197.5 385.5,198.1 385.5,194.6 385.6,228.0 385.6,177.7 385.7,181.6 385.8,184.5 385.8,183.2 385.9,185.8 386.0,187.6 386.1,189.6 386.1,189.5 386.2,191.2 386.2,191.1 386.3,192.7 386.4,191.9 386.4,193.8 386.5,194.8 386.5,192.6 386.6,195.5 386.7,194.3 386.7,193.8 386.8,196.3 386.8,195.2 386.9,196.4 387.0,198.1 387.1,195.2 387.1,197.4 387.1,196.3 387.2,197.4 387.2,195.7 387.4,199.5 387.4,195.8 387.5,198.0 387.6,196.8 387.6,196.3 387.6,198.8 387.7,196.7 387.8,197.9 387.8,196.2 387.9,198.8 388.0,196.8 388.0,198.2 388.1,197.2 388.2,199.6 388.2,197.5 388.3,198.9 388.4,199.1 388.4,198.1 388.5,198.5 388.6,197.4 388.6,199.5 388.6,197.0 388.8,197.8 388.8,199.6 388.9,198.1 388.9,199.6 389.0,199.5 389.0,197.8 389.1,200.4 389.1,198.0 389.2,197.5 389.2,199.5 389.3,199.5 389.4,197.5 389.5,199.0 389.6,231.6 389.6,231.2 389.7,225.9 389.7,225.1 389.8,223.3 389.8,222.2 389.9,218.8 390.0,219.0 390.0,216.4 390.1,216.5 390.1,214.4 390.2,213.5 390.3,214.9 390.4,213.2 390.4,211.8 390.5,210.8 390.5,212.0 390.6,212.4 390.6,209.5 390.7,211.1 390.8,208.7 390.9,209.9 390.9,207.8 391.0,210.4 391.1,208.4 391.1,210.2 391.2,208.4 391.3,209.0 391.3,205.1 391.4,202.4 391.4,224.3 391.5,179.4 391.6,181.5 391.6,182.8 391.7,185.1 391.7,184.7 391.8,188.1 391.9,185.9 391.9,188.3 392.0,189.3 392.0,187.7 392.1,228.2 392.1,175.8 392.2,178.2 392.3,181.8 392.3,180.9 392.4,184.6 392.5,182.9 392.5,185.3 392.6,184.1 392.7,186.9 392.7,185.6 392.8,224.2 392.8,177.7 392.9,180.7 393.0,180.2 393.0,182.4 393.1,181.3 393.2,185.2 393.2,183.5 393.3,185.7 393.3,184.6 393.4,187.4 393.5,187.1 393.5,188.6 393.6,187.0 393.7,188.6 393.7,188.4 393.8,189.7 393.8,188.7 393.9,190.0 394.0,189.9 394.1,188.7 394.2,189.7 394.2,188.6 394.2,191.4 394.3,190.0 394.3,191.3 394.4,189.1 394.5,226.4 394.5,175.7 394.6,179.9 394.7,181.7 394.7,180.4 394.8,184.0 394.9,221.9 394.9,180.6 395.0,178.8 395.1,181.5 395.1,181.4 395.1,184.3 395.2,183.3 395.3,185.7 395.3,222.6 395.4,177.3 395.5,178.9 395.5,180.8 395.6,181.8 395.6,183.8 395.8,184.7 395.8,185.9 395.9,184.8 395.9,187.9 396.0,187.2 396.0,188.0 396.1,189.6 396.2,187.9 396.2,187.0 396.3,190.6 396.4,188.9 396.4,190.3 396.5,189.5 396.5,190.5 396.7,221.4 396.7,177.4 396.7,178.6 396.8,181.3 396.9,181.5 396.9,182.5 397.0,183.5 397.1,185.7 397.2,184.2 397.2,187.5 397.2,187.0 397.3,188.5 397.3,187.4 397.4,189.7 397.5,188.4 397.5,190.0 397.6,188.3 397.6,190.9 397.7,189.9 397.8,190.9 397.8,190.9 397.9,192.1 398.0,190.7 398.0,193.1 398.1,191.0 398.2,192.9 398.2,191.1 398.3,194.3 398.4,194.1 398.4,191.1 398.5,191.9 398.6,194.4 398.6,191.4 398.6,193.3 398.7,192.0 398.8,194.2 398.9,219.0 398.9,181.6 399.0,180.9 399.1,182.8 399.1,183.4 399.2,186.3 399.2,185.9 399.3,188.5 399.4,186.2 399.4,189.6 399.5,188.3 399.5,190.0 399.6,189.3 399.7,191.7 399.8,189.5 399.8,191.5 399.8,223.5 399.9,176.1 400.0,177.6 400.1,182.2 400.1,181.1 400.2,184.1 400.2,183.4 400.3,186.3 400.4,186.0 400.4,189.3 400.5,186.9 400.5,190.4 400.6,188.5 400.7,190.5 400.8,190.4 400.8,192.2 400.9,191.7 400.9,190.0 401.0,193.4 401.0,190.5 401.1,193.2 401.2,191.4 401.2,193.9 401.3,192.7 401.4,220.2 401.4,177.8 401.5,178.2 401.5,182.6 401.6,181.9 401.7,185.1 401.7,184.2 401.8,186.0 401.9,187.0 401.9,188.4 402.0,187.7 402.0,190.2 402.1,189.3 402.2,191.1 402.2,193.6 402.3,191.2 402.3,190.9 402.4,192.5 402.5,191.4 402.6,194.1 402.6,192.7 402.7,193.3 402.8,194.2 402.8,191.7 402.8,193.5 402.9,194.7 403.0,223.7 403.0,180.6 403.1,181.2 403.2,186.4 403.2,183.8 403.3,187.4 403.4,186.2 403.4,189.2 403.5,188.6 403.5,190.4 403.6,189.9 403.6,191.5 403.7,190.5 403.8,193.3 403.8,191.3 403.9,193.9 404.0,194.6 404.1,192.7 404.1,193.4 404.1,194.2 404.2,195.1 404.3,193.6 404.4,196.4 404.4,193.5 404.5,195.3 404.5,194.1 404.6,194.8 404.7,193.9 404.7,196.2 404.7,195.1 404.9,222.4 404.9,183.2 405.0,183.7 405.0,186.0 405.1,186.0 405.2,188.9 405.3,190.4 405.3,187.8 405.3,190.1 405.4,192.2 405.5,192.5 405.5,191.8 405.6,192.5 405.7,193.6 405.7,193.0 405.8,195.1 405.9,195.0 405.9,193.4 406.0,195.7 406.1,194.1 406.1,193.1 406.2,195.9 406.3,197.2 406.3,194.9 406.4,225.9 406.4,182.2 406.5,182.8 406.6,186.6 406.6,187.1 406.7,187.7 406.7,189.1 406.8,191.2 406.8,189.3 406.9,191.6 407.0,191.2 407.1,193.4 407.1,192.2 407.2,194.1 407.3,192.9 407.3,195.1 407.4,195.2 407.4,193.5 407.5,194.0 407.5,196.6 407.7,196.5 407.7,194.3 407.8,225.8 407.8,183.4 407.8,183.7 407.9,186.6 408.0,185.9 408.1,189.0 408.2,190.6 408.2,189.0 408.2,190.1 408.3,192.2 408.4,192.0 408.4,193.3 408.5,191.5 408.5,193.7 408.6,192.9 408.7,195.6 408.7,197.0 408.8,195.3 408.9,194.8 408.9,196.0 409.0,195.7 409.1,197.6 409.1,197.1 409.2,196.1 409.2,197.8 409.3,196.6 409.3,198.1 409.4,196.6 409.5,196.6 409.6,199.2 409.6,199.5 409.6,196.8 409.7,197.7 409.8,197.1 409.9,199.0 409.9,196.4 410.0,196.9 410.1,198.6 410.1,196.2 410.1,198.5 410.2,199.1 410.3,197.8 410.4,196.8 410.4,199.3 410.5,197.8 410.5,198.8 410.6,199.6 410.7,197.1 410.8,199.4 410.8,197.4 410.9,199.0 411.0,197.8 411.0,199.5 411.0,198.0 411.1,198.1 411.2,199.7 411.3,197.8 411.3,199.4 411.3,199.8 411.4,197.5 411.5,198.0 411.6,231.4 411.6,231.3 411.7,229.0 411.7,229.0 411.8,225.0 411.9,225.8 411.9,222.7 412.0,223.4 412.1,220.7 412.1,221.5 412.2,218.8 412.2,218.7 412.3,216.2 412.4,216.8 412.4,215.9 412.5,214.3 412.5,216.7 412.6,128.2 412.6,237.0 412.7,212.6 412.8,214.3 412.8,211.5 412.9,213.2 413.0,211.8 413.1,210.8 413.1,211.4 413.2,209.1 413.2,210.9 413.3,208.9 413.4,209.0 413.4,210.4 413.5,209.1 413.6,210.5 413.6,210.2 413.6,208.0 413.8,208.9 413.8,207.1 413.8,209.5 413.9,206.9 414.0,208.3 414.1,206.7 414.1,206.6 414.2,208.9 414.2,208.4 414.3,207.4 414.3,209.4 414.4,206.8 414.5,208.7 414.5,206.9 414.6,207.8 414.7,208.5 414.7,207.0 414.8,208.6 414.9,208.8 415.0,207.7 415.0,206.7 415.1,207.9 415.1,208.5 415.2,206.5 415.2,206.7 415.2,208.5 415.4,208.6 415.4,206.4 415.5,207.1 415.6,208.9 415.6,207.0 415.7,209.1 415.7,208.7 415.8,207.0 415.9,207.7 415.9,206.8 416.0,206.8 416.1,208.9 416.1,207.6 416.1,208.6 416.2,207.5 416.3,208.6 416.4,208.5 416.4,205.5 416.5,222.8 416.5,173.1 416.6,175.2 416.7,180.8 416.7,180.9 416.8,183.7 416.8,182.3 416.9,185.6 417.0,185.7 417.1,228.1 417.1,172.5 417.2,177.8 417.2,177.8 417.3,180.9 417.3,180.6 417.4,182.7 417.5,183.0 417.6,185.2 417.6,185.0 417.7,186.6 417.7,184.7 417.8,187.6 417.8,186.7 418.0,223.9 418.0,172.2 418.1,176.5 418.1,174.5 418.2,179.5 418.2,179.0 418.3,181.2 418.3,225.6 418.4,175.2 418.5,177.6 418.5,180.0 418.6,180.3 418.7,182.7 418.7,182.1 418.8,185.2 418.8,184.3 418.9,186.3 419.0,185.7 419.1,187.8 419.1,186.2 419.2,188.3 419.2,187.3 419.3,189.8 419.4,187.6 419.4,190.8 419.5,187.5 419.5,190.4 419.6,189.9 419.7,190.6 419.7,191.0 419.8,189.1 419.9,192.5 419.9,189.6 420.0,190.0 420.0,192.5 420.2,224.1 420.2,175.7 420.2,176.9 420.3,179.1 420.3,179.3 420.4,181.2 420.5,182.1 420.6,184.9 420.6,184.6 420.7,186.8 420.7,185.4 420.8,188.1 420.8,225.5 420.9,173.5 421.0,176.5 421.1,180.7 421.1,180.4 421.2,181.4 421.2,182.6 421.3,184.3 421.3,184.4 421.4,187.0 421.5,188.9 421.5,186.6 421.6,190.2 421.7,187.8 421.7,229.4 421.8,172.3 421.9,175.3 422.0,177.7 422.0,179.9 422.1,181.7 422.1,180.7 422.2,183.2 422.2,183.3 422.3,186.9 422.4,185.9 422.5,188.3 422.5,189.4 422.5,186.7 422.6,188.6 422.7,190.6 422.8,189.4 422.8,191.6 422.8,189.1 422.9,192.1 423.0,192.4 423.0,190.1 423.1,192.8 423.2,191.2 423.2,191.4 423.3,193.0 423.4,192.2 423.4,193.2 423.5,191.9 423.5,194.1 423.6,192.0 423.6,194.5 423.8,194.5 423.8,191.9 423.9,194.6 423.9,192.9 424.0,192.6 424.1,193.9 424.1,195.4 424.1,193.4 424.2,194.4 424.2,192.7 424.4,227.7 424.4,173.4 424.5,177.3 424.6,181.0 424.6,181.1 424.7,183.7 424.8,225.7 424.8,175.0 424.8,175.2 424.9,179.1 425.0,180.1 425.1,182.7 425.1,181.9 425.2,184.6 425.2,185.6 425.3,188.6 425.4,187.0 425.4,188.9 425.5,187.9 425.6,189.9 425.6,189.4 425.7,191.3 425.7,189.9 425.8,192.6 425.8,191.4 425.9,193.0 426.0,192.0 426.0,193.1 426.1,192.4 426.2,194.7 426.2,194.5 426.3,193.4 426.3,192.3 426.4,195.1 426.5,195.9 426.6,194.2 426.6,229.8 426.6,176.8 426.7,180.6 426.8,183.5 426.9,183.1 426.9,184.7 427.0,185.2 427.1,225.1 427.1,181.1 427.1,182.7 427.2,183.8 427.3,187.5 427.4,186.7 427.4,189.3 427.5,187.9 427.6,190.8 427.6,225.7 427.7,177.1 427.7,178.4 427.8,182.2 427.9,181.6 427.9,184.9 428.0,186.2 428.1,187.6 428.2,222.1 428.2,177.6 428.3,179.1 428.3,182.5 428.4,181.3 428.4,185.3 428.5,184.5 428.6,189.2 428.6,187.4 428.7,189.3 428.8,225.4 428.8,175.6 428.9,178.3 428.9,181.3 429.0,182.3 429.1,185.6 429.1,185.9 429.2,187.7 429.2,187.4 429.3,189.2 429.4,225.3 429.4,175.3 429.5,177.5 429.6,180.7 429.6,179.8 429.7,183.3 429.8,184.4 429.8,186.4 429.9,186.3 429.9,189.4 430.0,188.7 430.0,191.2 430.1,190.8 430.2,192.6 430.2,191.9 430.3,194.1 430.4,194.8 430.4,193.1 430.5,195.9 430.6,193.4 430.6,194.0 430.7,195.6 430.8,195.2 430.8,196.9 430.9,194.8 430.9,196.3 431.0,195.8 431.0,197.8 431.1,195.3 431.2,197.8 431.3,195.7 431.3,198.0 431.4,198.0 431.4,196.6 431.5,196.4 431.6,198.0 431.7,196.2 431.7,199.0 431.8,196.5 431.8,198.2 431.9,199.1 431.9,196.3 432.0,199.3 432.1,197.7 432.1,198.9 432.1,197.4 432.3,196.9 432.3,199.6 432.3,197.4 432.4,199.1 432.5,197.4 432.5,198.7 432.6,197.6 432.6,199.6 432.8,198.4 432.8,197.5 432.9,198.2 433.0,199.6 433.0,199.5 433.1,198.2 433.1,198.8 433.2,231.6 433.2,228.0 433.3,224.5 433.3,223.4 433.5,219.8 433.5,220.5 433.5,217.9 433.6,217.8 433.7,215.3 433.7,215.4 433.8,213.2 433.9,212.9 433.9,210.9 434.0,212.3 434.1,210.8 434.1,212.3 434.2,210.1 434.3,207.8 434.3,210.4 434.4,208.0 434.4,210.1 434.5,207.3 434.6,209.6 434.6,209.0 434.6,206.7 434.7,208.7 434.8,207.1 434.9,208.4 434.9,205.5 435.0,223.0 435.1,180.2 435.1,182.8 435.2,186.5 435.2,185.9 435.3,189.0 435.4,189.0 435.4,187.5 435.5,188.9 435.6,190.9 435.7,189.5 435.7,191.9 435.8,220.4 435.8,181.1 435.8,180.4 435.9,184.3 436.0,183.9 436.0,188.1 436.1,185.4 436.2,187.7 436.2,188.4 436.3,186.6 436.4,187.0 436.4,189.6 436.5,187.6 436.5,190.0 436.6,188.7 436.7,189.7 436.8,191.4 436.8,189.5 436.9,191.7 436.9,191.2 437.0,190.4 437.1,230.0 437.1,180.0 437.1,182.9 437.2,181.6 437.3,185.4 437.3,183.9 437.4,186.2 437.5,186.1 437.5,187.6 437.6,188.7 437.6,186.4 437.8,188.0 437.8,190.7 437.9,190.9 438.0,189.1 438.0,190.1 438.1,190.4 438.1,190.4 438.2,191.9 438.2,189.4 438.3,191.7 438.4,190.8 438.4,191.9 438.5,192.4 438.5,191.4 438.6,191.3 438.7,193.3 438.7,191.5 438.8,193.2 438.9,194.6 438.9,191.7 439.0,191.2 439.1,193.6 439.1,191.7 439.2,225.1 439.2,180.2 439.3,182.0 439.4,183.7 439.4,182.7 439.5,183.5 439.6,186.5 439.7,187.0 439.7,189.0 439.8,186.8 439.8,188.8 439.9,188.6 439.9,190.8 440.0,189.2 440.1,191.8 440.1,189.9 440.2,190.7 440.2,190.7 440.3,191.7 440.3,192.7 440.4,190.9 440.5,192.8 440.5,191.1 440.6,193.6 440.6,192.0 440.7,191.4 440.8,193.1 440.9,192.1 440.9,193.7 441.1,193.5 441.1,191.7 441.1,194.3 441.2,192.8 441.2,225.0 441.3,182.8 441.4,187.0 441.4,185.5 441.5,185.9 441.6,188.2 441.6,187.2 441.7,189.9 441.8,189.8 441.8,191.6 441.9,189.4 442.0,192.0 442.0,190.2 442.1,192.5 442.1,191.7 442.2,194.6 442.2,191.4 442.3,193.7 442.4,194.4 442.4,191.5 442.6,192.1 442.6,195.1 442.6,192.3 442.7,194.7 442.8,195.2 442.8,192.3 442.9,194.2 442.9,192.2 443.0,195.0 443.1,193.0 443.1,194.7 443.2,193.4 443.3,230.2 443.3,184.9 443.4,186.2 443.5,187.6 443.5,188.1 443.6,189.8 443.6,223.3 443.7,177.4 443.7,178.7 443.8,182.3 443.8,181.8 444.0,184.9 444.0,184.9 444.1,187.3 444.2,186.8 444.2,189.4 444.2,188.4 444.3,189.8 444.4,188.9 444.5,191.1 444.5,222.1 444.5,182.9 444.6,184.0 444.7,186.1 444.7,185.2 444.7,187.6 444.9,187.8 445.0,191.2 445.0,189.4 445.1,190.8 445.2,192.1 445.2,191.0 445.3,192.6 445.3,191.3 445.4,191.8 445.5,194.0 445.6,194.4 445.6,192.6 445.7,193.8 445.7,192.4 445.7,194.7 445.8,193.3 445.9,196.1 446.0,193.1 446.0,194.7 446.0,193.8 446.1,196.0 446.2,194.2 446.3,195.7 446.3,193.6 446.4,195.0 446.4,196.4 446.6,194.6 446.6,195.6 446.6,223.7 446.6,182.5 446.8,183.0 446.8,187.5 446.9,184.8 446.9,189.4 447.0,189.3 447.1,187.9 447.1,188.7 447.2,191.7 447.3,190.5 447.3,230.7 447.3,180.7 447.5,184.1 447.5,184.4 447.6,187.0 447.6,186.2 447.6,188.9 447.8,226.0 447.8,181.7 447.9,183.3 448.0,185.5 448.0,185.1 448.1,188.8 448.1,189.0 448.1,186.8 448.2,189.2 448.3,191.9 448.4,190.2 448.5,192.3 448.5,191.9 448.6,194.2 448.6,192.3 448.7,194.3 448.8,192.3 448.8,194.7 448.9,193.2 449.0,195.4 449.0,195.9 449.0,194.4 449.2,194.3 449.2,195.6 449.2,194.7 449.3,196.4 449.4,224.6 449.4,182.8 449.5,185.8 449.6,187.0 449.6,187.1 449.7,189.6 449.8,189.2 449.8,191.0 449.9,191.0 450.0,225.1 450.0,182.5 450.1,186.1 450.1,186.0 450.2,188.3 450.3,188.5 450.3,190.9 450.4,223.4 450.4,179.3 450.5,180.8 450.5,184.0 450.6,184.5 450.7,186.6 450.7,187.3 450.8,189.8 450.9,188.7 451.0,192.4 451.0,223.9 451.1,180.6 451.1,181.5 451.2,185.6 451.3,185.3 451.3,188.0 451.4,188.2 451.4,189.9 451.5,189.6 451.6,192.1 451.6,191.4 451.7,193.2 451.8,192.3 451.8,193.5 451.8,193.1 451.9,195.1 452.0,196.0 452.0,193.6 452.1,194.4 452.2,197.6 452.2,196.4 452.3,195.0 452.4,197.0 452.4,195.4 452.5,195.2 452.5,197.8 452.6,195.7 452.7,197.6 452.8,195.7 452.8,198.5 452.9,198.7 452.9,196.5 453.0,197.6 453.1,198.4 453.1,195.7 453.2,198.3 453.2,196.8 453.3,198.5 453.4,197.1 453.4,199.3 453.5,197.6 453.6,198.7 453.7,196.2 453.7,199.4 453.8,199.3 453.8,197.1 453.9,198.8 453.9,196.8 454.0,197.7 454.0,198.9 454.1,198.9 454.2,197.4 454.3,196.9 454.3,199.6 454.4,199.9 454.4,198.4 454.5,197.8 454.5,199.9 454.6,199.8 454.7,197.5 454.8,198.0 454.8,199.5 454.8,200.6 454.9,197.6 455.0,197.6 455.1,199.6 455.2,199.6 455.2,198.4 455.3,199.2 455.3,230.7 455.3,230.0 455.5,226.6 455.5,226.0 455.6,224.4 455.6,222.8 455.7,220.8 455.7,220.7 455.8,218.9 455.9,218.9 455.9,217.1 456.0,216.7 456.0,214.9 456.2,215.1 456.2,213.4 456.2,213.7 456.3,210.8 456.4,209.8 456.5,212.8 456.5,209.3 456.6,211.2 456.6,209.0 456.7,210.1 456.7,210.0 456.8,208.1 456.9,205.6 456.9,209.0 457.0,206.0 457.0,207.5 457.1,205.8 457.1,208.0 457.3,204.9 457.3,207.2 457.4,207.4 457.4,204.6 457.5,204.6 457.5,206.2 457.6,204.8 457.7,206.7 457.8,206.3 457.8,204.9 457.9,204.1 457.9,206.6 458.1,203.7 458.1,205.7 458.1,204.2 458.2,205.8 458.3,206.1 458.3,203.5 458.4,204.9 458.4,204.0 458.5,205.2 458.5,204.0 458.6,203.5 458.7,205.4 458.8,205.2 458.8,203.3 458.8,203.2 459.0,205.3 459.0,205.0 459.1,202.7 459.2,205.5 459.2,203.7 459.3,205.9 459.3,204.1 459.4,203.1 459.4,205.3 459.5,205.5 459.5,202.5 459.7,205.6 459.7,204.4 459.7,205.9 459.7,204.2 459.9,205.9 460.0,203.6 460.0,204.4 460.0,206.6 460.1,204.9 460.2,202.1 460.2,228.0 460.3,172.7 460.4,176.2 460.5,181.0 460.5,179.8 460.6,182.8 460.6,181.9 460.7,184.9 460.7,184.2 460.8,186.8 460.9,185.7 460.9,187.5 461.0,186.2 461.0,188.6 461.2,222.3 461.2,172.5 461.2,173.7 461.3,178.6 461.4,178.7 461.5,181.2 461.5,180.6 461.6,183.3 461.6,182.8 461.7,186.2 461.7,184.8 461.8,186.0 461.9,186.2 461.9,187.1 462.0,186.1 462.1,222.4 462.1,173.1 462.2,175.6 462.2,177.0 462.3,179.7 462.4,178.6 462.5,182.1 462.5,181.7 462.6,184.3 462.7,183.6 462.7,185.6 462.7,184.7 462.8,186.8 462.9,186.0 462.9,188.2 463.0,186.1 463.0,188.4 463.2,187.9 463.2,190.0 463.3,189.1 463.3,190.8 463.4,189.1 463.4,191.7 463.5,189.8 463.6,192.2 463.6,191.6 463.7,188.9 463.8,190.1 463.8,191.3 463.9,190.7 463.9,192.1 464.0,192.1 464.1,190.6 464.1,191.2 464.2,192.3 464.2,190.4 464.3,224.1 464.4,171.2 464.4,175.8 464.5,177.0 464.6,180.2 464.6,178.9 464.7,182.6 464.8,182.1 464.8,185.6 464.9,184.2 464.9,186.7 465.0,186.6 465.0,188.0 465.1,186.9 465.2,189.1 465.3,188.5 465.3,189.8 465.4,190.7 465.4,188.9 465.5,188.9 465.6,191.1 465.6,190.8 465.6,192.6 465.8,191.9 465.8,190.3 465.9,192.5 466.0,190.9 466.0,191.1 466.1,192.9 466.1,231.7 466.2,172.6 466.2,175.7 466.3,179.4 466.4,179.0 466.4,181.1 466.5,181.3 466.6,184.6 466.6,184.3 466.7,186.8 466.8,184.9 466.8,188.8 466.9,229.6 466.9,173.6 467.0,175.3 467.1,179.8 467.1,180.3 467.2,181.5 467.2,182.5 467.3,185.2 467.4,224.7 467.4,175.5 467.5,174.7 467.6,179.2 467.6,178.6 467.7,182.3 467.7,181.7 467.8,185.1 467.9,184.2 468.0,186.8 468.0,186.7 468.1,189.1 468.1,187.9 468.1,190.5 468.2,188.9 468.3,191.8 468.4,190.9 468.4,189.8 468.5,190.6 468.6,193.0 468.6,192.2 468.6,191.2 468.8,192.1 468.8,194.1 468.9,225.8 469.0,176.2 469.0,178.7 469.1,182.3 469.1,181.0 469.2,183.6 469.2,184.1 469.3,185.8 469.4,223.8 469.5,173.7 469.5,174.1 469.6,180.1 469.6,180.3 469.7,183.8 469.8,182.0 469.8,186.5 469.9,185.7 470.0,187.9 470.0,186.5 470.0,188.9 470.2,224.0 470.2,175.6 470.2,176.0 470.3,179.3 470.4,177.9 470.5,182.6 470.5,182.8 470.6,186.0 470.7,185.5 470.7,188.5 470.8,189.2 470.8,187.4 470.9,188.0 470.9,190.0 471.0,190.0 471.1,191.7 471.1,192.1 471.2,193.1 471.2,191.8 471.3,193.8 471.4,191.3 471.5,193.8 471.5,193.4 471.6,195.4 471.6,194.5 471.7,195.8 471.8,194.3 471.8,196.8 471.9,196.3 471.9,194.1 472.0,195.3 472.0,197.3 472.1,196.1 472.2,194.6 472.3,194.6 472.3,220.7 472.4,175.5 472.5,180.1 472.5,179.9 472.6,183.3 472.6,184.0 472.7,187.0 472.7,185.5 472.8,188.0 472.9,188.4 473.0,190.8 473.0,191.3 473.1,192.3 473.2,191.2 473.2,193.5 473.3,193.9 473.3,192.2 473.4,195.2 473.4,193.2 473.5,194.3 473.6,195.8 473.7,196.5 473.7,193.7 473.8,194.0 473.8,195.8 473.9,194.3 473.9,198.0 474.0,195.4 474.1,196.6 474.1,197.6 474.2,195.6 474.3,198.2 474.3,195.5 474.4,196.5 474.4,197.8 474.5,197.1 474.5,195.6 474.7,198.7 474.7,196.8 474.7,197.1 474.8,198.7 474.9,198.3 475.0,195.9 475.0,199.0 475.1,196.3 475.1,198.0 475.2,196.1 475.2,195.4 475.3,199.2 475.4,198.5 475.4,196.5 475.6,198.4 475.6,196.3 475.7,198.4 475.7,197.2 475.8,197.2 475.8,198.5 475.9,197.1 475.9,199.7 476.0,198.6 476.1,197.4 476.2,199.1 476.2,198.1 476.2,196.4 476.3,199.7 476.4,197.4 476.5,200.2 476.5,200.1 476.5,197.6 476.6,199.7 476.7,197.6 476.8,197.9 476.8,229.7 476.9,226.9 477.0,223.8 477.0,223.5 477.1,219.7 477.1,221.9 477.2,218.8 477.2,217.9 477.3,214.8 477.4,215.7 477.5,213.1 477.5,213.4 477.6,212.1 477.6,210.3 477.7,211.9 477.7,212.4 477.8,208.8 477.9,210.5 478.0,209.2 478.0,210.4 478.0,207.3 478.2,207.4 478.2,209.3 478.2,208.3 478.3,209.1 478.4,208.1 478.4,209.5 478.5,208.1 478.6,205.5 478.7,225.0 478.7,176.1 478.7,178.1 478.8,181.9 478.9,181.2 479.0,184.7 479.0,183.7 479.1,188.4 479.2,186.3 479.2,188.0 479.3,221.3 479.3,179.2 479.4,180.0 479.5,183.6 479.5,184.8 479.5,182.4 479.6,184.7 479.7,227.3 479.8,182.0 479.8,184.0 479.9,186.3 480.0,184.0 480.0,185.2 480.1,187.5 480.1,187.6 480.1,185.7 480.3,186.7 480.3,189.8 480.4,188.1 480.5,189.8 480.5,189.0 480.5,190.4 480.7,188.9 480.7,191.4 480.8,189.5 480.8,191.7 480.9,189.3 480.9,191.0 481.0,191.4 481.1,189.7 481.1,192.3 481.2,189.9 481.2,190.4 481.3,192.0 481.4,190.3 481.4,193.0 481.5,190.9 481.6,192.6 481.7,225.0 481.7,180.0 481.7,180.7 481.8,183.8 481.9,182.5 481.9,185.1 482.0,183.9 482.0,186.2 482.1,227.4 482.2,181.6 482.3,183.1 482.3,184.4 482.4,184.6 482.5,187.0 482.5,186.0 482.6,188.6 482.6,220.3 482.6,177.2 482.8,180.0 482.8,182.4 482.9,181.3 483.0,184.1 483.0,185.1 483.1,187.0 483.1,185.1 483.2,187.2 483.3,187.3 483.3,188.8 483.4,188.8 483.5,189.7 483.5,190.7 483.5,188.9 483.6,191.2 483.7,189.2 483.7,189.7 483.8,193.1 483.9,190.6 484.0,191.8 484.0,192.6 484.0,190.4 484.1,190.2 484.2,192.4 484.2,193.4 484.3,191.2 484.5,190.9 484.5,192.9 484.6,220.7 484.6,178.7 484.7,179.3 484.7,181.2 484.8,183.0 484.9,184.3 484.9,183.5 484.9,185.6 485.0,185.4 485.1,188.2 485.1,186.7 485.2,228.5 485.2,177.0 485.3,180.2 485.4,180.4 485.5,182.7 485.5,183.6 485.6,185.2 485.6,185.4 485.7,186.8 485.7,186.9 485.8,188.6 485.9,187.0 485.9,190.0 486.1,226.8 486.1,175.5 486.1,177.1 486.2,180.6 486.3,181.7 486.3,183.4 486.4,184.0 486.5,185.7 486.5,185.0 486.6,187.6 486.6,189.0 486.7,186.6 486.8,188.8 486.8,189.8 487.0,224.7 487.0,181.6 487.0,183.0 487.1,186.0 487.2,183.9 487.2,187.4 487.2,186.4 487.3,188.3 487.4,190.1 487.5,187.9 487.5,189.3 487.6,190.5 487.7,191.8 487.7,188.8 487.8,190.8 487.8,193.2 487.9,193.4 487.9,190.9 488.0,191.1 488.1,193.5 488.1,191.8 488.1,193.6 488.2,193.3 488.3,194.5 488.4,193.8 488.4,192.7 488.6,193.7 488.6,195.4 488.7,192.1 488.7,194.0 488.8,195.5 488.8,193.0 488.9,193.1 489.0,194.8 489.0,222.4 489.1,184.3 489.1,186.5 489.2,188.3 489.3,188.4 489.3,190.2 489.4,188.2 489.5,222.9 489.5,183.4 489.6,187.3 489.6,186.2 489.7,187.7 489.7,187.1 489.8,189.6 489.9,189.7 489.9,191.5 490.0,190.6 490.1,192.8 490.2,192.2 490.2,192.6 490.3,192.3 490.3,193.8 490.4,192.0 490.4,194.3 490.5,192.3 490.6,194.3 490.6,194.9 490.7,193.9 490.8,196.1 490.8,192.9 490.9,194.6 491.0,195.5 491.0,194.2 491.1,195.7 491.1,194.1 491.2,196.3 491.2,194.3 491.3,195.7 491.4,194.9 491.5,195.6 491.5,196.2 491.6,194.4 491.7,194.8 491.7,197.2 491.7,197.0 491.8,194.7 491.9,194.2 491.9,196.8 492.1,222.3 492.1,182.4 492.2,182.5 492.2,185.3 492.3,185.0 492.4,188.1 492.4,187.7 492.4,189.9 492.5,190.6 492.5,188.7 492.6,191.1 492.7,192.6 492.8,191.6 492.8,193.3 492.9,193.9 492.9,192.6 493.0,193.9 493.1,193.4 493.2,194.4 493.2,196.1 493.3,193.6 493.3,195.5 493.4,196.0 493.4,194.1 493.5,194.8 493.6,197.2 493.6,195.1 493.7,196.7 493.8,195.6 493.8,197.2 493.9,196.9 493.9,195.4 494.1,195.6 494.1,197.1 494.1,197.1 494.2,195.4 494.3,196.2 494.3,197.7 494.4,198.4 494.5,196.1 494.6,221.9 494.6,188.2 494.6,188.0 494.7,189.6 494.8,190.8 494.8,193.0 494.9,191.6 495.0,193.8 495.0,193.9 495.1,192.6 495.2,195.5 495.2,193.4 495.3,194.6 495.3,195.9 495.4,196.7 495.5,195.3 495.5,195.2 495.5,197.5 495.6,197.5 495.6,195.5 495.7,198.6 495.9,195.4 495.9,197.4 495.9,196.0 496.0,196.6 496.1,198.2 496.1,196.2 496.2,198.8 496.3,195.7 496.4,199.6 496.4,196.3 496.4,198.8 496.5,196.2 496.6,198.2 496.6,198.7 496.6,196.9 496.7,198.7 496.9,197.5 496.9,196.6 496.9,198.8 497.0,197.1 497.1,198.6 497.1,195.8 497.2,198.5 497.3,198.7 497.3,197.7 497.4,196.4 497.4,198.8 497.5,200.3 497.6,196.4 497.6,198.9 497.7,197.6 497.8,198.9 497.8,197.5 497.9,199.8 498.0,197.1 498.0,197.3 498.1,199.6 498.1,199.3 498.2,196.3 498.3,197.6 498.3,199.3 498.4,196.4 498.4,198.6 498.5,197.5 498.5,199.7 498.7,197.2 498.7,199.8 498.8,197.6 498.8,200.1 498.9,200.7 498.9,198.1 499.0,235.2 499.1,230.1 499.2,229.9 499.2,227.9 499.2,227.7 499.4,225.2 499.4,226.2 499.5,222.0 499.5,221.3 499.6,221.9 499.7,220.6 499.7,217.2 499.7,219.4 499.9,216.5 499.9,217.1 499.9,215.3 500.0,215.3 500.1,213.1 500.1,214.7 500.2,212.5 500.2,212.8 500.3,211.5 500.4,214.9 500.5,210.0 500.5,211.7 500.6,209.6 500.6,210.9 500.6,209.1 500.8,210.5 500.9,208.2 500.9,207.9 500.9,209.0 501.0,210.3 501.1,208.0 501.1,207.9 501.1,209.7 501.3,208.5 501.3,206.6 501.4,209.2 501.4,206.9 501.5,208.0 501.6,206.0 501.6,208.0 501.7,206.9 501.8,208.2 501.8,206.1 501.9,208.2 501.9,206.2 502.0,207.9 502.1,206.3 502.2,207.2 502.2,206.0 502.3,207.4 502.3,206.1 502.4,207.7 502.4,206.1 502.5,208.5 502.6,205.6 502.6,205.1 502.7,208.2 502.8,205.6 502.8,209.0 502.9,207.8 503.0,206.3 503.0,207.7 503.1,206.9 503.2,207.5 503.2,206.2 503.2,208.4 503.3,205.8 503.4,208.2 503.5,206.1 503.5,207.5 503.6,206.4 503.7,208.7 503.7,206.7 503.7,208.3 503.8,206.2 503.9,221.4 504.0,172.8 504.0,175.1 504.1,179.7 504.1,179.6 504.2,183.1 504.3,183.5 504.3,185.0 504.4,224.0 504.4,173.5 504.5,174.8 504.6,179.8 504.6,178.6 504.7,182.3 504.8,182.9 504.8,183.9 504.9,183.6 504.9,186.2 505.0,185.1 505.1,187.3 505.1,186.3 505.2,189.1 505.3,186.4 505.3,188.8 505.4,187.2 505.4,189.8 505.5,188.4 505.6,189.5 505.7,190.7 505.7,189.0 505.8,192.2 505.8,188.8 506.0,192.9 506.0,189.7 506.1,190.0 506.1,223.9 506.2,176.0 506.2,179.1 506.2,179.7 506.3,182.5 506.4,180.8 506.4,183.9 506.5,184.1 506.6,187.8 506.6,186.1 506.7,186.7 506.7,185.8 506.9,188.8 506.9,222.4 506.9,175.2 507.0,177.5 507.1,179.7 507.1,179.8 507.2,184.1 507.2,182.9 507.3,185.6 507.4,184.4 507.4,187.1 507.6,227.7 507.6,176.2 507.6,176.7 507.7,180.1 507.7,179.7 507.9,183.9 507.9,182.7 508.0,185.1 508.0,184.9 508.1,186.9 508.1,186.2 508.2,189.1 508.3,187.5 508.4,189.6 508.4,189.6 508.4,187.5 508.5,190.7 508.5,189.6 508.6,190.2 508.7,191.9 508.8,192.5 508.8,189.4 509.0,190.6 509.0,192.6 509.1,192.9 509.1,191.2 509.1,191.7 509.2,193.2 509.3,194.2 509.3,192.4 509.4,222.3 509.4,174.7 509.5,178.1 509.6,182.5 509.7,180.3 509.7,184.0 509.8,183.6 509.8,186.8 509.9,185.8 510.0,187.5 510.0,187.4 510.1,189.4 510.2,190.9 510.2,189.2 510.3,191.4 510.3,189.8 510.4,190.3 510.5,192.7 510.5,191.8 510.5,190.5 510.7,192.9 510.7,192.3 510.8,193.5 510.8,192.0 510.9,191.0 511.0,193.6 511.1,194.6 511.1,192.8 511.2,226.3 511.2,175.6 511.3,177.9 511.4,180.2 511.4,181.0 511.5,184.2 511.5,184.5 511.6,186.4 511.6,184.5 511.7,187.9 511.8,186.8 511.8,188.7 511.9,189.9 512.0,222.9 512.0,177.1 512.1,180.2 512.2,181.1 512.2,184.6 512.3,184.2 512.4,186.7 512.4,187.1 512.5,188.5 512.6,227.1 512.6,177.5 512.6,178.9 512.7,182.7 512.8,182.7 512.8,184.6 512.9,185.0 513.0,187.1 513.0,188.0 513.0,189.2 513.1,188.6 513.2,190.7 513.3,191.3 513.3,189.6 513.5,190.1 513.5,193.9 513.5,193.3 513.5,191.6 513.7,194.7 513.7,192.5 513.8,192.1 513.9,193.5 513.9,193.7 514.0,194.7 514.1,195.3 514.1,193.7 514.1,194.6 514.2,193.6 514.3,194.5 514.3,196.7 514.4,194.1 514.5,195.3 514.5,197.0 514.6,193.8 514.7,194.4 514.7,196.7 514.7,196.1 514.8,194.4 514.9,194.9 515.0,196.3 515.0,227.0 515.0,175.1 515.1,177.4 515.2,182.0 515.3,181.5 515.3,185.4 515.4,184.3 515.4,187.8 515.5,186.7 515.6,189.2 515.7,189.6 515.7,191.2 515.8,192.5 515.8,190.9 515.9,193.2 515.9,192.0 516.0,192.4 516.1,194.2 516.2,195.5 516.2,193.3 516.3,194.1 516.3,195.9 516.4,195.0 516.5,195.6 516.5,195.0 516.5,196.4 516.6,196.6 516.7,194.3 516.8,230.2 516.8,177.9 516.9,180.0 517.0,185.4 517.0,185.7 517.0,187.7 517.1,187.5 517.2,189.7 517.3,188.5 517.3,191.6 517.4,190.6 517.4,192.7 517.5,192.1 517.6,193.5 517.6,191.9 517.7,193.8 517.7,193.0 517.8,194.6 517.9,196.6 518.0,194.5 518.0,195.1 518.1,196.9 518.1,195.4 518.2,197.7 518.2,195.3 518.4,197.5 518.5,197.7 518.5,196.3 518.5,198.3 518.6,196.0 518.6,195.9 518.7,198.3 518.8,196.7 518.9,197.7 518.9,199.2 518.9,196.2 519.1,199.0 519.1,196.3 519.2,196.2 519.2,199.0 519.3,196.9 519.4,199.6 519.4,197.3 519.4,199.4 519.5,197.6 519.6,198.5 519.7,199.4 519.7,197.1 519.8,197.4 519.8,199.3 519.9,197.1 519.9,197.8 520.1,197.6 520.1,199.7 520.2,199.7 520.2,198.2 520.3,199.7 520.3,197.9 520.4,197.7 520.5,199.8 520.5,197.7 520.6,199.6 520.6,198.6 520.7,231.6 520.8,228.9 520.8,224.1 520.9,224.2 521.0,220.8 521.0,221.3 521.1,218.6 521.1,218.3 521.2,216.0 521.3,217.0 521.3,216.2 521.4,213.9 521.5,215.2 521.5,212.4 521.5,213.2 521.7,214.0 521.7,211.7 521.7,210.4 521.8,212.9 521.9,212.8 522.0,210.0 522.0,211.1 522.1,209.6 522.2,210.0 522.2,212.5 522.3,208.9 522.3,211.9 522.4,211.0 522.5,205.7 522.5,227.1 522.6,180.1 522.6,183.8 522.7,186.0 522.8,186.5 522.9,188.2 522.9,187.5 522.9,189.4 523.0,187.8 523.1,189.2 523.1,190.5 523.2,188.0 523.3,189.0 523.3,187.5 523.4,189.0 523.5,188.3 523.5,188.8 523.6,187.7 523.7,190.3 523.7,187.5 523.8,190.1 523.8,187.0 523.9,189.4 523.9,187.3 524.0,189.3 524.1,187.4 524.2,187.7 524.2,189.8 524.3,188.1 524.3,189.3 524.4,187.9 524.5,189.8 524.5,223.9 524.6,177.9 524.7,179.4 524.7,182.2 524.8,180.5 524.9,183.4 524.9,182.9 524.9,185.1 525.1,183.9 525.1,185.0 525.2,185.1 525.2,186.3 525.2,187.4 525.3,185.6 525.4,186.3 525.4,189.0 525.5,187.5 525.6,189.0 525.7,186.9 525.7,189.2 525.8,187.8 525.9,190.0 525.9,188.0 525.9,190.5 526.1,187.9 526.1,190.3 526.1,188.5 526.2,190.1 526.3,225.1 526.3,178.7 526.4,181.4 526.4,183.3 526.6,183.0 526.6,184.8 526.7,184.9 526.7,186.7 526.8,185.6 526.9,227.3 526.9,176.7 527.0,180.0 527.0,180.0 527.1,181.6 527.2,181.7 527.2,184.5 527.3,182.7 527.3,185.4 527.4,184.9 527.4,186.4 527.5,186.2 527.5,187.3 527.7,185.5 527.7,188.7 527.8,187.4 527.9,188.6 527.9,188.2 527.9,189.4 528.1,188.5 528.1,190.5 528.1,187.9 528.2,190.6 528.3,190.8 528.3,189.2 528.4,221.1 528.4,179.8 528.5,181.4 528.6,185.0 528.6,184.6 528.7,186.4 528.8,185.0 528.9,187.2 528.9,184.9 528.9,188.5 529.0,228.9 529.1,183.5 529.2,183.6 529.2,186.2 529.2,187.1 529.3,185.8 529.4,186.1 529.4,188.6 529.6,186.6 529.6,189.4 529.7,190.2 529.7,188.6 529.8,221.5 529.8,182.6 529.9,184.6 530.0,186.3 530.0,184.9 530.1,187.7 530.2,186.8 530.2,188.9 530.3,186.9 530.4,189.8 530.5,188.4 530.5,190.1 530.5,189.6 530.6,190.7 530.7,191.2 530.7,189.3 530.8,190.1 530.8,191.5 530.9,190.2 530.9,192.4 531.1,192.3 531.1,190.0 531.1,223.0 531.2,180.6 531.3,181.7 531.3,184.7 531.5,183.9 531.5,186.1 531.5,186.6 531.6,188.1 531.7,187.5 531.7,189.8 531.8,189.1 531.8,189.8 531.9,188.9 532.0,191.2 532.0,189.6 532.1,192.3 532.2,192.5 532.2,189.5 532.3,192.4 532.4,190.5 532.4,190.3 532.4,192.2 532.5,191.7 532.6,193.5 532.7,192.7 532.7,193.8 532.8,194.0 532.9,191.5 532.9,220.8 533.0,181.6 533.0,181.9 533.1,184.3 533.2,184.6 533.2,187.4 533.2,187.1 533.3,188.6 533.4,190.0 533.4,187.4 533.6,188.4 533.6,191.5 533.7,189.7 533.7,191.9 533.8,191.1 533.8,192.6 533.9,192.8 534.0,191.3 534.1,191.8 534.1,193.4 534.1,191.6 534.2,194.0 534.3,194.1 534.4,192.5 534.4,194.1 534.5,192.9 534.5,195.5 534.6,192.3 534.7,221.4 534.7,185.9 534.8,181.8 534.8,186.1 534.9,185.4 535.0,187.6 535.0,186.8 535.1,228.7 535.1,183.6 535.2,185.3 535.3,184.9 535.4,187.7 535.4,187.7 535.4,190.8 535.5,188.3 535.6,191.4 535.6,190.0 535.7,193.4 535.8,190.6 535.9,191.6 536.0,191.7 536.0,192.9 536.0,193.8 536.1,190.9 536.2,194.3 536.2,193.1 536.3,192.4 536.4,195.4 536.4,193.1 536.5,194.9 536.6,194.0 536.6,195.4 536.7,196.2 536.7,194.2 536.8,193.9 536.9,196.2 537.0,194.1 537.0,196.1 537.1,195.8 537.1,194.6 537.2,194.6 537.2,197.7 537.3,194.9 537.4,223.9 537.4,185.0 537.4,187.7 537.5,187.7 537.6,190.0 537.6,189.1 537.7,191.7 537.8,191.1 537.9,194.0 537.9,222.3 538.0,184.9 538.0,187.0 538.1,189.9 538.2,189.6 538.2,191.1 538.3,190.5 538.4,192.0 538.4,191.5 538.4,193.9 538.5,191.9 538.5,194.9 538.7,192.5 538.7,195.4 538.8,193.6 538.8,196.0 539.0,193.3 539.0,195.8 539.0,196.5 539.1,194.3 539.1,196.8 539.2,195.8 539.3,195.3 539.3,196.8 539.4,196.4 539.4,195.1 539.5,197.1 539.6,195.1 539.7,196.1 539.7,197.6 539.8,197.6 539.8,196.4 539.9,196.9 540.0,197.7 540.0,198.2 540.1,196.2 540.1,196.2 540.2,198.2 540.3,196.2 540.3,198.9 540.4,195.7 540.5,198.1 540.5,196.7 540.6,198.6 540.6,197.1 540.7,198.1 540.8,198.3 540.8,197.6 540.9,196.0 541.0,199.9 541.1,197.1 541.1,199.2 541.2,197.4 541.2,198.6 541.3,199.6 541.3,197.1 541.4,196.9 541.5,198.5 541.5,196.8 541.6,199.1 541.7,196.9 541.7,199.4 541.8,196.5 541.9,198.8 541.9,198.0 542.0,200.3 542.0,199.1 542.0,197.4 542.1,196.6 542.2,199.0 542.3,198.2 542.3,199.8 542.4,197.9 542.5,198.5" fill="none" stroke="#0072BD" stroke-width="0.55" stroke-linejoin="round"/></g>
<path d="M323.80 240.80v-2.20M323.80 147.00v2.20M367.54 240.80v-2.20M367.54 147.00v2.20M411.28 240.80v-2.20M411.28 147.00v2.20M455.02 240.80v-2.20M455.02 147.00v2.20M498.76 240.80v-2.20M498.76 147.00v2.20M542.50 240.80v-2.20M542.50 147.00v2.20M323.80 240.80h2.20M542.50 240.80h-2.20M323.80 222.04h2.20M542.50 222.04h-2.20M323.80 203.28h2.20M542.50 203.28h-2.20M323.80 184.52h2.20M542.50 184.52h-2.20M323.80 165.76h2.20M542.50 165.76h-2.20M323.80 147.00h2.20M542.50 147.00h-2.20" stroke="#6e6e6e" stroke-width="0.9" fill="none"/>
<rect x="323.80" y="147.00" width="218.70" height="93.80" fill="none" stroke="#6e6e6e" stroke-width="1.3"/>
<text x="323.80" y="254.30" class="tk" text-anchor="middle">45</text>
<text x="367.54" y="254.30" class="tk" text-anchor="middle">46</text>
<text x="411.28" y="254.30" class="tk" text-anchor="middle">47</text>
<text x="455.02" y="254.30" class="tk" text-anchor="middle">48</text>
<text x="498.76" y="254.30" class="tk" text-anchor="middle">49</text>
<text x="542.50" y="254.30" class="tk" text-anchor="middle">50</text>
<text x="319.80" y="244.30" class="tk" text-anchor="end">-1</text>
<text x="319.80" y="225.54" class="tk" text-anchor="end">-0.5</text>
<text x="319.80" y="206.78" class="tk" text-anchor="end">0</text>
<text x="319.80" y="188.02" class="tk" text-anchor="end">0.5</text>
<text x="319.80" y="169.26" class="tk" text-anchor="end">1</text>
<text x="319.80" y="150.50" class="tk" text-anchor="end">1.5</text>
<rect x="330.70" y="153.10" width="77.20" height="13.00" fill="#fff" stroke="#6e6e6e" stroke-width="1.3"/>
<path d="M334.00 160.00h26" stroke="#0072BD" stroke-width="1" fill="none"/>
<text x="362.70" y="162.80" class="lg">ResDnCNN</text>
<text x="323.80" y="140.90" class="pl" text-anchor="middle">(d)</text>
<clipPath id="c02"><rect x="35.20" y="277.50" width="219.30" height="93.80"/></clipPath>
<g clip-path="url(#c02)"><polyline points="35.3,316.5 35.4,343.3 35.5,317.6 35.6,343.7 35.7,316.3 35.8,343.7 35.9,317.7 36.0,345.5 36.1,319.3 36.2,345.9 36.3,320.8 36.4,345.9 36.5,320.0 36.6,346.3 36.7,318.4 36.8,344.6 36.9,321.3 37.0,346.1 37.1,319.2 37.2,345.6 37.3,322.2 37.4,346.4 37.5,319.5 37.6,347.9 37.7,329.8 37.8,347.7 37.9,329.7 38.0,348.4 38.1,329.8 38.2,347.6 38.3,330.1 38.4,346.5 38.5,329.4 38.6,343.3 38.7,316.0 38.8,343.9 38.9,316.5 39.0,344.8 39.1,315.6 39.2,344.8 39.3,316.8 39.4,343.5 39.5,317.7 39.6,343.6 39.7,318.0 39.8,344.9 39.9,319.4 40.0,346.6 40.1,319.2 40.2,346.6 40.3,321.8 40.4,345.7 40.5,319.0 40.6,345.7 40.7,320.8 40.8,347.2 40.9,321.2 41.0,346.9 41.1,320.4 41.2,346.7 41.3,321.4 41.4,349.4 41.5,329.8 41.6,347.5 41.7,330.5 41.8,346.5 41.9,330.2 42.0,346.7 42.1,330.0 42.2,344.2 42.3,315.3 42.4,343.9 42.5,315.9 42.6,343.7 42.7,317.2 42.8,344.2 42.9,316.5 43.0,344.2 43.1,316.7 43.2,345.3 43.3,320.0 43.4,345.3 43.5,319.2 43.6,345.3 43.7,318.7 43.8,344.8 43.9,319.5 44.0,346.0 44.1,321.1 44.2,346.9 44.3,320.7 44.4,345.5 44.5,320.4 44.6,347.7 44.7,319.7 44.8,346.4 44.9,320.7 45.0,346.1 45.1,330.2 45.2,347.0 45.3,329.7 45.4,348.4 45.5,329.9 45.6,347.9 45.7,330.4 45.8,343.7 45.9,330.1 46.0,344.8 46.1,315.4 46.2,343.6 46.3,316.4 46.4,343.1 46.5,317.8 46.6,343.1 46.7,318.0 46.8,344.9 46.9,318.4 47.0,345.5 47.1,320.1 47.2,344.5 47.3,319.6 47.4,345.9 47.5,319.7 47.6,346.0 47.7,320.4 47.8,346.1 47.9,318.6 48.0,346.8 48.1,321.4 48.2,346.7 48.3,321.3 48.4,346.9 48.5,321.3 48.6,347.3 48.7,329.9 48.8,346.7 48.9,329.1 49.0,347.5 49.1,331.7 49.2,348.2 49.3,330.1 49.4,344.5 49.5,330.1 49.6,344.3 49.7,315.7 49.8,343.5 49.9,317.6 50.0,345.4 50.1,316.3 50.2,343.6 50.3,316.6 50.4,345.1 50.5,316.7 50.6,344.6 50.7,317.7 50.8,345.9 50.9,321.2 51.0,346.3 51.1,316.8 51.2,346.1 51.3,319.9 51.4,345.2 51.5,320.4 51.6,347.0 51.7,322.0 51.8,345.5 51.9,320.0 52.0,346.8 52.1,319.9 52.2,347.7 52.3,329.8 52.4,346.2 52.5,329.4 52.6,348.3 52.7,330.4 52.8,347.0 52.9,329.0 53.0,348.0 53.1,330.0 53.2,344.0 53.3,316.7 53.4,344.9 53.5,315.6 53.6,343.9 53.7,316.6 53.8,343.2 53.9,317.0 54.0,343.8 54.1,316.8 54.2,344.8 54.3,319.3 54.4,345.6 54.5,321.1 54.6,345.5 54.7,320.3 54.8,344.8 54.9,318.8 55.0,346.2 55.1,319.3 55.2,346.3 55.3,320.4 55.4,347.2 55.5,320.0 55.6,347.0 55.7,320.7 55.8,348.3 55.9,319.4 56.0,347.2 56.1,328.4 56.2,346.6 56.3,329.7 56.4,348.7 56.5,330.6 56.6,347.4 56.7,330.0 56.8,344.1 56.9,329.2 57.0,344.5 57.1,316.3 57.2,344.0 57.3,317.1 57.4,344.4 57.5,316.4 57.6,343.2 57.7,317.6 57.8,345.6 57.9,317.2 58.0,345.5 58.1,318.4 58.2,345.0 58.3,319.8 58.4,345.9 58.5,320.4 58.6,346.4 58.7,320.2 58.8,346.7 58.9,320.1 59.0,346.4 59.1,321.3 59.2,346.7 59.3,321.7 59.4,346.6 59.5,320.8 59.6,347.1 59.7,329.6 59.8,348.4 59.9,331.3 60.0,347.3 60.1,329.3 60.2,347.6 60.3,329.9 60.4,344.7 60.5,331.1 60.6,344.1 60.7,316.3 60.8,344.2 60.9,315.9 61.0,344.5 61.1,316.6 61.2,344.5 61.3,317.7 61.4,345.5 61.5,320.5 61.6,345.2 61.7,319.1 61.8,345.2 61.9,319.8 62.0,344.4 62.1,318.1 62.2,346.8 62.3,318.9 62.4,346.7 62.5,321.5 62.6,346.0 62.7,320.0 62.8,347.3 62.9,319.3 63.0,347.3 63.1,321.9 63.2,346.7 63.3,330.3 63.4,346.5 63.5,330.1 63.6,347.9 63.7,331.3 63.8,347.2 63.9,330.3 64.0,346.2 64.1,331.0 64.2,343.6 64.3,314.7 64.4,344.3 64.5,316.4 64.6,343.9 64.7,316.6 64.8,344.0 64.9,316.4 65.0,343.6 65.1,318.3 65.2,345.2 65.3,319.3 65.4,345.2 65.5,319.7 65.6,346.7 65.7,318.6 65.8,345.9 65.9,319.1 66.0,344.9 66.1,320.6 66.2,346.6 66.3,321.1 66.4,346.3 66.5,321.9 66.6,345.9 66.7,321.9 66.8,346.5 66.9,322.2 67.0,347.0 67.1,330.8 67.2,347.2 67.3,329.8 67.4,346.6 67.5,329.7 67.6,348.9 67.7,329.4 67.8,344.3 67.9,316.8 68.0,344.3 68.1,315.4 68.2,343.3 68.3,314.7 68.4,344.7 68.5,318.2 68.6,344.4 68.7,317.3 68.8,345.3 68.9,318.0 69.0,345.4 69.1,320.3 69.2,346.4 69.3,321.9 69.4,346.3 69.5,320.4 69.6,346.0 69.7,321.9 69.8,346.9 69.9,319.7 70.0,346.7 70.1,320.9 70.2,346.9 70.3,320.4 70.4,347.2 70.5,321.3 70.6,347.6 70.7,330.4 70.8,347.9 70.9,330.4 71.0,346.0 71.1,329.7 71.2,350.1 71.3,329.8 71.4,343.9 71.5,330.0 71.6,344.0 71.7,316.8 71.8,343.9 71.9,315.8 72.0,343.8 72.1,317.3 72.2,345.0 72.3,315.6 72.4,346.3 72.5,320.3 72.6,345.1 72.7,317.7 72.8,345.3 72.9,320.0 73.0,346.8 73.1,320.0 73.2,346.0 73.3,320.6 73.4,345.6 73.5,320.2 73.6,347.5 73.7,319.5 73.8,346.0 73.9,320.9 74.0,347.2 74.1,321.0 74.2,346.7 74.3,330.3 74.4,347.3 74.5,330.9 74.6,348.3 74.7,329.9 74.8,347.2 74.9,330.1 75.0,344.3 75.1,329.2 75.2,343.9 75.3,316.6 75.4,343.4 75.5,317.4 75.6,343.7 75.7,316.1 75.8,344.9 75.9,316.3 76.0,344.8 76.1,316.8 76.2,345.7 76.3,317.3 76.4,345.8 76.5,320.7 76.6,346.5 76.7,319.5 76.8,346.6 76.9,320.2 77.0,345.7 77.1,319.3 77.2,346.3 77.3,319.4 77.4,346.4 77.5,320.7 77.6,346.6 77.7,321.4 77.8,348.5 77.9,330.2 78.0,348.7 78.1,330.1 78.2,347.0 78.3,329.9 78.4,349.2 78.5,329.7 78.6,349.0 78.7,330.4 78.8,344.8 78.9,317.0 79.0,343.7 79.1,316.0 79.2,343.5 79.3,317.4 79.4,343.5 79.5,316.7 79.6,345.1 79.7,316.9 79.8,344.2 79.9,318.0 80.0,345.7 80.1,319.5 80.2,344.6 80.3,320.1 80.4,345.7 80.5,320.9 80.6,347.0 80.7,320.8 80.8,347.0 80.9,320.5 81.0,346.6 81.1,320.9 81.2,348.0 81.3,321.8 81.4,346.5 81.5,321.6 81.6,346.3 81.7,330.0 81.8,345.5 81.9,330.4 82.0,346.9 82.1,330.1 82.2,348.1 82.3,329.7 82.4,343.8 82.5,316.5 82.6,343.8 82.7,316.5 82.8,343.8 82.9,315.7 83.0,344.0 83.1,317.3 83.2,343.4 83.3,316.9 83.4,345.4 83.5,319.5 83.6,345.8 83.7,320.2 83.8,345.7 83.9,320.5 84.0,346.5 84.1,319.0 84.2,345.4 84.3,318.7 84.4,346.4 84.5,318.1 84.6,346.7 84.7,319.3 84.8,346.1 84.9,319.8 85.0,347.5 85.1,322.8 85.2,348.2 85.3,329.1 85.4,347.9 85.5,329.4 85.6,346.5 85.7,330.2 85.8,349.3 85.9,330.5 86.0,344.1 86.1,330.4 86.2,343.7 86.3,316.5 86.4,344.0 86.5,316.7 86.6,343.4 86.7,316.6 86.8,343.9 86.9,317.3 87.0,344.8 87.1,320.9 87.2,345.2 87.3,318.2 87.4,344.3 87.5,320.4 87.6,346.1 87.7,320.9 87.8,347.0 87.9,319.4 88.0,345.8 88.1,321.7 88.2,347.5 88.3,321.0 88.4,345.9 88.5,320.7 88.6,347.0 88.7,319.9 88.8,347.7 88.9,330.7 89.0,349.0 89.1,330.1 89.2,348.0 89.3,330.0 89.4,347.4 89.5,330.1 89.6,344.5 89.7,330.5 89.8,344.4 89.9,315.9 90.0,344.4 90.1,316.6 90.2,344.6 90.3,316.7 90.4,344.9 90.5,316.4 90.6,344.9 90.7,317.1 90.8,345.7 90.9,320.6 91.0,344.6 91.1,319.2 91.2,346.2 91.3,321.0 91.4,346.1 91.5,318.7 91.6,347.8 91.7,321.9 91.8,347.2 91.9,319.5 92.0,346.5 92.1,321.6 92.2,347.2 92.3,319.4 92.4,347.5 92.5,329.2 92.6,347.9 92.7,329.9 92.8,347.0 92.9,330.1 93.0,349.3 93.1,329.7 93.2,347.2 93.3,330.2 93.4,343.6 93.5,315.6 93.6,343.3 93.7,316.1 93.8,343.8 93.9,317.2 94.0,344.0 94.1,316.3 94.2,343.1 94.3,316.9 94.4,344.8 94.5,319.4 94.6,345.8 94.7,317.6 94.8,346.3 94.9,321.1 95.0,346.9 95.1,320.5 95.2,346.3 95.3,319.9 95.4,347.2 95.5,320.6 95.6,347.4 95.7,321.0 95.8,345.6 95.9,321.3 96.0,347.4 96.1,322.2 96.2,346.5 96.3,330.7 96.4,348.7 96.5,330.6 96.6,348.4 96.7,330.3 96.8,348.8 96.9,330.1 97.0,343.6 97.1,316.9 97.2,343.5 97.3,315.4 97.4,343.4 97.5,317.0 97.6,344.0 97.7,316.2 97.8,343.2 97.9,316.3 98.0,345.5 98.1,317.5 98.2,345.8 98.3,319.8 98.4,346.5 98.5,320.7 98.6,346.0 98.7,318.6 98.8,346.9 98.9,318.6 99.0,345.3 99.1,318.3 99.2,347.7 99.3,321.6 99.4,346.7 99.5,322.6 99.6,347.9 99.7,320.3 99.8,348.3 99.9,330.7 100.0,347.3 100.1,329.3 100.2,347.5 100.3,329.6 100.4,349.9 100.5,329.4 100.6,344.2 100.7,329.7 100.8,343.6 100.9,316.1 101.0,344.0 101.1,316.6 101.2,344.1 101.3,316.9 101.4,344.0 101.5,317.2 101.6,345.2 101.7,320.4 101.8,346.4 101.9,317.5 102.0,345.7 102.1,317.8 102.2,346.1 102.3,321.2 102.4,345.9 102.5,319.5 102.6,345.6 102.7,321.1 102.8,345.8 102.9,319.3 103.0,347.9 103.1,319.6 103.2,345.8 103.3,319.2 103.4,348.6 103.5,330.4 103.6,346.9 103.7,330.8 103.8,348.0 103.9,330.3 104.0,348.5 104.1,330.4 104.2,344.0 104.3,330.4 104.4,343.3 104.5,315.8 104.6,343.2 104.7,316.8 104.8,343.8 104.9,317.2 105.0,344.4 105.1,316.6 105.2,343.9 105.3,317.6 105.4,344.2 105.5,318.6 105.6,345.2 105.7,320.3 105.8,346.1 105.9,320.9 106.0,345.5 106.1,317.8 106.2,346.3 106.3,320.7 106.4,347.2 106.5,318.7 106.6,345.9 106.7,322.1 106.8,345.2 106.9,322.1 107.0,347.0 107.1,330.5 107.2,348.5 107.3,331.0 107.4,347.5 107.5,329.5 107.6,347.9 107.7,329.0 107.8,348.1 107.9,330.8 108.0,342.3 108.1,316.7 108.2,343.8 108.3,315.6 108.4,343.7 108.5,314.7 108.6,345.1 108.7,317.1 108.8,344.5 108.9,317.7 109.0,346.3 109.1,320.8 109.2,344.9 109.3,319.8 109.4,346.2 109.5,320.7 109.6,345.4 109.7,321.0 109.8,345.7 109.9,321.6 110.0,345.7 110.1,321.5 110.2,347.1 110.3,321.0 110.4,345.5 110.5,321.2 110.6,346.5 110.7,321.4 110.8,347.2 110.9,330.0 111.0,346.9 111.1,330.4 111.2,349.1 111.3,329.5 111.4,347.7 111.5,329.4 111.6,344.1 111.7,330.3 111.8,344.5 111.9,316.0 112.0,343.8 112.1,316.4 112.2,343.5 112.3,317.1 112.4,345.1 112.5,317.6 112.6,345.2 112.7,320.0 112.8,346.3 112.9,318.4 113.0,347.1 113.1,320.4 113.2,345.2 113.3,321.7 113.4,345.6 113.5,320.3 113.6,346.1 113.7,322.4 113.8,347.0 113.9,320.4 114.0,346.7 114.1,320.5 114.2,347.8 114.3,321.9 114.4,348.1 114.5,329.0 114.6,347.5 114.7,330.0 114.8,346.9 114.9,329.8 115.0,348.9 115.1,330.3 115.2,344.0 115.3,330.3 115.4,344.2 115.5,316.9 115.6,344.3 115.7,316.0 115.8,343.4 115.9,316.7 116.0,344.2 116.1,316.5 116.2,345.7 116.3,317.2 116.4,345.3 116.5,320.1 116.6,344.8 116.7,318.7 116.8,345.1 116.9,319.4 117.0,346.3 117.1,321.4 117.2,346.8 117.3,322.0 117.4,345.8 117.5,321.5 117.6,346.1 117.7,320.2 117.8,348.2 117.9,320.9 118.0,346.2 118.1,329.4 118.2,347.8 118.3,329.7 118.4,347.4 118.5,330.3 118.6,349.9 118.7,329.3 118.8,345.8 118.9,329.1 119.0,344.0 119.1,316.2 119.2,343.5 119.3,316.0 119.4,344.1 119.5,316.1 119.6,344.5 119.7,317.2 119.8,344.3 119.9,316.9 120.0,346.2 120.1,320.6 120.2,344.4 120.3,320.2 120.4,346.2 120.5,321.0 120.6,344.5 120.7,320.7 120.8,347.4 120.9,319.4 121.0,346.8 121.1,321.7 121.2,345.7 121.3,320.9 121.4,347.2 121.5,321.0 121.6,347.6 121.7,320.8 121.8,347.6 121.9,330.7 122.0,347.8 122.1,330.2 122.2,349.3 122.3,328.9 122.4,347.7 122.5,329.7 122.6,343.8 122.7,316.5 122.8,343.2 122.9,317.0 123.0,343.8 123.1,316.8 123.2,343.1 123.3,317.3 123.4,343.8 123.5,317.1 123.6,345.3 123.7,320.2 123.8,346.0 123.9,318.9 124.0,345.5 124.1,319.0 124.2,345.7 124.3,319.4 124.4,346.4 124.5,320.5 124.6,345.7 124.7,319.6 124.8,346.5 124.9,320.8 125.0,347.5 125.1,320.1 125.2,346.6 125.3,321.5 125.4,346.6 125.5,329.4 125.6,349.7 125.7,330.3 125.8,346.7 125.9,329.7 126.0,347.7 126.1,329.9 126.2,343.4 126.3,330.1 126.4,344.3 126.5,316.5 126.6,344.2 126.7,316.3 126.8,344.4 126.9,317.1 127.0,343.5 127.1,317.5 127.2,345.2 127.3,317.5 127.4,346.2 127.5,319.1 127.6,345.4 127.7,319.5 127.8,345.3 127.9,319.2 128.0,345.7 128.1,320.1 128.2,346.8 128.3,319.3 128.4,346.4 128.5,321.7 128.6,346.4 128.7,319.1 128.8,347.3 128.9,322.1 129.0,349.3 129.1,330.0 129.2,346.4 129.3,330.5 129.4,347.3 129.5,329.2 129.6,347.4 129.7,329.7 129.8,344.5 129.9,329.7 130.0,344.6 130.1,316.3 130.2,343.7 130.3,316.9 130.4,343.7 130.5,316.6 130.6,343.8 130.7,316.3 130.8,345.2 130.9,317.3 131.0,344.4 131.1,317.9 131.2,347.4 131.3,320.2 131.4,345.3 131.5,319.8 131.6,345.2 131.7,319.5 131.8,347.0 131.9,318.3 132.0,347.9 132.1,321.2 132.2,346.5 132.3,320.1 132.4,347.9 132.5,320.8 132.6,347.1 132.7,330.4 132.8,346.8 132.9,330.0 133.0,347.0 133.1,329.6 133.2,347.2 133.3,329.8 133.4,347.4 133.5,330.2 133.6,344.9 133.7,316.0 133.8,345.1 133.9,315.8 134.0,343.6 134.1,316.3 134.2,344.3 134.3,317.1 134.4,343.3 134.5,318.6 134.6,345.7 134.7,320.5 134.8,345.0 134.9,319.9 135.0,346.5 135.1,320.5 135.2,345.5 135.3,320.5 135.4,344.4 135.5,320.8 135.6,346.2 135.7,318.5 135.8,347.5 135.9,319.5 136.0,347.1 136.1,319.2 136.2,347.5 136.3,321.5 136.4,348.1 136.5,330.8 136.6,348.5 136.7,330.0 136.8,346.9 136.9,331.1 137.0,348.4 137.1,329.9 137.2,343.4 137.3,316.2 137.4,345.4 137.5,315.3 137.6,344.3 137.7,316.3 137.8,343.5 137.9,316.9 138.0,343.9 138.1,315.5 138.2,344.4 138.3,319.1 138.4,345.6 138.5,318.6 138.6,345.4 138.7,319.9 138.8,345.3 138.9,319.2 139.0,347.1 139.1,319.6 139.2,346.3 139.3,318.8 139.4,346.0 139.5,319.7 139.6,345.7 139.7,319.1 139.8,347.3 139.9,321.7 140.0,348.3 140.1,330.9 140.2,348.3 140.3,329.1 140.4,345.8 140.5,330.0 140.6,348.5 140.7,330.7 140.8,343.2 140.9,330.5 141.0,343.5 141.1,315.6 141.2,344.5 141.3,316.2 141.4,343.7 141.5,317.5 141.6,344.2 141.7,316.8 141.8,344.3 141.9,316.7 142.0,345.6 142.1,317.8 142.2,346.1 142.3,318.7 142.4,345.6 142.5,318.4 142.6,345.9 142.7,318.4 142.8,346.6 142.9,319.0 143.0,345.8 143.1,319.3 143.2,347.0 143.3,323.1 143.4,346.5 143.5,321.7 143.6,345.7 143.7,330.0 143.8,348.8 143.9,330.8 144.0,347.9 144.1,330.1 144.2,347.5 144.3,330.8 144.4,344.7 144.5,329.7 144.6,343.4 144.7,315.7 144.8,344.4 144.9,316.0 145.0,344.3 145.1,315.5 145.2,343.3 145.3,317.8 145.4,343.9 145.5,316.4 145.6,345.3 145.7,318.7 145.8,344.8 145.9,318.9 146.0,346.5 146.1,319.6 146.2,345.1 146.3,319.6 146.4,345.6 146.5,319.1 146.6,346.1 146.7,320.6 146.8,346.4 146.9,321.7 147.0,347.2 147.1,320.3 147.2,347.6 147.3,330.1 147.4,348.6 147.5,329.8 147.6,347.5 147.7,330.3 147.8,348.0 147.9,329.8 148.0,347.8 148.1,330.4 148.2,343.4 148.3,316.3 148.4,344.4 148.5,315.7 148.6,344.3 148.7,317.3 148.8,344.4 148.9,317.8 149.0,344.2 149.1,315.9 149.2,345.2 149.3,317.1 149.4,345.5 149.5,320.9 149.6,344.7 149.7,320.6 149.8,345.6 149.9,320.9 150.0,346.3 150.1,319.8 150.2,346.9 150.3,320.0 150.4,345.3 150.5,321.9 150.6,347.0 150.7,319.4 150.8,347.4 150.9,321.6 151.0,347.1 151.1,330.1 151.2,347.2 151.3,329.8 151.4,350.2 151.5,330.1 151.6,347.3 151.7,330.0 151.8,344.2 151.9,315.9 152.0,344.0 152.1,316.1 152.2,343.5 152.3,316.4 152.4,343.7 152.5,317.0 152.6,344.4 152.7,317.4 152.8,344.3 152.9,318.5 153.0,344.7 153.1,320.5 153.2,346.7 153.3,319.1 153.4,346.1 153.5,319.4 153.6,346.4 153.7,320.3 153.8,345.0 153.9,319.2 154.0,346.9 154.1,319.6 154.2,345.8 154.3,319.7 154.4,347.2 154.5,319.9 154.6,347.3 154.7,330.4 154.8,346.5 154.9,330.9 155.0,346.4 155.1,329.6 155.2,346.9 155.3,329.6 155.4,343.9 155.5,330.6 155.6,344.6 155.7,315.5 155.8,343.7 155.9,315.8 156.0,343.4 156.1,315.8 156.2,344.4 156.3,316.9 156.4,344.7 156.5,317.2 156.6,345.1 156.7,318.9 156.8,345.6 156.9,319.9 157.0,346.2 157.1,320.8 157.2,347.2 157.3,320.6 157.4,344.6 157.5,320.7 157.6,346.7 157.7,321.2 157.8,347.0 157.9,320.7 158.0,346.2 158.1,320.6 158.2,347.4 158.3,330.4 158.4,348.7 158.5,329.7 158.6,349.3 158.7,329.2 158.8,348.3 158.9,329.9 159.0,344.1 159.1,330.1 159.2,343.4 159.3,316.0 159.4,343.3 159.5,316.5 159.6,344.3 159.7,317.1 159.8,344.6 159.9,317.5 160.0,343.1 160.1,317.1 160.2,345.4 160.3,318.6 160.4,345.1 160.5,317.8 160.6,346.9 160.7,318.3 160.8,344.2 160.9,321.6 161.0,346.5 161.1,319.7 161.2,345.3 161.3,319.3 161.4,346.7 161.5,319.9 161.6,347.9 161.7,321.0 161.8,347.5 161.9,330.3 162.0,347.7 162.1,329.7 162.2,346.9 162.3,329.6 162.4,346.5 162.5,330.3 162.6,349.9 162.7,330.3 162.8,343.5 162.9,316.5 163.0,343.9 163.1,315.5 163.2,344.0 163.3,316.0 163.4,344.0 163.5,315.8 163.6,343.5 163.7,317.1 163.8,346.3 163.9,320.9 164.0,346.2 164.1,319.8 164.2,345.0 164.3,318.8 164.4,345.8 164.5,321.0 164.6,346.0 164.7,319.3 164.8,347.3 164.9,320.1 165.0,347.7 165.1,320.9 165.2,345.7 165.3,319.3 165.4,347.0 165.5,321.7 165.6,348.2 165.7,329.9 165.8,346.4 165.9,329.9 166.0,347.8 166.1,330.0 166.2,347.4 166.3,330.7 166.4,344.6 166.5,330.2 166.6,343.9 166.7,316.6 166.8,344.8 166.9,316.7 167.0,344.0 167.1,316.4 167.2,345.4 167.3,316.6 167.4,345.2 167.5,319.9 167.6,345.5 167.7,321.0 167.8,346.3 167.9,321.4 168.0,347.2 168.1,320.7 168.2,345.4 168.3,319.7 168.4,345.8 168.5,320.3 168.6,347.3 168.7,320.9 168.8,346.6 168.9,319.3 169.0,347.2 169.1,320.5 169.2,345.7 169.3,329.8 169.4,346.9 169.5,330.2 169.6,347.5 169.7,330.0 169.8,346.9 169.9,329.8 170.0,343.5 170.1,330.1 170.2,343.8 170.3,317.1 170.4,343.9 170.5,316.9 170.6,344.2 170.7,317.4 170.8,344.4 170.9,316.9 171.0,345.0 171.1,319.5 171.2,345.3 171.3,317.9 171.4,345.9 171.5,319.1 171.6,345.8 171.7,320.9 171.8,346.1 171.9,319.9 172.0,346.8 172.1,321.1 172.2,346.8 172.3,321.8 172.4,346.8 172.5,319.2 172.6,348.4 172.7,320.2 172.8,346.8 172.9,329.1 173.0,346.4 173.1,330.0 173.2,348.2 173.3,330.3 173.4,348.3 173.5,330.5 173.6,348.1 173.7,330.0 173.8,343.5 173.9,316.4 174.0,344.3 174.1,316.9 174.2,343.4 174.3,316.2 174.4,344.3 174.5,318.0 174.6,343.1 174.7,316.6 174.8,345.9 174.9,320.9 175.0,345.7 175.1,319.1 175.2,346.9 175.3,320.1 175.4,345.2 175.5,319.9 175.6,346.3 175.7,320.9 175.8,346.5 175.9,319.1 176.0,346.5 176.1,322.6 176.2,346.7 176.3,319.7 176.4,346.8 176.5,321.7 176.6,348.5 176.7,330.8 176.8,349.6 176.9,330.6 177.0,349.0 177.1,330.1 177.2,347.7 177.3,330.7 177.4,344.2 177.5,316.5 177.6,343.4 177.7,315.2 177.8,344.1 177.9,315.8 178.0,343.2 178.1,317.5 178.2,344.2 178.3,317.5 178.4,346.1 178.5,320.2 178.6,344.6 178.7,319.0 178.8,345.6 178.9,319.1 179.0,346.2 179.1,319.1 179.2,346.4 179.3,321.6 179.4,345.1 179.5,320.7 179.6,347.2 179.7,318.9 179.8,346.4 179.9,322.2 180.0,347.6 180.1,320.2 180.2,346.6 180.3,330.4 180.4,348.3 180.5,329.3 180.6,349.7 180.7,330.5 180.8,348.3 180.9,329.8 181.0,344.7 181.1,330.2 181.2,343.8 181.3,316.5 181.4,343.8 181.5,316.0 181.6,343.9 181.7,316.4 181.8,343.9 181.9,317.4 182.0,345.6 182.1,318.3 182.2,345.5 182.3,319.4 182.4,345.7 182.5,319.9 182.6,345.2 182.7,320.4 182.8,346.1 182.9,320.5 183.0,346.5 183.1,321.5 183.2,346.3 183.3,322.4 183.4,347.3 183.5,320.2 183.6,346.2 183.7,321.0 183.8,347.0 183.9,330.9 184.0,348.2 184.1,329.6 184.2,347.6 184.3,330.7 184.4,348.1 184.5,329.7 184.6,343.1 184.7,330.1 184.8,344.0 184.9,316.7 185.0,343.6 185.1,317.1 185.2,343.2 185.3,316.8 185.4,343.1 185.5,316.9 185.6,344.0 185.7,316.3 185.8,344.8 185.9,320.1 186.0,346.2 186.1,319.2 186.2,345.2 186.3,319.2 186.4,346.7 186.5,318.5 186.6,346.8 186.7,319.3 186.8,345.5 186.9,319.5 187.0,346.5 187.1,321.8 187.2,347.3 187.3,321.0 187.4,347.8 187.5,329.3 187.6,348.4 187.7,330.2 187.8,346.3 187.9,330.2 188.0,349.0 188.1,329.8 188.2,347.1 188.3,329.8 188.4,344.0 188.5,316.8 188.6,344.7 188.7,316.7 188.8,343.7 188.9,317.0 189.0,343.9 189.1,315.9 189.2,343.6 189.3,316.7 189.4,345.2 189.5,320.9 189.6,345.3 189.7,319.4 189.8,345.6 189.9,319.8 190.0,344.6 190.1,320.2 190.2,346.4 190.3,318.7 190.4,346.6 190.5,319.4 190.6,346.5 190.7,321.1 190.8,346.0 190.9,321.4 191.0,347.0 191.1,321.0 191.2,346.4 191.3,329.6 191.4,348.4 191.5,330.1 191.6,347.1 191.7,331.2 191.8,347.3 191.9,330.1 192.0,344.2 192.1,316.1 192.2,344.0 192.3,316.4 192.4,343.9 192.5,316.2 192.6,344.4 192.7,316.7 192.8,343.8 192.9,316.4 193.0,345.5 193.1,320.5 193.2,345.8 193.3,321.5 193.4,344.4 193.5,319.3 193.6,345.9 193.7,319.5 193.8,345.9 193.9,320.0 194.0,345.4 194.1,321.5 194.2,345.8 194.3,320.4 194.4,347.3 194.5,320.2 194.6,347.9 194.7,320.8 194.8,348.7 194.9,329.9 195.0,347.8 195.1,329.8 195.2,348.8 195.3,330.3 195.4,347.9 195.5,329.3 195.6,343.5 195.7,329.6 195.8,343.9 195.9,316.3 196.0,345.0 196.1,316.5 196.2,343.1 196.3,317.4 196.4,343.3 196.5,316.6 196.6,344.7 196.7,318.3 196.8,344.6 196.9,317.7 197.0,346.3 197.1,319.0 197.2,345.9 197.3,318.4 197.4,346.6 197.5,322.4 197.6,346.4 197.7,319.8 197.8,345.9 197.9,322.7 198.0,346.4 198.1,321.0 198.2,348.1 198.3,321.4 198.4,347.8 198.5,330.7 198.6,348.2 198.7,330.8 198.8,347.4 198.9,329.7 199.0,348.3 199.1,330.5 199.2,343.1 199.3,329.7 199.4,344.2 199.5,315.4 199.6,343.3 199.7,315.4 199.8,344.5 199.9,315.9 200.0,344.6 200.1,316.7 200.2,342.8 200.3,317.2 200.4,344.9 200.5,319.5 200.6,346.7 200.7,319.9 200.8,346.1 200.9,318.7 201.0,345.9 201.1,319.6 201.2,346.3 201.3,321.6 201.4,347.7 201.5,320.2 201.6,347.3 201.7,319.9 201.8,349.5 201.9,321.1 202.0,346.2 202.1,330.3 202.2,348.3 202.3,329.6 202.4,346.4 202.5,329.6 202.6,346.7 202.7,330.3 202.8,347.4 202.9,329.8 203.0,343.9 203.1,316.4 203.2,344.1 203.3,316.6 203.4,344.3 203.5,316.5 203.6,343.7 203.7,318.1 203.8,344.5 203.9,317.0 204.0,344.5 204.1,320.1 204.2,345.2 204.3,319.6 204.4,346.8 204.5,319.9 204.6,345.9 204.7,318.8 204.8,345.1 204.9,319.1 205.0,345.2 205.1,321.5 205.2,345.7 205.3,320.2 205.4,347.0 205.5,321.8 205.6,347.2 205.7,321.8 205.8,346.8 205.9,329.9 206.0,347.9 206.1,330.1 206.2,346.8 206.3,330.1 206.4,349.4 206.5,330.1 206.6,343.6 206.7,315.9 206.8,343.1 206.9,316.2 207.0,343.4 207.1,316.2 207.2,344.5 207.3,317.0 207.4,343.6 207.5,316.6 207.6,346.2 207.7,319.8 207.8,344.5 207.9,319.8 208.0,345.7 208.1,320.3 208.2,346.1 208.3,319.3 208.4,346.0 208.5,320.0 208.6,346.0 208.7,319.7 208.8,348.2 208.9,321.8 209.0,347.2 209.1,321.7 209.2,346.0 209.3,319.8 209.4,346.1 209.5,330.3 209.6,346.9 209.7,330.7 209.8,348.9 209.9,330.0 210.0,348.4 210.1,330.1 210.2,343.7 210.3,328.3 210.4,343.5 210.5,316.3 210.6,344.4 210.7,316.8 210.8,342.9 210.9,317.1 211.0,343.9 211.1,316.7 211.2,344.5 211.3,317.7 211.4,345.5 211.5,320.6 211.6,346.5 211.7,318.8 211.8,346.5 211.9,317.2 212.0,346.8 212.1,317.6 212.2,346.6 212.3,321.4 212.4,346.3 212.5,320.5 212.6,346.9 212.7,321.7 212.8,347.7 212.9,321.2 213.0,348.1 213.1,329.0 213.2,346.9 213.3,330.3 213.4,348.9 213.5,329.7 213.6,348.4 213.7,329.4 213.8,343.6 213.9,329.7 214.0,342.9 214.1,316.1 214.2,345.7 214.3,316.2 214.4,343.0 214.5,316.0 214.6,344.2 214.7,317.5 214.8,343.3 214.9,316.6 215.0,345.9 215.1,317.6 215.2,344.4 215.3,318.2 215.4,345.4 215.5,320.5 215.6,346.1 215.7,320.4 215.8,346.1 215.9,319.5 216.0,345.7 216.1,320.8 216.2,346.0 216.3,321.9 216.4,347.5 216.5,321.1 216.6,347.3 216.7,330.0 216.8,347.6 216.9,329.4 217.0,347.5 217.1,329.7 217.2,348.7 217.3,329.0 217.4,348.0 217.5,329.6 217.6,343.7 217.7,316.7 217.8,344.4 217.9,316.9 218.0,343.8 218.1,316.1 218.2,344.0 218.3,317.6 218.4,343.8 218.5,317.3 218.6,344.7 218.7,320.5 218.8,345.0 218.9,320.4 219.0,345.4 219.1,317.7 219.2,345.6 219.3,320.6 219.4,345.7 219.5,322.2 219.6,345.7 219.7,321.6 219.8,346.2 219.9,320.5 220.0,346.5 220.1,321.6 220.2,346.2 220.3,320.2 220.4,346.8 220.5,330.5 220.6,348.5 220.7,329.0 220.8,347.9 220.9,329.3 221.0,349.3 221.1,330.7 221.2,344.4 221.3,330.2 221.4,343.4 221.5,316.1 221.6,343.4 221.7,316.8 221.8,343.9 221.9,317.6 222.0,344.0 222.1,316.8 222.2,345.5 222.3,318.0 222.4,345.1 222.5,319.4 222.6,345.4 222.7,320.6 222.8,346.7 222.9,320.6 223.0,345.1 223.1,320.9 223.2,346.0 223.3,320.7 223.4,347.3 223.5,321.2 223.6,346.4 223.7,322.1 223.8,348.3 223.9,320.7 224.0,347.1 224.1,330.6 224.2,348.0 224.3,330.7 224.4,347.1 224.5,330.4 224.6,346.9 224.7,329.9 224.8,343.8 224.9,330.6 225.0,342.8 225.1,315.2 225.2,343.5 225.3,315.6 225.4,344.1 225.5,316.7 225.6,344.3 225.7,317.5 225.8,345.4 225.9,319.5 226.0,345.4 226.1,321.6 226.2,345.8 226.3,318.6 226.4,346.2 226.5,318.8 226.6,347.9 226.7,320.9 226.8,347.3 226.9,321.3 227.0,346.6 227.1,320.8 227.2,347.2 227.3,321.8 227.4,347.0 227.5,321.5 227.6,346.7 227.7,329.1 227.8,346.9 227.9,328.7 228.0,349.1 228.1,330.8 228.2,349.0 228.3,330.1 228.4,348.3 228.5,330.5 228.6,344.2 228.7,316.4 228.8,343.4 228.9,316.0 229.0,344.1 229.1,316.6 229.2,344.4 229.3,316.6 229.4,343.2 229.5,316.9 229.6,344.1 229.7,319.8 229.8,345.8 229.9,320.7 230.0,344.8 230.1,319.6 230.2,346.7 230.3,318.1 230.4,346.2 230.5,321.1 230.6,346.1 230.7,321.7 230.8,347.0 230.9,319.9 231.0,346.7 231.1,322.1 231.2,347.4 231.3,321.5 231.4,347.2 231.5,330.6 231.6,346.9 231.7,329.7 231.8,349.7 231.9,329.6 232.0,346.7 232.1,330.7 232.2,344.4 232.3,316.6 232.4,343.9 232.5,315.0 232.6,344.7 232.7,317.1 232.8,344.7 232.9,316.0 233.0,345.0 233.1,317.2 233.2,343.6 233.3,319.1 233.4,346.2 233.5,319.7 233.6,345.8 233.7,318.2 233.8,346.8 233.9,318.5 234.0,345.6 234.1,321.7 234.2,346.2 234.3,319.4 234.4,347.1 234.5,321.9 234.6,345.4 234.7,319.8 234.8,347.6 234.9,320.3 235.0,348.4 235.1,329.5 235.2,347.1 235.3,330.1 235.4,348.5 235.5,329.5 235.6,349.8 235.7,330.1 235.8,343.8 235.9,330.0 236.0,344.3 236.1,316.4 236.2,343.6 236.3,316.9 236.4,344.3 236.5,316.9 236.6,343.9 236.7,317.0 236.8,344.9 236.9,320.5 237.0,344.7 237.1,318.5 237.2,345.6 237.3,318.6 237.4,346.1 237.5,320.1 237.6,346.5 237.7,319.8 237.8,347.0 237.9,321.0 238.0,346.2 238.1,321.4 238.2,345.7 238.3,320.1 238.4,346.6 238.5,319.8 238.6,347.8 238.7,330.2 238.8,346.7 238.9,330.6 239.0,347.4 239.1,330.3 239.2,347.0 239.3,330.6 239.4,343.5 239.5,330.6 239.6,344.1 239.7,316.1 239.8,342.7 239.9,315.8 240.0,344.2 240.1,316.4 240.2,343.9 240.3,316.9 240.4,344.2 240.5,316.6 240.6,346.0 240.7,320.4 240.8,346.3 240.9,320.2 241.0,346.1 241.1,318.1 241.2,345.7 241.3,319.6 241.4,345.4 241.5,319.3 241.6,346.5 241.7,321.2 241.8,345.7 241.9,320.9 242.0,346.4 242.1,319.7 242.2,347.3 242.3,330.1 242.4,346.7 242.5,330.1 242.6,346.4 242.7,330.7 242.8,348.0 242.9,330.5 243.0,346.5 243.1,329.9 243.2,343.7 243.3,315.0 243.4,344.2 243.5,316.9 243.6,344.4 243.7,316.4 243.8,343.8 243.9,315.6 244.0,344.3 244.1,316.5 244.2,345.4 244.3,320.6 244.4,345.4 244.5,318.5 244.6,345.7 244.7,318.8 244.8,346.3 244.9,321.8 245.0,346.0 245.1,319.9 245.2,345.2 245.3,319.7 245.4,347.3 245.5,319.8 245.6,347.3 245.7,320.7 245.8,346.6 245.9,321.9 246.0,347.0 246.1,329.3 246.2,347.8 246.3,330.1 246.4,348.2 246.5,329.5 246.6,346.7 246.7,330.0 246.8,344.4 246.9,316.7 247.0,343.9 247.1,316.5 247.2,344.0 247.3,316.9 247.4,343.0 247.5,315.6 247.6,343.9 247.7,318.3 247.8,344.6 247.9,320.3 248.0,345.9 248.1,319.8 248.2,345.1 248.3,320.2 248.4,345.2 248.5,320.8 248.6,345.3 248.7,321.9 248.8,344.5 248.9,318.9 249.0,346.7 249.1,319.3 249.2,346.6 249.3,321.9 249.4,348.5 249.5,321.8 249.6,347.0 249.7,330.6 249.8,346.4 249.9,330.5 250.0,348.0 250.1,329.7 250.2,348.1 250.3,329.7 250.4,343.8 250.5,330.3 250.6,344.4 250.7,315.2 250.8,343.3 250.9,315.7 251.0,344.4 251.1,317.1 251.2,344.9 251.3,316.6 251.4,344.1 251.5,318.2 251.6,346.0 251.7,320.4 251.8,346.1 251.9,320.7 252.0,346.2 252.1,319.5 252.2,346.7 252.3,319.6 252.4,346.6 252.5,319.3 252.6,346.6 252.7,321.1 252.8,346.2 252.9,318.6 253.0,347.0 253.1,320.6 253.2,346.5 253.3,330.4 253.4,347.9 253.5,329.3 253.6,349.0 253.7,330.3 253.8,346.3 253.9,329.0 254.0,343.8 254.1,330.7 254.2,344.9 254.3,316.5 254.4,344.1" fill="none" stroke="#0072BD" stroke-width="0.60" stroke-linejoin="round"/></g>
<path d="M35.20 371.30v-2.20M35.20 277.50v2.20M71.75 371.30v-2.20M71.75 277.50v2.20M108.30 371.30v-2.20M108.30 277.50v2.20M144.85 371.30v-2.20M144.85 277.50v2.20M181.40 371.30v-2.20M181.40 277.50v2.20M217.95 371.30v-2.20M217.95 277.50v2.20M254.50 371.30v-2.20M254.50 277.50v2.20M35.20 371.30h2.20M254.50 371.30h-2.20M35.20 352.54h2.20M254.50 352.54h-2.20M35.20 333.78h2.20M254.50 333.78h-2.20M35.20 315.02h2.20M254.50 315.02h-2.20M35.20 296.26h2.20M254.50 296.26h-2.20M35.20 277.50h2.20M254.50 277.50h-2.20" stroke="#6e6e6e" stroke-width="0.9" fill="none"/>
<rect x="35.20" y="277.50" width="219.30" height="93.80" fill="none" stroke="#6e6e6e" stroke-width="1.3"/>
<text x="35.20" y="384.80" class="tk" text-anchor="middle">0</text>
<text x="71.75" y="384.80" class="tk" text-anchor="middle">10</text>
<text x="108.30" y="384.80" class="tk" text-anchor="middle">20</text>
<text x="144.85" y="384.80" class="tk" text-anchor="middle">30</text>
<text x="181.40" y="384.80" class="tk" text-anchor="middle">40</text>
<text x="217.95" y="384.80" class="tk" text-anchor="middle">50</text>
<text x="254.50" y="384.80" class="tk" text-anchor="middle">60</text>
<text x="31.20" y="374.80" class="tk" text-anchor="end">-1</text>
<text x="31.20" y="356.04" class="tk" text-anchor="end">-0.5</text>
<text x="31.20" y="337.28" class="tk" text-anchor="end">0</text>
<text x="31.20" y="318.52" class="tk" text-anchor="end">0.5</text>
<text x="31.20" y="299.76" class="tk" text-anchor="end">1</text>
<text x="31.20" y="281.00" class="tk" text-anchor="end">1.5</text>
<rect x="42.10" y="283.60" width="99.10" height="13.00" fill="#fff" stroke="#6e6e6e" stroke-width="1.3"/>
<path d="M45.40 290.00h26" stroke="#0072BD" stroke-width="1" fill="none"/>
<text x="74.10" y="293.30" class="lg">ResDnCNN-SISC</text>
<text x="35.20" y="271.40" class="pl" text-anchor="middle">(e)</text>
<clipPath id="c12"><rect x="323.80" y="277.50" width="218.70" height="93.80"/></clipPath>
<g clip-path="url(#c12)"><polyline points="323.8,347.9 323.9,347.1 324.0,346.5 324.0,345.6 324.1,344.7 324.1,343.7 324.2,343.6 324.3,342.3 324.3,342.8 324.4,341.5 324.5,341.5 324.5,340.9 324.6,341.2 324.7,339.7 324.7,339.2 324.7,339.8 324.8,339.4 324.9,338.2 324.9,339.2 325.0,337.0 325.1,338.4 325.2,337.7 325.2,338.2 325.3,336.8 325.3,336.5 325.4,337.3 325.5,337.5 325.5,336.2 325.6,337.0 325.7,336.2 325.7,336.5 325.8,336.0 325.8,336.6 325.9,335.8 326.0,336.0 326.0,336.3 326.1,335.9 326.2,335.1 326.2,335.8 326.2,335.2 326.3,335.0 326.4,336.0 326.4,334.8 326.5,335.6 326.6,336.3 326.7,335.5 326.7,334.9 326.8,336.1 326.8,335.0 326.9,335.7 326.9,336.1 326.9,335.0 327.1,336.4 327.1,335.2 327.2,335.3 327.2,336.2 327.3,335.8 327.4,335.1 327.5,335.0 327.5,335.9 327.6,336.5 327.7,335.2 327.8,335.7 327.8,336.1 327.8,335.9 327.9,335.0 328.0,334.9 328.0,336.0 328.1,335.9 328.1,335.1 328.2,336.3 328.3,335.5 328.4,336.2 328.4,335.1 328.5,336.8 328.5,335.3 328.6,335.9 328.7,334.2 328.7,345.7 328.7,317.0 328.9,318.6 328.9,320.7 329.0,320.7 329.0,322.7 329.1,322.4 329.2,323.2 329.2,323.1 329.3,324.2 329.4,323.7 329.4,324.5 329.4,324.0 329.5,325.1 329.6,324.4 329.7,325.4 329.7,324.7 329.7,325.6 329.8,326.3 329.9,324.6 330.0,325.5 330.0,324.6 330.1,324.9 330.1,326.1 330.2,325.3 330.3,326.2 330.3,346.3 330.4,315.3 330.4,316.7 330.5,318.3 330.6,317.6 330.7,320.6 330.7,320.2 330.8,321.5 330.8,321.1 330.9,322.4 331.0,322.1 331.0,323.2 331.1,323.0 331.2,324.1 331.2,324.8 331.3,323.9 331.4,325.3 331.4,324.4 331.5,324.6 331.5,326.1 331.6,325.7 331.7,325.0 331.7,345.3 331.8,315.7 331.8,316.7 331.9,318.7 332.0,319.0 332.0,320.3 332.1,320.4 332.2,321.6 332.2,321.5 332.2,322.5 332.3,322.8 332.4,324.3 332.4,323.6 332.5,324.4 332.6,324.4 332.7,324.9 332.7,342.5 332.7,318.5 332.8,319.7 332.9,320.7 333.0,321.5 333.1,322.7 333.1,322.7 333.2,323.7 333.2,344.9 333.2,318.7 333.3,320.0 333.4,321.3 333.5,321.7 333.5,322.5 333.6,322.5 333.6,323.7 333.8,345.0 333.8,316.3 333.8,316.1 333.9,318.3 333.9,318.5 334.0,320.2 334.1,319.9 334.1,321.3 334.3,321.4 334.3,322.7 334.4,322.5 334.4,324.2 334.5,323.9 334.5,324.6 334.6,325.5 334.7,324.5 334.7,325.8 334.7,324.9 334.8,325.9 334.9,326.5 334.9,325.9 335.0,326.6 335.1,326.0 335.1,327.1 335.2,327.0 335.3,326.2 335.3,327.1 335.4,326.7 335.5,326.8 335.5,327.6 335.6,327.1 335.6,327.8 335.7,327.5 335.8,327.8 335.8,327.4 335.9,328.3 336.0,345.3 336.0,318.6 336.1,319.1 336.2,320.9 336.2,321.2 336.3,322.2 336.3,322.3 336.4,323.6 336.4,323.4 336.6,324.8 336.6,324.5 336.6,325.7 336.7,325.5 336.8,326.4 336.8,326.2 336.9,326.0 336.9,326.4 337.1,327.2 337.1,327.7 337.1,326.2 337.2,328.0 337.3,327.1 337.3,346.4 337.4,317.4 337.4,319.5 337.5,320.4 337.6,320.9 337.6,322.4 337.7,322.5 337.8,324.2 337.9,343.1 337.9,316.4 337.9,317.4 338.0,319.3 338.1,319.0 338.2,321.2 338.2,321.7 338.3,322.5 338.3,322.8 338.4,324.4 338.5,323.9 338.5,348.7 338.6,319.4 338.7,321.1 338.7,321.7 338.8,322.7 338.8,322.9 338.9,324.1 339.0,323.9 339.0,325.3 339.1,324.8 339.2,326.3 339.2,325.2 339.3,326.6 339.3,326.7 339.4,328.0 339.5,327.7 339.5,326.5 339.6,327.2 339.7,328.2 339.7,327.7 339.8,328.5 339.8,327.8 339.9,329.2 339.9,328.1 340.0,329.2 340.1,328.4 340.1,329.4 340.2,328.4 340.3,329.1 340.4,329.4 340.4,328.2 340.5,346.0 340.5,318.2 340.6,320.4 340.6,322.3 340.7,322.0 340.8,323.9 340.8,323.7 340.9,325.2 340.9,324.8 341.1,326.4 341.1,326.0 341.2,327.0 341.2,328.0 341.3,326.9 341.3,326.9 341.4,327.7 341.5,328.7 341.5,327.8 341.6,328.2 341.6,329.0 341.7,328.1 341.8,329.5 341.9,344.3 341.9,319.0 342.0,320.2 342.0,321.4 342.1,321.9 342.1,323.3 342.2,322.9 342.3,324.4 342.3,324.1 342.4,326.0 342.5,325.8 342.5,327.1 342.6,327.0 342.6,327.9 342.7,327.4 342.7,328.4 342.8,327.8 342.9,328.8 342.9,328.5 343.0,329.2 343.1,329.8 343.2,328.6 343.2,328.7 343.3,329.6 343.3,330.1 343.4,329.2 343.4,330.6 343.5,329.5 343.6,329.6 343.7,331.1 343.7,329.2 343.7,331.3 343.8,329.8 343.9,331.1 344.0,330.6 344.0,329.6 344.1,331.0 344.1,329.8 344.2,331.2 344.2,330.4 344.3,329.4 344.4,330.9 344.5,330.4 344.5,331.2 344.6,331.0 344.6,329.9 344.7,330.4 344.8,331.0 344.8,330.2 344.9,331.7 345.0,331.6 345.0,330.5 345.1,330.8 345.2,331.4 345.2,331.9 345.2,330.3 345.3,330.7 345.4,349.9 345.5,348.9 345.5,346.4 345.6,346.2 345.7,344.7 345.7,344.2 345.8,342.6 345.8,342.4 345.9,341.2 346.0,340.7 346.0,339.1 346.1,339.7 346.2,339.0 346.3,338.4 346.3,339.2 346.3,338.8 346.4,337.8 346.5,338.1 346.5,337.1 346.6,336.7 346.7,337.4 346.7,336.2 346.7,337.2 346.9,336.8 346.9,336.1 346.9,335.8 347.0,336.9 347.1,336.3 347.2,335.4 347.2,334.9 347.3,333.7 347.3,346.0 347.3,322.2 347.4,323.4 347.6,325.2 347.6,324.5 347.7,325.7 347.7,344.1 347.8,321.5 347.9,321.9 347.9,323.2 347.9,322.8 348.1,324.2 348.1,323.8 348.2,325.4 348.2,343.6 348.3,320.8 348.3,320.5 348.4,323.5 348.5,323.0 348.6,323.9 348.6,323.7 348.7,324.7 348.7,324.5 348.8,325.8 348.8,324.2 348.9,326.0 349.0,325.4 349.0,326.8 349.1,325.9 349.1,326.8 349.2,327.2 349.3,326.1 349.3,327.3 349.4,326.3 349.5,327.0 349.5,326.6 349.6,326.8 349.7,327.3 349.7,327.5 349.8,326.8 349.8,327.7 349.9,326.7 349.9,326.9 350.0,328.3 350.1,326.6 350.1,327.6 350.2,328.4 350.3,326.8 350.3,326.9 350.4,327.8 350.5,327.1 350.5,327.8 350.6,328.3 350.7,327.2 350.7,328.2 350.7,326.6 350.9,347.1 350.9,320.0 350.9,320.5 351.0,322.2 351.1,322.3 351.1,323.4 351.2,323.5 351.3,324.8 351.4,324.7 351.4,325.4 351.5,325.3 351.6,326.0 351.6,325.3 351.7,326.6 351.7,325.7 351.8,326.5 351.8,327.3 351.9,326.0 352.0,326.4 352.0,327.2 352.1,326.9 352.1,327.7 352.2,326.1 352.3,327.4 352.3,327.1 352.4,328.0 352.4,327.3 352.5,328.1 352.6,327.8 352.6,328.8 352.7,327.3 352.8,328.1 352.8,327.5 352.9,346.2 353.0,321.9 353.0,322.8 353.1,322.8 353.1,324.2 353.2,324.0 353.3,325.3 353.3,324.9 353.4,326.0 353.5,326.1 353.5,325.6 353.6,325.8 353.6,326.7 353.7,326.7 353.8,327.7 353.9,326.5 353.9,327.7 354.0,327.0 354.0,327.8 354.1,327.0 354.1,328.6 354.3,327.1 354.3,328.5 354.4,327.9 354.4,328.6 354.4,328.2 354.5,327.5 354.7,328.1 354.7,328.7 354.7,327.4 354.8,328.9 354.8,328.0 354.9,328.9 355.0,327.5 355.0,328.6 355.1,328.2 355.1,329.0 355.2,328.6 355.3,328.1 355.3,328.2 355.3,329.1 355.5,346.1 355.6,320.9 355.6,321.5 355.7,322.7 355.7,322.5 355.8,324.1 355.8,323.5 355.9,324.3 356.0,324.7 356.0,326.1 356.1,325.7 356.1,326.6 356.2,325.7 356.3,327.4 356.3,326.9 356.4,327.9 356.5,327.2 356.5,327.8 356.6,327.5 356.6,328.6 356.8,327.7 356.8,328.8 356.8,329.1 356.9,328.2 357.0,329.1 357.0,327.9 357.2,328.0 357.2,329.2 357.2,329.0 357.3,327.9 357.3,329.1 357.4,327.6 357.5,328.6 357.5,329.1 357.6,329.2 357.7,328.7 357.7,346.4 357.8,322.0 357.8,323.1 357.9,324.3 357.9,323.8 358.0,325.3 358.1,325.4 358.2,326.4 358.3,345.6 358.3,318.9 358.3,318.6 358.4,321.6 358.5,320.8 358.6,322.9 358.6,322.4 358.7,324.2 358.7,324.1 358.8,325.5 358.9,325.0 358.9,326.2 359.0,326.1 359.0,327.0 359.1,326.7 359.1,327.7 359.2,328.1 359.3,327.6 359.4,327.8 359.4,328.7 359.4,327.9 359.5,328.5 359.6,327.8 359.7,345.7 359.7,321.0 359.8,323.4 359.8,322.9 359.9,324.3 360.0,324.4 360.1,325.7 360.1,325.3 360.2,326.3 360.2,326.2 360.3,327.3 360.3,326.7 360.4,327.7 360.5,328.6 360.5,327.2 360.6,327.7 360.6,329.1 360.7,328.1 360.8,329.0 360.8,328.6 360.9,329.2 361.0,328.6 361.0,329.1 361.1,329.5 361.1,328.7 361.3,329.7 361.3,329.1 361.4,329.2 361.4,329.9 361.5,329.9 361.5,329.0 361.6,329.0 361.7,330.3 361.7,330.7 361.8,329.2 361.9,329.6 361.9,330.8 362.0,347.3 362.0,319.4 362.1,321.6 362.2,323.1 362.2,323.0 362.3,324.9 362.3,324.4 362.4,325.2 362.4,325.7 362.5,327.2 362.6,326.5 362.7,328.0 362.8,327.3 362.8,327.8 362.9,344.3 362.9,322.5 362.9,323.9 363.1,325.6 363.1,325.2 363.2,326.1 363.2,326.1 363.3,327.7 363.3,326.8 363.4,327.8 363.5,327.6 363.5,328.4 363.6,344.0 363.6,321.8 363.7,322.4 363.8,324.2 363.8,324.3 363.9,325.9 364.0,325.7 364.1,327.4 364.1,327.6 364.2,326.5 364.2,327.1 364.3,328.3 364.4,328.3 364.4,329.1 364.5,327.7 364.5,328.9 364.7,328.5 364.7,329.8 364.8,328.7 364.8,330.2 364.9,328.6 364.9,330.2 365.0,329.4 365.0,330.5 365.1,329.9 365.1,330.8 365.2,329.9 365.3,330.7 365.3,329.8 365.4,330.6 365.5,331.0 365.5,330.2 365.6,331.0 365.6,329.9 365.8,330.1 365.8,331.2 365.8,330.1 365.9,331.1 365.9,331.1 366.0,330.4 366.1,330.4 366.2,331.6 366.2,331.2 366.3,330.6 366.3,330.3 366.4,331.5 366.4,331.4 366.5,330.6 366.7,330.7 366.7,331.6 366.7,331.4 366.8,330.6 366.9,330.9 366.9,331.4 366.9,330.6 367.0,331.7 367.1,331.6 367.1,330.8 367.2,331.8 367.3,330.5 367.3,348.2 367.4,346.8 367.5,346.7 367.5,345.5 367.6,345.0 367.6,344.1 367.7,344.4 367.8,342.5 367.8,343.0 367.9,341.9 368.0,342.6 368.0,340.5 368.1,341.0 368.1,340.0 368.2,340.4 368.3,339.8 368.3,339.9 368.4,338.8 368.5,338.7 368.5,338.3 368.6,338.6 368.7,337.9 368.7,337.4 368.8,338.1 368.9,337.9 368.9,336.7 369.0,336.6 369.0,338.2 369.1,336.7 369.2,337.2 369.2,336.4 369.3,337.3 369.3,337.3 369.4,336.0 369.5,336.6 369.5,336.9 369.6,336.2 369.7,335.8 369.7,336.5 369.8,335.4 369.8,336.2 369.9,336.5 369.9,335.5 370.1,336.1 370.1,336.9 370.1,335.5 370.2,336.2 370.3,334.6 370.3,335.7 370.4,336.2 370.5,336.5 370.5,335.4 370.6,336.5 370.7,335.1 370.7,336.3 370.8,335.5 370.8,335.4 370.9,336.2 371.0,335.6 371.0,336.4 371.1,336.2 371.2,335.3 371.2,336.9 371.3,335.7 371.3,335.9 371.4,336.8 371.5,335.9 371.5,336.5 371.6,336.0 371.7,337.1 371.8,336.7 371.8,335.8 371.9,336.6 371.9,335.8 372.0,336.6 372.0,336.0 372.1,336.8 372.2,335.2 372.3,345.3 372.3,317.4 372.3,319.2 372.4,321.5 372.5,321.5 372.5,322.8 372.7,323.4 372.7,323.9 372.7,323.8 372.8,325.0 372.9,324.6 372.9,324.9 373.0,345.7 373.0,316.4 373.1,317.3 373.2,319.3 373.2,318.9 373.3,321.4 373.3,321.3 373.4,322.4 373.5,321.9 373.5,323.5 373.6,323.2 373.7,324.7 373.7,324.4 373.8,323.8 373.8,324.6 373.9,325.5 374.0,324.8 374.0,325.8 374.1,325.4 374.1,326.1 374.3,325.8 374.3,326.2 374.3,325.9 374.4,326.7 374.5,327.3 374.5,326.0 374.6,325.9 374.7,327.0 374.7,326.9 374.7,326.3 374.8,326.0 374.9,327.2 375.0,327.6 375.0,326.5 375.1,327.2 375.2,325.8 375.2,327.5 375.2,326.8 375.4,327.8 375.4,326.4 375.5,343.6 375.5,318.3 375.6,318.9 375.7,320.0 375.7,320.6 375.8,321.5 375.8,321.4 375.9,322.6 376.0,322.9 376.0,324.2 376.1,323.1 376.1,324.5 376.3,347.2 376.3,318.6 376.3,319.2 376.4,320.8 376.5,320.6 376.6,322.6 376.6,322.3 376.7,323.6 376.7,323.3 376.8,344.5 376.8,318.8 376.9,320.4 376.9,320.3 377.0,322.4 377.1,322.4 377.1,323.1 377.2,323.4 377.3,324.6 377.3,324.7 377.4,324.2 377.4,325.6 377.5,326.1 377.6,342.6 377.7,317.7 377.7,318.7 377.8,320.7 377.8,320.9 377.9,321.9 378.0,344.4 378.1,316.6 378.1,317.6 378.2,319.7 378.2,319.8 378.3,321.0 378.3,321.3 378.4,322.4 378.5,322.7 378.6,323.7 378.6,324.0 378.7,325.2 378.7,324.4 378.8,325.7 378.8,325.5 378.9,343.1 379.0,318.6 379.1,320.5 379.1,321.2 379.1,322.1 379.2,322.4 379.3,324.3 379.3,323.6 379.4,343.6 379.5,315.5 379.6,319.1 379.6,319.4 379.7,320.6 379.7,320.5 379.8,322.1 379.9,344.0 379.9,316.1 380.0,318.3 380.0,319.3 380.1,319.5 380.2,321.8 380.2,321.9 380.3,322.7 380.3,323.2 380.4,324.6 380.5,324.1 380.6,325.7 380.6,325.5 380.7,326.6 380.7,325.8 380.8,326.9 380.9,327.0 380.9,327.6 380.9,326.5 381.0,327.6 381.1,328.0 381.2,326.9 381.2,328.3 381.3,327.8 381.3,328.7 381.4,327.8 381.5,328.8 381.5,328.0 381.6,329.1 381.6,328.0 381.7,328.5 381.8,329.2 381.8,328.6 381.9,329.2 382.0,328.2 382.0,329.6 382.1,328.5 382.2,329.8 382.2,329.6 382.3,329.0 382.3,344.1 382.3,319.1 382.5,321.2 382.6,323.0 382.6,322.5 382.7,324.5 382.7,324.0 382.8,325.2 382.9,344.9 382.9,318.8 383.0,319.5 383.0,321.4 383.1,322.4 383.2,323.1 383.3,323.7 383.3,324.7 383.3,324.3 383.4,325.9 383.5,325.7 383.5,326.8 383.7,345.2 383.7,318.7 383.7,319.0 383.8,320.7 383.8,322.0 383.9,323.4 384.0,323.1 384.1,324.3 384.1,324.6 384.1,325.8 384.2,325.0 384.3,326.7 384.4,326.9 384.4,327.4 384.5,328.3 384.5,327.6 384.7,328.0 384.7,328.7 384.7,328.2 384.8,328.8 384.9,328.2 384.9,328.8 385.0,328.6 385.1,329.4 385.1,328.1 385.2,329.8 385.3,344.6 385.3,317.4 385.3,319.0 385.4,320.4 385.5,321.3 385.6,322.8 385.6,322.4 385.6,324.7 385.8,324.6 385.8,326.4 385.8,325.1 385.9,327.0 386.0,327.7 386.0,326.8 386.2,327.1 386.2,328.7 386.2,328.0 386.2,328.3 386.3,328.3 386.4,329.4 386.5,328.1 386.6,329.7 386.6,328.9 386.7,329.9 386.7,329.2 386.8,330.2 386.8,329.3 386.9,330.4 387.0,330.1 387.0,329.8 387.1,330.7 387.2,330.0 387.2,330.2 387.3,330.8 387.4,330.4 387.4,330.0 387.5,330.1 387.5,330.8 387.6,331.2 387.6,330.2 387.8,331.3 387.8,329.7 387.9,330.2 387.9,330.7 388.0,330.5 388.1,331.2 388.1,330.4 388.1,331.3 388.2,331.5 388.2,330.3 388.3,330.8 388.4,331.5 388.5,331.6 388.6,330.7 388.6,331.3 388.6,330.4 388.8,331.6 388.8,330.4 388.9,331.1 388.9,330.3 389.0,330.8 389.0,331.4 389.1,331.3 389.2,330.9 389.3,330.4 389.3,331.6 389.3,330.9 389.4,331.9 389.5,331.5 389.5,330.2 389.6,331.2 389.7,349.7 389.7,348.3 389.8,346.2 389.8,345.6 389.9,344.2 390.0,344.2 390.1,341.3 390.1,342.3 390.2,340.7 390.2,341.3 390.3,340.0 390.3,340.7 390.4,338.7 390.5,339.0 390.5,338.0 390.6,339.3 390.7,337.8 390.7,338.5 390.7,337.4 390.8,338.1 390.9,337.2 391.0,337.8 391.0,336.7 391.1,337.5 391.1,336.4 391.2,337.6 391.3,336.7 391.3,337.1 391.4,334.7 391.5,344.5 391.6,319.3 391.6,318.7 391.7,321.4 391.7,322.1 391.8,323.0 391.9,322.8 391.9,324.2 392.0,324.1 392.0,325.1 392.1,325.4 392.2,324.9 392.2,326.3 392.3,325.2 392.3,325.5 392.4,346.2 392.4,321.6 392.5,322.6 392.6,322.3 392.6,324.2 392.7,324.2 392.8,324.7 392.8,325.1 392.9,324.4 393.0,325.4 393.1,319.7 393.1,320.0 393.2,322.0 393.2,320.9 393.3,322.6 393.3,322.6 393.4,323.7 393.5,324.6 393.5,323.8 393.6,324.6 393.7,325.1 393.8,325.5 393.8,324.9 393.8,325.3 393.9,326.2 394.0,326.6 394.0,325.3 394.2,326.1 394.2,327.0 394.3,327.2 394.3,326.4 394.4,326.4 394.4,327.9 394.5,327.3 394.5,326.4 394.6,327.1 394.7,327.3 394.7,326.3 394.8,327.5 394.8,327.8 394.9,326.9 395.0,327.4 395.0,327.9 395.1,328.2 395.1,327.2 395.2,326.7 395.3,328.3 395.3,326.8 395.4,328.1 395.5,328.0 395.6,327.1 395.6,345.4 395.7,319.9 395.7,321.2 395.8,322.6 395.8,321.9 395.9,323.7 396.0,323.2 396.0,324.3 396.1,324.7 396.2,325.6 396.2,325.4 396.3,326.2 396.4,325.5 396.4,326.2 396.5,326.1 396.5,327.2 396.6,346.5 396.6,322.2 396.7,323.2 396.8,324.6 396.9,324.8 396.9,325.4 397.0,324.7 397.0,325.8 397.1,326.3 397.1,325.2 397.3,346.4 397.3,319.8 397.3,320.3 397.4,321.6 397.5,322.2 397.6,323.2 397.6,323.2 397.7,324.7 397.7,324.3 397.8,325.1 397.9,325.2 397.9,326.2 398.0,325.4 398.0,326.4 398.2,345.0 398.2,320.9 398.2,320.8 398.3,322.6 398.3,322.2 398.4,323.9 398.5,323.1 398.5,325.2 398.7,325.4 398.7,325.0 398.7,342.8 398.8,320.3 398.8,321.6 398.9,324.1 399.0,323.1 399.1,324.4 399.1,323.6 399.1,325.6 399.2,324.9 399.3,326.5 399.3,325.6 399.4,327.0 399.5,326.7 399.5,327.6 399.6,326.4 399.7,343.4 399.7,321.1 399.8,322.9 399.9,322.9 399.9,324.1 400.0,324.5 400.0,325.2 400.1,325.3 400.1,326.4 400.2,326.5 400.3,325.6 400.4,326.5 400.4,327.5 400.5,344.9 400.6,318.1 400.6,318.3 400.7,320.2 400.7,320.3 400.8,322.2 400.9,322.4 400.9,323.3 401.0,323.4 401.1,324.7 401.1,324.7 401.2,325.3 401.2,325.5 401.3,326.4 401.4,344.7 401.4,321.6 401.5,322.5 401.6,323.5 401.6,323.5 401.7,324.8 401.7,324.8 401.8,325.9 401.8,325.5 401.9,326.1 402.0,325.8 402.1,327.2 402.1,327.0 402.2,328.0 402.2,328.1 402.3,327.3 402.4,327.4 402.4,328.5 402.5,327.7 402.6,328.9 402.6,329.1 402.6,327.6 402.7,344.1 402.8,323.2 402.9,324.4 402.9,325.4 403.0,325.0 403.0,326.1 403.1,326.2 403.1,326.9 403.2,326.5 403.3,328.0 403.4,328.7 403.4,327.8 403.5,328.5 403.5,327.8 403.6,328.0 403.6,329.0 403.7,327.7 403.8,329.1 403.8,328.9 403.9,329.4 404.0,327.7 404.0,328.9 404.1,329.6 404.2,328.7 404.3,328.8 404.3,329.5 404.4,328.9 404.4,329.7 404.5,329.4 404.6,330.0 404.6,341.9 404.7,322.5 404.8,323.9 404.8,325.3 404.8,324.7 404.9,326.7 405.0,326.0 405.0,327.0 405.1,327.6 405.2,326.8 405.2,327.4 405.3,327.9 405.4,327.6 405.4,328.8 405.5,328.3 405.5,328.7 405.6,328.9 405.7,328.3 405.7,328.6 405.8,329.7 405.9,329.5 405.9,328.8 406.0,329.0 406.1,329.9 406.1,330.4 406.1,329.3 406.2,330.4 406.3,329.4 406.4,330.0 406.4,329.5 406.5,330.5 406.6,329.5 406.6,330.3 406.7,329.7 406.7,330.5 406.8,329.9 406.9,330.3 406.9,329.6 407.0,329.9 407.1,330.5 407.2,345.7 407.2,322.7 407.2,322.5 407.3,324.4 407.4,324.4 407.4,325.6 407.5,325.5 407.6,326.7 407.6,344.1 407.7,322.9 407.7,323.1 407.8,324.7 407.9,324.9 407.9,325.6 408.0,326.1 408.0,326.9 408.1,327.1 408.2,327.8 408.2,327.5 408.3,328.4 408.4,327.3 408.4,328.7 408.5,328.5 408.5,329.3 408.6,329.1 408.6,329.7 408.7,330.1 408.8,328.9 408.9,329.7 408.9,330.5 409.0,331.4 409.0,329.1 409.2,329.7 409.2,330.5 409.3,330.5 409.3,329.6 409.4,330.8 409.4,330.0 409.5,331.1 409.6,330.5 409.6,330.9 409.6,330.4 409.7,330.4 409.7,331.1 409.9,330.1 409.9,331.3 410.0,331.5 410.1,330.4 410.1,330.1 410.2,331.2 410.2,330.6 410.3,331.4 410.4,331.4 410.4,330.2 410.5,330.4 410.5,331.6 410.6,330.1 410.7,331.6 410.7,330.6 410.8,331.4 410.9,330.6 410.9,331.8 411.0,331.1 411.0,330.4 411.1,330.9 411.2,331.6 411.2,331.5 411.3,330.4 411.4,330.6 411.4,348.0 411.5,347.0 411.6,345.5 411.6,345.5 411.7,344.4 411.7,343.9 411.8,343.1 411.8,343.0 411.9,341.8 412.0,342.2 412.0,341.3 412.1,341.4 412.2,340.2 412.2,340.5 412.3,339.8 412.4,340.0 412.4,339.2 412.5,339.4 412.6,338.2 412.6,338.8 412.7,337.6 412.7,338.4 412.8,338.0 412.9,338.5 412.9,337.3 413.0,337.2 413.1,337.7 413.1,336.6 413.2,337.5 413.2,336.8 413.3,337.2 413.3,336.4 413.4,337.1 413.6,336.9 413.6,336.3 413.6,336.7 413.7,336.3 413.7,335.7 413.8,336.6 413.9,335.4 413.9,336.9 414.0,334.3 414.1,336.3 414.1,335.2 414.2,336.1 414.2,336.3 414.3,335.3 414.3,335.4 414.4,336.4 414.5,336.2 414.5,335.1 414.7,335.0 414.7,336.9 414.7,336.4 414.8,335.2 414.9,334.8 414.9,336.3 415.0,335.0 415.0,336.7 415.1,335.4 415.2,336.3 415.2,336.2 415.3,335.5 415.4,337.1 415.4,335.8 415.5,335.4 415.6,336.4 415.6,335.6 415.7,336.5 415.7,336.4 415.8,335.8 415.9,336.5 415.9,335.9 416.0,335.9 416.0,336.9 416.1,337.2 416.2,335.9 416.2,336.2 416.3,334.7 416.4,344.5 416.4,314.5 416.5,317.8 416.6,319.5 416.6,320.1 416.7,322.0 416.7,321.7 416.8,322.6 416.8,323.0 416.9,323.9 417.0,323.2 417.1,324.8 417.1,325.4 417.2,324.4 417.2,324.4 417.3,325.0 417.4,324.7 417.4,326.2 417.5,325.0 417.6,326.1 417.6,325.4 417.7,326.2 417.8,325.7 417.8,326.5 417.9,326.5 418.0,325.7 418.0,326.3 418.0,326.9 418.1,326.0 418.2,326.8 418.2,327.1 418.3,326.0 418.4,345.6 418.4,315.0 418.5,316.7 418.6,318.8 418.6,318.1 418.7,320.1 418.7,319.6 418.8,322.1 418.9,344.0 418.9,315.7 419.0,315.9 419.1,318.3 419.1,318.8 419.2,320.7 419.2,320.0 419.3,321.8 419.4,322.1 419.4,323.4 419.5,322.6 419.5,324.2 419.6,324.0 419.7,324.6 419.7,324.0 419.8,325.4 419.9,324.8 419.9,325.7 420.0,325.4 420.0,326.3 420.1,325.5 420.2,326.5 420.3,326.3 420.3,327.1 420.4,345.3 420.4,318.6 420.5,319.0 420.6,320.7 420.6,320.5 420.7,322.2 420.7,322.3 420.8,323.4 420.8,343.0 420.9,315.2 421.0,317.9 421.1,319.7 421.1,320.4 421.2,321.6 421.2,320.9 421.3,323.1 421.3,322.9 421.4,323.9 421.5,324.0 421.6,325.3 421.6,324.2 421.7,342.8 421.7,318.5 421.8,320.4 421.9,320.7 421.9,322.3 422.0,321.9 422.1,322.9 422.1,323.0 422.2,324.2 422.2,324.4 422.3,325.0 422.3,325.1 422.4,325.7 422.5,346.4 422.5,318.2 422.6,319.6 422.7,321.2 422.7,321.0 422.8,323.0 422.8,322.7 423.0,324.2 423.0,323.6 423.0,325.0 423.1,324.8 423.2,325.8 423.2,325.1 423.3,326.6 423.4,326.1 423.4,327.3 423.5,326.3 423.6,327.1 423.6,326.7 423.7,327.4 423.8,327.3 423.8,328.2 423.9,328.2 423.9,327.5 424.0,328.6 424.1,327.5 424.1,327.4 424.1,328.5 424.2,327.7 424.3,328.7 424.4,345.7 424.4,316.2 424.5,318.4 424.6,320.4 424.6,320.7 424.7,322.3 424.7,322.0 424.8,323.5 424.8,323.3 424.9,324.1 425.0,324.4 425.1,326.0 425.1,325.6 425.2,326.4 425.2,325.5 425.3,327.1 425.3,326.3 425.4,327.2 425.5,327.9 425.6,327.2 425.6,327.5 425.7,328.3 425.8,327.9 425.8,328.8 425.9,327.8 426.0,329.1 426.0,328.2 426.1,329.4 426.1,329.1 426.2,328.3 426.2,329.2 426.3,328.1 426.3,345.6 426.4,320.2 426.5,322.0 426.6,322.9 426.6,322.8 426.6,324.2 426.7,324.7 426.8,325.5 426.9,325.8 426.9,326.4 427.0,325.7 427.0,326.7 427.2,328.3 427.2,326.4 427.3,327.5 427.3,328.6 427.4,328.3 427.4,327.6 427.5,328.0 427.5,329.0 427.7,328.4 427.7,329.5 427.8,328.0 427.8,346.4 427.9,318.2 427.9,319.7 428.0,319.6 428.1,322.1 428.1,322.1 428.2,323.9 428.2,323.7 428.3,324.8 428.3,324.3 428.4,326.1 428.5,325.9 428.6,327.0 428.6,327.0 428.7,328.0 428.7,345.7 428.8,318.5 428.8,320.3 429.0,322.6 429.0,322.7 429.1,324.0 429.1,323.9 429.2,325.1 429.2,325.5 429.3,326.4 429.4,326.2 429.4,326.7 429.5,327.2 429.5,328.2 429.6,328.5 429.7,327.4 429.7,327.8 429.8,329.3 429.9,329.2 430.0,328.3 430.0,329.8 430.0,329.0 430.1,329.1 430.2,329.8 430.3,329.8 430.3,329.5 430.4,330.2 430.4,329.1 430.5,330.2 430.5,329.8 430.6,330.5 430.7,329.5 430.7,329.4 430.8,330.6 430.9,330.9 430.9,329.5 431.0,330.4 431.1,329.8 431.1,329.9 431.2,331.2 431.3,330.6 431.3,330.3 431.4,330.0 431.4,330.6 431.5,329.6 431.6,331.6 431.6,329.8 431.7,331.4 431.7,330.5 431.8,331.1 431.9,330.7 431.9,330.1 432.0,330.4 432.0,331.1 432.1,331.2 432.2,330.3 432.2,331.0 432.3,330.5 432.4,331.3 432.5,330.5 432.5,330.6 432.5,331.3 432.6,331.0 432.7,330.8 432.7,330.5 432.8,331.9 432.9,330.6 433.0,331.8 433.0,331.6 433.1,330.0 433.1,331.1 433.2,349.1 433.2,347.3 433.3,345.8 433.3,345.3 433.4,343.6 433.5,344.0 433.6,342.2 433.6,342.6 433.6,341.1 433.7,341.4 433.8,340.1 433.9,340.7 434.0,339.6 434.0,339.6 434.0,340.1 434.1,339.6 434.2,338.8 434.2,339.5 434.2,337.9 434.4,338.9 434.4,337.8 434.5,338.4 434.5,337.2 434.7,337.3 434.7,338.4 434.8,338.5 434.8,337.5 434.9,337.9 434.9,336.8 435.1,345.7 435.1,320.3 435.1,320.5 435.2,322.6 435.2,322.4 435.3,324.0 435.4,324.4 435.4,325.4 435.5,342.4 435.5,320.2 435.6,321.1 435.7,322.6 435.8,322.9 435.8,324.5 435.9,323.5 435.9,324.9 436.0,324.3 436.1,324.9 436.2,324.9 436.2,325.9 436.3,343.8 436.3,321.3 436.3,321.3 436.4,322.8 436.5,322.9 436.6,323.9 436.7,324.5 436.7,323.7 436.7,325.3 436.8,324.3 436.9,324.4 436.9,325.4 437.0,325.9 437.1,325.2 437.1,326.3 437.2,325.6 437.2,326.0 437.3,326.8 437.3,325.1 437.4,326.8 437.5,326.1 437.5,327.3 437.6,326.4 437.7,327.4 437.7,327.2 437.8,326.2 437.9,327.6 438.0,326.8 438.0,327.2 438.0,326.5 438.1,327.5 438.2,326.7 438.3,327.5 438.3,326.9 438.4,328.2 438.4,327.2 438.5,345.8 438.5,319.5 438.6,321.0 438.7,322.5 438.7,322.4 438.8,323.5 438.9,323.5 438.9,324.8 439.0,324.4 439.0,325.3 439.2,324.6 439.2,325.9 439.2,325.3 439.3,326.6 439.4,326.5 439.4,326.1 439.5,327.3 439.6,325.9 439.6,326.7 439.7,327.3 439.8,327.2 439.8,326.5 439.9,326.8 440.0,327.6 440.0,327.9 440.1,327.0 440.1,326.9 440.2,327.5 440.3,327.1 440.3,328.3 440.4,327.2 440.4,328.0 440.5,346.1 440.5,320.6 440.6,321.8 440.7,323.0 440.7,323.3 440.8,324.8 440.8,324.3 440.9,325.4 441.0,344.3 441.0,320.2 441.1,321.4 441.2,323.6 441.2,322.9 441.3,324.5 441.4,323.4 441.4,325.1 441.5,324.9 441.5,325.9 441.6,325.3 441.7,326.3 441.7,326.0 441.8,327.0 441.9,345.1 441.9,320.0 442.0,320.9 442.1,322.5 442.1,322.2 442.2,323.6 442.2,323.9 442.3,325.1 442.4,324.9 442.4,326.3 442.5,325.2 442.6,326.4 442.6,326.5 442.7,325.9 442.8,342.4 442.8,320.5 442.9,321.5 442.9,323.0 443.0,322.5 443.1,324.1 443.1,324.1 443.2,325.2 443.2,325.0 443.3,325.6 443.4,326.2 443.5,326.7 443.5,326.3 443.6,327.7 443.6,346.3 443.7,320.1 443.7,321.5 443.8,322.4 443.8,322.3 443.9,323.8 444.0,323.7 444.1,325.0 444.1,325.0 444.2,326.0 444.3,325.2 444.3,327.2 444.3,326.0 444.4,326.8 444.5,326.7 444.5,327.9 444.6,327.6 444.7,327.0 444.7,328.3 444.8,327.5 444.9,328.6 444.9,327.6 445.0,327.7 445.0,328.6 445.1,329.1 445.2,327.9 445.2,328.0 445.3,328.9 445.4,328.2 445.5,329.1 445.5,328.2 445.6,328.9 445.6,329.1 445.6,328.1 445.7,328.7 445.8,330.0 445.9,328.4 445.9,329.5 446.0,329.4 446.1,328.7 446.2,328.8 446.2,329.8 446.2,347.5 446.3,323.3 446.4,324.3 446.4,325.2 446.5,324.4 446.6,326.5 446.6,325.8 446.6,326.8 446.7,326.4 446.8,327.7 446.9,326.9 446.9,328.0 447.0,328.9 447.1,327.7 447.1,328.7 447.2,328.0 447.3,328.9 447.3,327.8 447.4,329.2 447.4,328.3 447.5,328.3 447.5,329.3 447.7,328.8 447.7,329.7 447.8,329.6 447.8,329.0 447.8,328.6 448.0,329.7 448.0,328.6 448.1,329.8 448.1,328.8 448.2,330.0 448.2,330.0 448.3,329.1 448.3,329.2 448.4,329.9 448.5,329.5 448.6,330.2 448.7,330.2 448.7,329.2 448.7,345.7 448.7,321.0 448.9,322.5 448.9,324.1 449.0,324.7 449.0,325.2 449.1,324.8 449.2,326.4 449.2,326.2 449.3,345.0 449.4,322.6 449.5,324.2 449.5,324.2 449.6,325.3 449.6,325.2 449.7,326.1 449.8,325.3 449.8,326.7 449.9,326.9 450.0,328.5 450.0,328.3 450.1,327.5 450.1,328.0 450.2,329.1 450.3,344.3 450.3,322.7 450.4,323.7 450.4,324.7 450.5,324.9 450.6,326.0 450.6,326.0 450.7,327.3 450.7,326.9 450.8,328.2 450.9,327.9 450.9,328.2 451.0,328.1 451.0,328.8 451.1,329.4 451.2,328.6 451.2,328.7 451.3,329.3 451.3,329.8 451.5,329.3 451.6,328.8 451.6,330.3 451.7,329.3 451.7,330.2 451.7,330.4 451.8,329.6 451.8,330.6 451.9,329.6 452.0,330.2 452.1,330.4 452.1,330.7 452.2,329.8 452.2,329.8 452.3,330.7 452.4,330.1 452.4,331.0 452.5,331.2 452.6,329.9 452.6,329.8 452.7,331.0 452.8,331.0 452.8,330.2 452.9,330.4 453.0,331.3 453.0,331.3 453.1,329.9 453.1,330.1 453.2,331.0 453.2,329.9 453.2,331.7 453.4,331.5 453.4,330.5 453.5,330.2 453.6,331.1 453.7,330.6 453.7,331.8 453.7,331.1 453.8,330.3 453.9,330.4 453.9,331.2 454.0,331.4 454.1,330.7 454.1,331.4 454.2,330.2 454.3,331.7 454.3,330.6 454.4,330.2 454.5,331.8 454.5,331.4 454.5,330.7 454.7,331.1 454.7,330.0 454.8,331.5 454.8,330.5 454.9,330.3 454.9,331.7 455.0,330.6 455.0,331.4 455.2,329.7 455.2,350.4 455.2,349.7 455.3,348.2 455.4,347.5 455.4,346.3 455.5,346.5 455.5,344.9 455.6,345.3 455.7,343.7 455.7,343.9 455.8,342.1 455.9,342.5 456.0,341.5 456.0,341.8 456.1,340.5 456.2,340.1 456.2,340.9 456.2,340.7 456.3,339.5 456.4,339.8 456.4,338.9 456.5,338.4 456.6,339.2 456.6,338.0 456.6,338.5 456.7,338.5 456.8,337.7 456.9,338.1 456.9,336.9 457.0,338.1 457.0,337.1 457.1,337.9 457.2,336.4 457.2,337.8 457.3,336.5 457.4,336.5 457.5,337.1 457.5,336.6 457.5,336.0 457.6,337.1 457.7,335.6 457.8,336.5 457.8,336.0 457.9,337.0 457.9,335.7 458.0,336.6 458.0,336.0 458.1,336.3 458.2,335.8 458.2,336.7 458.3,335.5 458.4,337.2 458.5,336.4 458.5,336.6 458.6,335.9 458.6,337.0 458.7,335.6 458.8,336.9 458.8,335.6 458.8,335.7 459.0,336.5 459.0,336.8 459.0,335.6 459.1,336.9 459.2,335.6 459.3,336.9 459.3,336.3 459.4,336.0 459.5,336.9 459.5,336.2 459.5,336.7 459.7,336.9 459.7,336.3 459.8,337.2 459.8,336.4 459.9,337.1 459.9,335.8 460.0,336.0 460.1,334.2 460.1,343.3 460.1,316.9 460.2,318.9 460.3,321.2 460.4,321.4 460.5,322.2 460.5,322.7 460.6,324.3 460.7,324.6 460.7,324.3 460.7,324.0 460.8,325.0 460.9,345.8 461.0,319.4 461.0,319.2 461.1,321.1 461.1,320.9 461.2,322.5 461.2,322.3 461.3,323.5 461.4,323.6 461.5,324.4 461.5,323.5 461.5,324.6 461.6,324.8 461.6,325.3 461.8,325.1 461.8,346.4 461.9,316.0 461.9,317.8 462.0,317.9 462.0,319.9 462.1,320.6 462.2,321.6 462.3,321.5 462.3,322.9 462.4,322.8 462.5,324.8 462.5,324.1 462.5,325.1 462.6,324.0 462.7,325.8 462.7,347.3 462.8,317.4 462.9,319.0 462.9,320.4 463.0,319.9 463.1,322.4 463.2,322.0 463.2,323.3 463.2,323.4 463.3,323.8 463.4,323.6 463.5,325.0 463.5,341.8 463.5,317.2 463.6,318.9 463.7,320.3 463.7,320.7 463.8,322.4 463.9,322.4 464.0,323.2 464.0,323.3 464.1,324.5 464.1,323.4 464.1,324.9 464.2,324.8 464.3,325.6 464.4,326.2 464.4,325.7 464.5,326.8 464.6,326.0 464.6,327.0 464.7,325.7 464.7,326.7 464.8,327.6 464.9,326.8 464.9,327.7 465.0,327.7 465.0,326.7 465.1,326.8 465.2,327.9 465.3,327.2 465.3,328.1 465.4,326.7 465.4,328.1 465.5,343.3 465.5,318.0 465.6,320.3 465.7,321.3 465.8,322.0 465.8,323.1 465.9,322.4 466.0,324.3 466.0,324.1 466.1,325.4 466.1,324.7 466.2,326.3 466.2,325.2 466.3,326.3 466.4,326.2 466.4,327.0 466.6,326.8 466.6,327.7 466.6,326.5 466.7,327.6 466.8,327.9 466.8,327.6 466.9,328.1 467.0,327.4 467.0,327.4 467.1,328.4 467.1,327.6 467.2,328.6 467.3,328.7 467.3,327.9 467.4,328.9 467.4,327.6 467.6,328.8 467.6,327.6 467.7,328.9 467.7,328.1 467.7,344.0 467.8,316.7 467.9,318.3 468.0,320.2 468.0,320.4 468.1,322.5 468.1,322.2 468.2,323.3 468.2,323.5 468.3,324.8 468.4,324.6 468.4,325.5 468.5,325.7 468.6,326.8 468.6,343.7 468.6,315.6 468.7,318.7 468.8,320.7 468.9,320.8 469.0,323.2 469.0,322.4 469.1,323.7 469.1,324.0 469.2,325.3 469.2,324.9 469.3,326.1 469.4,325.4 469.5,326.6 469.5,326.8 469.5,327.6 469.6,327.1 469.7,328.0 469.8,327.5 469.8,328.1 469.9,327.7 470.0,328.7 470.0,328.2 470.1,345.6 470.1,316.9 470.2,319.3 470.2,318.5 470.3,320.9 470.4,321.1 470.4,322.7 470.5,323.3 470.6,324.6 470.6,324.4 470.7,325.6 470.7,325.6 470.8,326.3 470.9,344.9 470.9,319.9 471.0,320.8 471.1,323.1 471.1,322.4 471.2,324.4 471.2,324.0 471.3,325.6 471.4,325.5 471.4,326.2 471.5,326.4 471.6,327.5 471.6,327.4 471.7,327.7 471.8,327.2 471.8,328.3 471.9,329.2 471.9,328.2 472.0,328.1 472.1,329.7 472.1,328.6 472.2,329.8 472.3,343.9 472.3,319.6 472.4,321.6 472.4,322.9 472.5,323.2 472.6,324.9 472.6,324.4 472.7,326.1 472.8,325.7 472.8,326.7 472.9,326.0 473.0,327.3 473.1,327.5 473.1,327.9 473.2,329.0 473.2,327.9 473.3,328.1 473.3,329.1 473.4,328.5 473.4,329.1 473.5,328.9 473.6,329.4 473.7,329.3 473.7,329.9 473.8,329.4 473.9,330.1 473.9,330.4 473.9,329.4 474.0,330.1 474.0,330.8 474.1,330.9 474.2,329.9 474.2,330.4 474.3,330.0 474.4,329.5 474.4,330.7 474.5,329.8 474.5,330.8 474.7,330.0 474.7,330.8 474.7,330.3 474.8,331.0 474.9,330.3 474.9,331.1 475.0,329.9 475.1,331.3 475.1,329.9 475.2,330.9 475.2,331.5 475.3,329.9 475.4,330.2 475.4,331.3 475.6,330.5 475.6,331.4 475.7,331.5 475.7,330.4 475.8,329.9 475.8,331.4 475.9,331.6 475.9,330.5 476.0,331.0 476.1,330.5 476.1,331.1 476.1,330.0 476.3,331.4 476.3,330.2 476.4,330.7 476.5,331.4 476.5,331.8 476.5,331.1 476.6,330.7 476.7,331.0 476.8,330.8 476.8,349.4 476.9,347.1 477.0,345.8 477.0,345.2 477.1,343.8 477.1,343.9 477.2,342.1 477.2,341.6 477.3,341.1 477.4,340.9 477.4,340.0 477.5,340.1 477.6,339.2 477.6,339.5 477.7,338.6 477.8,339.2 477.9,337.6 477.9,337.5 478.0,339.1 478.0,338.3 478.0,337.1 478.1,337.0 478.2,337.7 478.3,337.8 478.3,336.7 478.4,336.9 478.5,337.9 478.5,337.7 478.6,335.5 478.7,345.1 478.7,319.0 478.7,319.9 478.8,322.5 478.9,322.0 478.9,324.0 479.0,323.6 479.1,324.7 479.2,325.2 479.2,325.9 479.2,326.0 479.3,325.1 479.4,326.5 479.4,325.6 479.6,326.8 479.6,326.2 479.6,326.0 479.7,326.9 479.8,326.2 479.8,326.9 479.9,326.5 480.0,327.4 480.0,327.3 480.0,326.0 480.1,326.4 480.2,327.6 480.3,326.6 480.3,345.4 480.4,322.0 480.4,322.8 480.5,323.0 480.5,323.9 480.7,324.3 480.7,324.9 480.8,324.4 480.8,325.2 480.9,325.7 481.0,324.9 481.0,326.2 481.0,325.8 481.1,325.6 481.2,326.4 481.3,326.7 481.3,326.3 481.4,327.4 481.4,326.6 481.5,327.4 481.6,326.5 481.7,326.6 481.7,327.5 481.8,326.4 481.8,343.9 481.9,321.6 481.9,322.9 482.0,322.7 482.1,323.7 482.1,323.5 482.2,325.1 482.2,324.1 482.3,325.3 482.4,345.2 482.4,320.5 482.6,321.4 482.6,322.5 482.6,323.1 482.7,324.0 482.8,323.2 482.8,324.9 482.9,324.4 483.0,325.8 483.0,343.4 483.0,320.5 483.2,322.2 483.2,323.6 483.3,323.7 483.3,324.8 483.4,323.7 483.5,325.3 483.5,325.3 483.6,327.0 483.7,325.1 483.7,345.0 483.8,320.0 483.8,321.7 483.9,321.8 484.0,323.3 484.0,323.2 484.1,324.1 484.1,323.3 484.2,325.0 484.2,324.6 484.3,325.8 484.4,326.7 484.4,325.3 484.5,325.5 484.5,326.9 484.6,327.4 484.7,326.4 484.8,326.4 484.8,328.0 484.9,327.1 485.0,328.2 485.0,327.4 485.1,327.8 485.2,328.1 485.2,326.8 485.3,327.7 485.4,328.4 485.4,327.3 485.5,328.2 485.6,328.1 485.6,328.6 485.7,327.7 485.7,329.4 485.8,328.9 485.8,328.0 485.9,328.5 485.9,328.2 486.1,342.9 486.1,323.5 486.1,323.3 486.2,324.4 486.3,325.3 486.3,324.5 486.4,325.6 486.4,325.9 486.5,326.9 486.6,326.1 486.6,327.2 486.7,326.7 486.8,326.9 486.8,328.0 486.9,327.1 487.0,328.2 487.0,327.6 487.1,328.4 487.1,328.8 487.2,327.7 487.3,328.0 487.3,328.4 487.4,328.0 487.4,329.1 487.5,328.9 487.6,328.4 487.6,328.4 487.7,329.2 487.8,328.4 487.8,329.3 488.0,348.7 488.0,320.7 488.0,321.2 488.1,322.6 488.1,321.9 488.2,323.9 488.2,323.5 488.3,324.8 488.4,324.5 488.5,326.0 488.5,325.7 488.6,326.3 488.6,326.6 488.7,327.3 488.8,326.7 488.8,327.9 488.9,327.0 488.9,328.1 489.0,327.6 489.1,328.0 489.2,329.0 489.2,327.7 489.3,327.9 489.3,328.7 489.4,328.2 489.4,328.7 489.5,329.3 489.6,328.0 489.7,329.6 489.7,328.1 489.7,328.8 489.8,329.7 489.9,346.5 489.9,320.0 490.0,321.7 490.1,322.6 490.1,323.1 490.2,324.8 490.3,324.5 490.3,325.7 490.4,324.9 490.5,326.9 490.5,326.1 490.6,326.9 490.7,326.5 490.7,327.9 490.7,327.5 490.8,328.2 490.9,328.1 490.9,328.9 491.1,329.1 491.1,328.0 491.2,328.3 491.2,329.4 491.3,329.2 491.3,328.4 491.4,328.9 491.4,329.8 491.5,329.3 491.5,328.7 491.7,343.6 491.7,322.1 491.8,322.9 491.8,324.1 491.9,324.1 492.0,326.0 492.0,326.3 492.1,325.8 492.1,326.0 492.2,327.1 492.2,326.9 492.3,328.0 492.4,327.2 492.5,328.3 492.5,327.9 492.6,329.0 492.6,329.1 492.7,328.2 492.8,328.5 492.9,329.2 492.9,329.0 492.9,329.7 493.0,329.9 493.1,329.5 493.2,329.8 493.2,328.8 493.3,329.3 493.3,330.1 493.4,329.2 493.4,329.9 493.5,329.4 493.6,330.4 493.6,329.5 493.7,330.1 493.8,329.3 493.8,330.4 493.9,329.3 493.9,330.4 494.0,330.0 494.0,330.5 494.2,346.5 494.2,323.4 494.3,323.9 494.3,325.2 494.4,324.5 494.5,326.1 494.6,325.8 494.6,327.2 494.7,327.3 494.7,328.3 494.8,328.8 494.8,327.6 494.9,328.0 494.9,328.9 495.0,329.3 495.1,328.6 495.2,328.9 495.2,330.0 495.3,329.9 495.3,328.6 495.4,329.0 495.4,330.2 495.5,330.1 495.6,329.4 495.7,330.4 495.7,329.6 495.8,330.4 495.8,329.9 495.9,329.9 496.0,330.7 496.0,330.2 496.0,331.2 496.2,330.5 496.2,329.8 496.3,331.1 496.3,330.2 496.4,330.2 496.4,331.3 496.5,330.1 496.6,331.2 496.6,330.8 496.7,329.9 496.8,330.0 496.9,331.1 496.9,330.2 497.0,331.3 497.0,331.1 497.1,330.0 497.1,331.3 497.2,330.6 497.3,331.3 497.3,330.3 497.4,331.4 497.4,330.5 497.6,330.4 497.6,331.1 497.6,331.4 497.7,330.2 497.8,330.2 497.8,330.9 497.9,330.2 498.0,332.0 498.0,330.7 498.1,332.1 498.1,331.0 498.2,331.8 498.2,331.5 498.3,330.8 498.4,331.7 498.4,330.4 498.5,331.3 498.5,330.6 498.6,331.6 498.7,330.3 498.7,330.7 498.8,331.3 498.9,331.0 498.9,347.6 499.0,346.1 499.1,345.3 499.2,345.2 499.2,343.9 499.2,343.7 499.3,342.7 499.4,343.1 499.5,341.6 499.5,342.1 499.6,340.8 499.6,341.8 499.7,339.9 499.7,340.9 499.8,339.7 499.9,339.3 500.0,338.6 500.0,338.2 500.1,339.5 500.1,337.6 500.1,338.5 500.2,338.7 500.3,337.2 500.4,337.0 500.4,337.9 500.5,337.6 500.5,337.1 500.6,336.5 500.7,337.4 500.8,337.7 500.9,336.1 500.9,337.0 500.9,336.1 501.0,337.0 501.1,336.3 501.1,336.8 501.2,335.6 501.3,336.3 501.3,335.8 501.4,335.1 501.5,336.4 501.5,335.5 501.6,336.6 501.7,336.2 501.7,335.2 501.8,335.3 501.8,336.2 501.9,335.3 501.9,335.9 502.1,335.8 502.1,336.3 502.2,336.2 502.2,335.7 502.2,335.8 502.3,336.3 502.4,336.4 502.5,335.2 502.5,336.4 502.6,335.4 502.7,335.6 502.7,336.5 502.7,335.4 502.8,336.3 502.9,335.6 502.9,336.2 503.0,335.8 503.1,336.7 503.2,336.4 503.2,335.5 503.2,336.9 503.3,335.8 503.4,335.2 503.5,337.0 503.5,336.8 503.6,336.1 503.6,335.9 503.7,336.4 503.8,344.1 503.9,317.2 503.9,318.6 504.0,319.6 504.0,320.5 504.1,322.4 504.1,322.4 504.2,324.2 504.3,323.6 504.4,324.9 504.4,324.6 504.5,326.0 504.5,325.8 504.6,324.7 504.7,325.6 504.7,326.1 504.8,325.8 504.9,326.8 504.9,326.2 504.9,326.6 505.0,326.2 505.1,327.2 505.1,327.1 505.2,326.2 505.3,327.4 505.3,326.1 505.4,327.6 505.4,327.1 505.5,327.3 505.5,326.7 505.6,326.8 505.7,327.7 505.8,326.7 505.8,327.5 505.9,327.3 505.9,328.1 506.0,327.6 506.1,326.9 506.1,327.3 506.2,327.9 506.3,327.1 506.3,348.5 506.4,316.9 506.5,319.2 506.5,319.5 506.6,321.3 506.6,320.9 506.7,322.4 506.8,344.9 506.9,317.3 506.9,316.8 507.0,319.4 507.0,319.9 507.1,320.7 507.1,321.0 507.2,322.3 507.2,322.7 507.4,323.8 507.4,323.4 507.5,325.0 507.6,324.1 507.6,325.2 507.7,326.1 507.7,325.3 507.7,325.6 507.8,326.4 507.9,326.2 507.9,326.6 508.0,325.5 508.1,327.0 508.2,326.9 508.2,328.1 508.3,327.2 508.3,328.1 508.4,327.0 508.4,327.8 508.5,326.9 508.6,328.2 508.6,327.5 508.7,328.6 508.8,328.2 508.8,327.5 508.9,327.1 509.0,328.5 509.0,328.3 509.1,327.6 509.1,344.0 509.1,315.2 509.3,318.5 509.3,320.0 509.4,319.9 509.4,321.6 509.5,345.4 509.5,319.6 509.6,321.4 509.7,322.6 509.8,322.8 509.8,324.0 509.9,323.7 510.0,325.1 510.0,345.1 510.0,317.3 510.1,319.2 510.2,320.9 510.2,321.0 510.3,322.9 510.4,322.2 510.5,324.3 510.5,325.1 510.5,324.2 510.7,324.9 510.7,326.3 510.7,325.6 510.8,326.5 510.9,326.4 511.0,327.5 511.1,325.8 511.1,327.8 511.1,327.9 511.2,327.1 511.3,327.5 511.3,328.0 511.5,339.8 511.5,317.5 511.5,317.4 511.6,319.9 511.6,320.4 511.7,321.4 511.8,322.1 511.8,323.3 511.9,323.1 512.0,324.5 512.0,324.4 512.1,325.6 512.1,344.8 512.1,319.2 512.3,321.5 512.4,323.1 512.4,323.2 512.5,324.1 512.6,324.3 512.6,325.7 512.6,345.5 512.6,317.7 512.8,319.9 512.8,321.9 512.9,321.7 512.9,323.3 513.0,323.5 513.1,325.1 513.2,324.8 513.2,326.0 513.3,326.4 513.3,325.4 513.4,326.4 513.5,327.5 513.5,326.7 513.6,327.9 513.7,327.6 513.7,328.4 513.8,327.9 513.9,328.6 513.9,327.9 513.9,329.9 514.0,328.4 514.1,329.5 514.2,328.6 514.2,329.1 514.2,329.4 514.4,328.1 514.4,328.6 514.5,330.3 514.5,329.6 514.6,328.8 514.6,328.9 514.7,329.9 514.8,344.3 514.8,317.3 514.9,318.7 515.0,319.9 515.1,320.9 515.1,322.2 515.1,322.3 515.2,324.4 515.2,323.4 515.4,325.6 515.4,325.5 515.5,326.6 515.5,326.1 515.6,327.3 515.7,344.7 515.7,317.4 515.8,318.7 515.8,320.9 515.9,321.3 515.9,322.6 516.0,322.5 516.1,324.4 516.1,324.1 516.2,325.7 516.3,325.5 516.4,326.7 516.4,326.4 516.4,327.5 516.5,327.0 516.5,328.3 516.6,328.7 516.7,327.8 516.8,328.7 516.8,328.2 517.0,329.6 517.0,328.6 517.0,329.0 517.1,330.2 517.2,329.1 517.2,330.0 517.3,329.2 517.3,330.6 517.4,329.2 517.5,330.7 517.5,329.7 517.6,330.4 517.6,329.2 517.7,330.4 517.7,330.5 517.8,329.6 517.9,329.7 517.9,330.8 518.1,329.6 518.1,331.5 518.2,331.0 518.2,330.4 518.3,329.4 518.4,330.6 518.4,329.8 518.5,331.3 518.5,330.5 518.6,330.9 518.6,331.4 518.7,330.5 518.8,330.3 518.9,330.8 518.9,330.3 518.9,330.7 519.0,330.0 519.0,331.2 519.1,330.1 519.2,331.8 519.3,330.6 519.3,331.2 519.4,331.1 519.5,330.3 519.5,331.2 519.6,330.3 519.6,330.2 519.7,331.4 519.8,330.7 519.8,331.6 519.9,330.6 519.9,331.1 520.0,330.2 520.0,331.3 520.2,331.8 520.2,330.9 520.3,331.3 520.3,330.3 520.4,331.6 520.4,330.3 520.5,330.8 520.6,348.5 520.6,347.3 520.7,345.0 520.8,345.3 520.8,343.9 520.9,343.1 521.0,341.3 521.0,341.4 521.1,340.4 521.1,340.4 521.2,339.3 521.3,339.4 521.3,338.3 521.4,339.4 521.4,338.2 521.6,338.5 521.6,337.7 521.7,337.3 521.7,338.1 521.8,337.1 521.8,337.6 521.9,336.2 521.9,337.3 522.0,336.5 522.1,337.2 522.1,336.8 522.2,336.4 522.2,336.8 522.4,335.4 522.5,342.7 522.5,320.2 522.5,319.8 522.6,322.2 522.6,322.4 522.7,323.7 522.8,323.6 522.9,325.3 522.9,345.7 522.9,320.6 523.0,322.4 523.1,323.4 523.2,323.3 523.2,324.2 523.3,323.7 523.4,325.0 523.4,324.0 523.5,325.5 523.5,341.5 523.5,319.6 523.6,320.1 523.7,322.2 523.8,321.7 523.9,323.1 523.9,322.7 524.0,324.3 524.1,324.3 524.1,323.8 524.2,323.9 524.2,324.9 524.3,324.7 524.3,325.8 524.4,346.7 524.5,319.0 524.5,319.6 524.6,321.4 524.6,321.3 524.7,322.6 524.8,322.6 524.8,323.3 524.9,323.0 525.0,324.0 525.0,323.4 525.1,324.8 525.1,324.3 525.2,325.3 525.3,324.9 525.3,325.6 525.4,326.3 525.5,325.4 525.6,326.4 525.6,325.6 525.7,326.7 525.7,325.8 525.8,343.8 525.8,321.2 525.9,322.7 526.0,324.6 526.0,323.6 526.1,324.6 526.2,324.2 526.2,324.8 526.3,324.6 526.4,325.5 526.4,324.9 526.5,326.3 526.5,326.4 526.6,326.0 526.6,326.7 526.6,325.9 526.8,326.6 526.9,326.4 526.9,327.3 527.0,325.5 527.0,326.4 527.0,327.0 527.2,327.3 527.2,326.5 527.3,327.4 527.3,326.6 527.4,327.5 527.4,326.9 527.6,326.8 527.6,328.0 527.6,328.0 527.7,327.2 527.8,327.1 527.9,328.5 527.9,327.7 528.0,326.7 528.1,342.6 528.1,319.7 528.2,320.7 528.2,322.3 528.3,321.9 528.4,323.0 528.4,323.2 528.5,324.5 528.5,323.3 528.6,325.2 528.6,324.5 528.7,326.0 528.8,326.0 528.8,325.2 529.0,325.7 529.0,326.4 529.0,325.9 529.1,327.7 529.1,326.3 529.2,327.0 529.2,326.6 529.3,328.2 529.4,347.2 529.5,319.7 529.5,320.6 529.6,322.0 529.7,322.3 529.7,323.1 529.7,323.3 529.9,324.3 529.9,325.1 530.0,324.2 530.0,324.9 530.1,325.9 530.1,325.7 530.2,326.5 530.3,326.1 530.4,327.6 530.4,326.3 530.5,328.1 530.6,326.9 530.6,327.9 530.7,327.2 530.7,327.7 530.8,327.8 530.8,327.1 530.9,328.1 531.0,327.6 531.1,327.6 531.1,327.9 531.1,328.0 531.2,328.6 531.3,327.7 531.3,328.4 531.4,328.2 531.5,327.6 531.6,328.3 531.6,328.8 531.7,328.9 531.7,327.5 531.8,328.7 531.8,328.1 531.9,327.9 532.0,328.9 532.0,343.0 532.1,321.0 532.2,322.4 532.2,323.0 532.3,322.8 532.4,325.0 532.4,323.8 532.5,325.3 532.5,344.3 532.5,322.5 532.6,322.4 532.7,325.0 532.8,324.2 532.9,325.5 532.9,325.4 533.0,326.2 533.0,326.1 533.1,327.0 533.1,345.0 533.2,320.8 533.3,322.3 533.3,323.3 533.4,323.7 533.5,324.9 533.5,324.5 533.6,325.9 533.7,326.3 533.7,325.5 533.8,326.0 533.8,327.0 533.9,326.8 534.0,327.8 534.0,326.9 534.1,346.2 534.1,323.2 534.2,324.6 534.3,324.7 534.4,325.5 534.5,325.1 534.5,326.7 534.5,327.2 534.5,325.9 534.7,326.9 534.7,327.7 534.8,344.4 534.8,320.1 534.9,321.4 535.0,322.2 535.0,322.4 535.1,324.0 535.2,324.1 535.2,325.3 535.3,325.4 535.3,326.2 535.4,326.2 535.5,346.3 535.5,321.4 535.6,323.7 535.6,323.1 535.7,324.5 535.8,324.5 535.9,325.5 535.9,325.2 536.0,326.5 536.0,326.1 536.1,327.5 536.1,327.1 536.2,328.5 536.3,327.4 536.4,345.7 536.4,322.3 536.5,325.1 536.5,324.4 536.6,326.1 536.7,325.6 536.7,326.6 536.8,325.8 536.8,327.4 536.9,327.3 536.9,328.3 537.1,327.5 537.1,328.4 537.2,345.3 537.2,320.0 537.3,321.6 537.3,322.9 537.5,324.4 537.5,323.9 537.5,324.8 537.6,326.7 537.6,325.7 537.7,326.7 537.8,326.9 537.9,328.3 537.9,327.3 538.0,328.1 538.1,327.5 538.1,328.4 538.1,328.5 538.2,328.9 538.3,328.6 538.3,329.4 538.5,328.6 538.5,329.7 538.5,328.9 538.6,329.7 538.7,330.1 538.7,328.9 538.8,329.1 538.8,330.2 539.0,330.6 539.0,329.8 539.0,329.8 539.1,330.4 539.1,330.4 539.2,329.8 539.3,329.2 539.4,330.8 539.4,330.2 539.4,331.1 539.5,330.7 539.6,330.1 539.7,329.8 539.7,330.8 539.8,330.6 539.9,329.8 539.9,330.0 539.9,330.9 540.0,330.1 540.1,331.1 540.2,331.3 540.2,330.3 540.3,330.0 540.3,331.7 540.4,331.1 540.4,329.9 540.5,331.3 540.6,330.4 540.7,331.0 540.7,330.4 540.8,330.4 540.9,331.4 540.9,331.2 540.9,330.2 541.1,330.2 541.1,331.0 541.2,330.1 541.2,331.4 541.3,330.7 541.3,331.5 541.5,330.2 541.5,331.6 541.5,331.1 541.6,330.2 541.6,331.4 541.7,330.4 541.8,330.6 541.8,331.5 541.9,330.6 542.0,331.9 542.1,331.3 542.1,330.7 542.2,331.5 542.2,329.9 542.3,330.8 542.3,349.8 542.4,348.6 542.5,347.7" fill="none" stroke="#0072BD" stroke-width="0.55" stroke-linejoin="round"/></g>
<path d="M323.80 371.30v-2.20M323.80 277.50v2.20M367.54 371.30v-2.20M367.54 277.50v2.20M411.28 371.30v-2.20M411.28 277.50v2.20M455.02 371.30v-2.20M455.02 277.50v2.20M498.76 371.30v-2.20M498.76 277.50v2.20M542.50 371.30v-2.20M542.50 277.50v2.20M323.80 371.30h2.20M542.50 371.30h-2.20M323.80 352.54h2.20M542.50 352.54h-2.20M323.80 333.78h2.20M542.50 333.78h-2.20M323.80 315.02h2.20M542.50 315.02h-2.20M323.80 296.26h2.20M542.50 296.26h-2.20M323.80 277.50h2.20M542.50 277.50h-2.20" stroke="#6e6e6e" stroke-width="0.9" fill="none"/>
<rect x="323.80" y="277.50" width="218.70" height="93.80" fill="none" stroke="#6e6e6e" stroke-width="1.3"/>
<text x="323.80" y="384.80" class="tk" text-anchor="middle">45</text>
<text x="367.54" y="384.80" class="tk" text-anchor="middle">46</text>
<text x="411.28" y="384.80" class="tk" text-anchor="middle">47</text>
<text x="455.02" y="384.80" class="tk" text-anchor="middle">48</text>
<text x="498.76" y="384.80" class="tk" text-anchor="middle">49</text>
<text x="542.50" y="384.80" class="tk" text-anchor="middle">50</text>
<text x="319.80" y="374.80" class="tk" text-anchor="end">-1</text>
<text x="319.80" y="356.04" class="tk" text-anchor="end">-0.5</text>
<text x="319.80" y="337.28" class="tk" text-anchor="end">0</text>
<text x="319.80" y="318.52" class="tk" text-anchor="end">0.5</text>
<text x="319.80" y="299.76" class="tk" text-anchor="end">1</text>
<text x="319.80" y="281.00" class="tk" text-anchor="end">1.5</text>
<rect x="330.70" y="283.60" width="99.40" height="13.00" fill="#fff" stroke="#6e6e6e" stroke-width="1.3"/>
<path d="M334.00 290.00h26" stroke="#0072BD" stroke-width="1" fill="none"/>
<text x="362.70" y="293.30" class="lg">ResDnCNN-SISC</text>
<text x="323.80" y="271.40" class="pl" text-anchor="middle">(f)</text>
<text class="al" transform="translate(15.8 63.50) rotate(-90)" text-anchor="middle">Amplitude(mV)</text>
<text class="al" transform="translate(10.8 193.90) rotate(-90)" text-anchor="middle">Amplitude(mV)</text>
<text class="al" transform="translate(10.8 324.40) rotate(-90)" text-anchor="middle">Amplitude(mV)</text>
<text class="al" x="144.85" y="397.8" text-anchor="middle">Time(s)</text>
<text class="al" x="433.15" y="397.8" text-anchor="middle">Time(s)</text>
</svg>
</body></html>
